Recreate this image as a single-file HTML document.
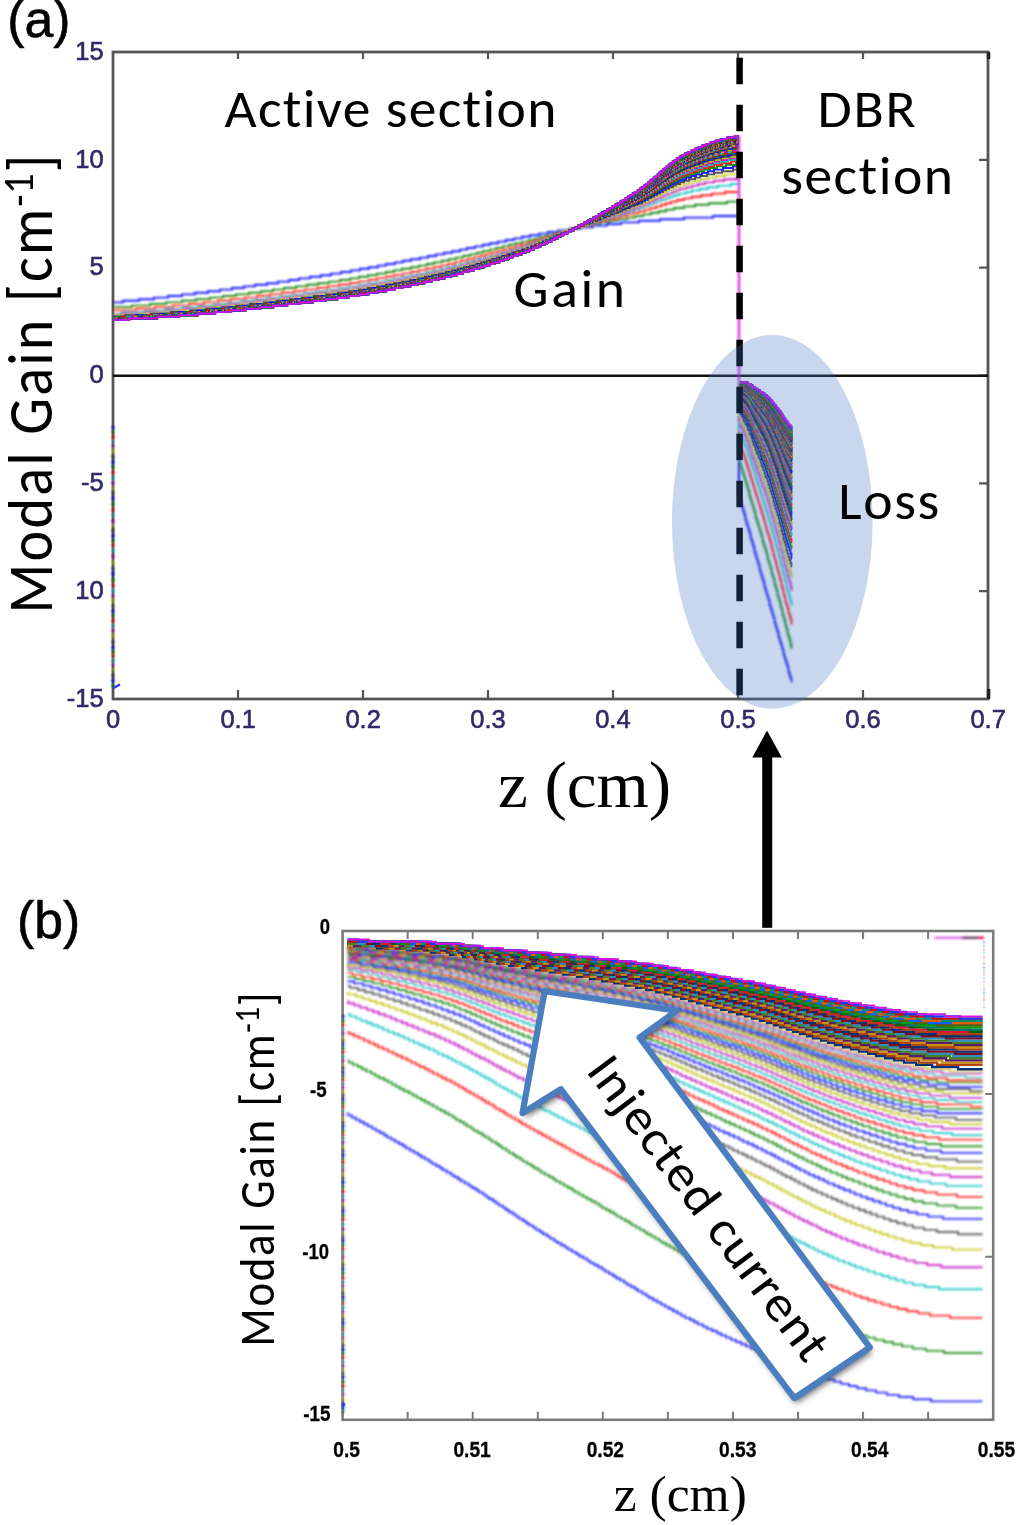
<!DOCTYPE html>
<html><head><meta charset="utf-8"><title>Modal gain</title>
<style>html,body{margin:0;padding:0;background:#fff}svg{display:block}text{font-variant-ligatures:none;font-feature-settings:"liga" 0,"clig" 0}</style>
</head><body>
<svg width="1020" height="1525" viewBox="0 0 1020 1525">
<rect width="1020" height="1525" fill="#fff"/>
<defs><filter id="sh" x="-20%" y="-20%" width="140%" height="140%"><feGaussianBlur stdDeviation="3"/></filter><filter id="bl" filterUnits="userSpaceOnUse" x="0" y="0" width="1020" height="1525"><feGaussianBlur stdDeviation="0.85"/></filter><filter id="bl2" filterUnits="userSpaceOnUse" x="0" y="0" width="1020" height="1525"><feGaussianBlur stdDeviation="0.45"/></filter></defs>
<path d="M238 699v-9M238 52v7M363 699v-9M363 52v7M488 699v-9M488 52v7M613 699v-9M613 52v7M738 699v-9M738 52v7M863 699v-9M863 52v7M988 159.83h-9M988 267.66h-9M988 375.5h-9M988 483.34h-9M988 591.17h-9" stroke="#555" stroke-width="2.2" fill="none"/>
<rect x="113" y="52" width="875" height="647" fill="none" stroke="#555" stroke-width="2.8"/>
<path d="M988.6 689v10M988.6 52v7" stroke="#222" stroke-width="3.4"/>
<line x1="113" y1="375.8" x2="988" y2="375.8" stroke="#111" stroke-width="2.6"/>
<g filter="url(#bl)">
<path d="M113.5 302.4H123.0V300.8H139.0V299.2H154.0V297.6H168.0V296.0H182.0V294.4H195.0V292.8H208.0V291.2H220.0V289.6H232.0V288.0H244.0V286.4H255.0V284.8H267.0V283.2H278.0V281.6H289.0V280.0H299.0V278.4H310.0V276.8H321.0V275.2H331.0V273.6H341.0V272.0H351.0V270.4H360.0V268.8H369.0V267.2H378.0V265.6H386.0V264.0H395.0V262.4H403.0V260.8H411.0V259.2H420.0V257.6H428.0V256.0H436.0V254.4H444.0V252.8H452.0V251.2H460.0V249.6H467.0V248.0H475.0V246.4H483.0V244.8H490.0V243.2H498.0V241.6H506.0V240.0H514.0V238.4H522.0V236.8H530.0V235.2H539.0V233.6H548.0V232.0H558.0V230.4H569.0V228.8H581.0V227.2H593.0V225.6H607.0V224.0H621.0V222.4H639.0V220.8H660.0V219.2H684.0V217.6H713.0V216.0H738.5" fill="none" stroke="#0000ff" stroke-width="1.9" stroke-opacity="0.9"/>
<path d="M113.5 307.2H132.0V305.6H150.0V304.0H166.0V302.4H182.0V300.8H196.0V299.2H210.0V297.6H223.0V296.0H236.0V294.4H249.0V292.8H261.0V291.2H273.0V289.6H284.0V288.0H296.0V286.4H307.0V284.8H318.0V283.2H329.0V281.6H340.0V280.0H350.0V278.4H359.0V276.8H368.0V275.2H377.0V273.6H386.0V272.0H394.0V270.4H402.0V268.8H411.0V267.2H419.0V265.6H427.0V264.0H434.0V262.4H442.0V260.8H449.0V259.2H456.0V257.6H463.0V256.0H470.0V254.4H477.0V252.8H483.0V251.2H490.0V249.6H496.0V248.0H503.0V246.4H509.0V244.8H516.0V243.2H522.0V241.6H529.0V240.0H535.0V238.4H540.0V236.8H546.0V235.2H552.0V233.6H558.0V232.0H564.0V230.4H571.0V228.8H578.0V227.2H585.0V225.6H593.0V224.0H601.0V222.4H610.0V220.8H618.0V219.2H627.0V217.6H635.0V216.0H643.0V214.4H651.0V212.8H659.0V211.2H666.0V209.6H674.0V208.0H684.0V206.4H695.0V204.8H709.0V203.2H727.0V201.6H738.5" fill="none" stroke="#008000" stroke-width="1.9" stroke-opacity="0.9"/>
<path d="M113.5 310.4H136.0V308.8H155.0V307.2H173.0V305.6H189.0V304.0H204.0V302.4H218.0V300.8H231.0V299.2H245.0V297.6H257.0V296.0H270.0V294.4H282.0V292.8H294.0V291.2H305.0V289.6H317.0V288.0H328.0V286.4H339.0V284.8H350.0V283.2H359.0V281.6H369.0V280.0H377.0V278.4H386.0V276.8H394.0V275.2H403.0V273.6H411.0V272.0H419.0V270.4H426.0V268.8H434.0V267.2H441.0V265.6H448.0V264.0H455.0V262.4H461.0V260.8H468.0V259.2H474.0V257.6H480.0V256.0H486.0V254.4H492.0V252.8H498.0V251.2H504.0V249.6H510.0V248.0H516.0V246.4H521.0V244.8H527.0V243.2H532.0V241.6H537.0V240.0H542.0V238.4H547.0V236.8H552.0V235.2H556.0V233.6H561.0V232.0H566.0V230.4H572.0V228.8H577.0V227.2H583.0V225.6H589.0V224.0H595.0V222.4H601.0V220.8H608.0V219.2H615.0V217.6H621.0V216.0H627.0V214.4H633.0V212.8H639.0V211.2H645.0V209.6H650.0V208.0H656.0V206.4H661.0V204.8H666.0V203.2H671.0V201.6H677.0V200.0H684.0V198.4H692.0V196.8H701.0V195.2H712.0V193.6H725.0V192.0H738.5" fill="none" stroke="#ff0000" stroke-width="1.9" stroke-opacity="0.9"/>
<path d="M113.5 313.6H122.0V312.0H145.0V310.4H165.0V308.8H182.0V307.2H198.0V305.6H213.0V304.0H228.0V302.4H241.0V300.8H254.0V299.2H267.0V297.6H280.0V296.0H292.0V294.4H304.0V292.8H316.0V291.2H327.0V289.6H339.0V288.0H349.0V286.4H359.0V284.8H368.0V283.2H377.0V281.6H386.0V280.0H394.0V278.4H402.0V276.8H410.0V275.2H418.0V273.6H426.0V272.0H433.0V270.4H440.0V268.8H447.0V267.2H453.0V265.6H460.0V264.0H466.0V262.4H472.0V260.8H478.0V259.2H484.0V257.6H490.0V256.0H496.0V254.4H501.0V252.8H507.0V251.2H512.0V249.6H517.0V248.0H523.0V246.4H528.0V244.8H532.0V243.2H537.0V241.6H541.0V240.0H546.0V238.4H550.0V236.8H554.0V235.2H559.0V233.6H563.0V232.0H567.0V230.4H572.0V228.8H577.0V227.2H582.0V225.6H587.0V224.0H592.0V222.4H598.0V220.8H603.0V219.2H609.0V217.6H614.0V216.0H620.0V214.4H625.0V212.8H630.0V211.2H635.0V209.6H640.0V208.0H645.0V206.4H649.0V204.8H653.0V203.2H657.0V201.6H661.0V200.0H666.0V198.4H670.0V196.8H674.0V195.2H679.0V193.6H686.0V192.0H692.0V190.4H700.0V188.8H708.0V187.2H718.0V185.6H731.0V184.0H738.5" fill="none" stroke="#00bfbf" stroke-width="1.9" stroke-opacity="0.9"/>
<path d="M113.5 315.2H121.0V313.6H145.0V312.0H166.0V310.4H184.0V308.8H200.0V307.2H215.0V305.6H230.0V304.0H244.0V302.4H257.0V300.8H270.0V299.2H283.0V297.6H295.0V296.0H307.0V294.4H319.0V292.8H331.0V291.2H342.0V289.6H353.0V288.0H362.0V286.4H371.0V284.8H380.0V283.2H389.0V281.6H397.0V280.0H405.0V278.4H413.0V276.8H421.0V275.2H428.0V273.6H435.0V272.0H442.0V270.4H449.0V268.8H455.0V267.2H461.0V265.6H467.0V264.0H473.0V262.4H479.0V260.8H485.0V259.2H490.0V257.6H496.0V256.0H501.0V254.4H506.0V252.8H512.0V251.2H517.0V249.6H522.0V248.0H527.0V246.4H531.0V244.8H536.0V243.2H540.0V241.6H544.0V240.0H548.0V238.4H552.0V236.8H556.0V235.2H560.0V233.6H564.0V232.0H568.0V230.4H572.0V228.8H577.0V227.2H581.0V225.6H586.0V224.0H590.0V222.4H595.0V220.8H600.0V219.2H605.0V217.6H610.0V216.0H615.0V214.4H620.0V212.8H625.0V211.2H629.0V209.6H634.0V208.0H638.0V206.4H642.0V204.8H646.0V203.2H650.0V201.6H654.0V200.0H657.0V198.4H661.0V196.8H664.0V195.2H668.0V193.6H672.0V192.0H676.0V190.4H680.0V188.8H686.0V187.2H692.0V185.6H698.0V184.0H705.0V182.4H714.0V180.8H724.0V179.2H737.0V177.6H738.5" fill="none" stroke="#bf00bf" stroke-width="1.9" stroke-opacity="0.9"/>
<path d="M113.5 315.2H139.0V313.6H161.0V312.0H180.0V310.4H197.0V308.8H213.0V307.2H228.0V305.6H242.0V304.0H255.0V302.4H269.0V300.8H281.0V299.2H294.0V297.6H306.0V296.0H318.0V294.4H330.0V292.8H342.0V291.2H352.0V289.6H362.0V288.0H371.0V286.4H380.0V284.8H389.0V283.2H397.0V281.6H405.0V280.0H413.0V278.4H420.0V276.8H427.0V275.2H435.0V273.6H441.0V272.0H448.0V270.4H454.0V268.8H460.0V267.2H466.0V265.6H472.0V264.0H478.0V262.4H484.0V260.8H489.0V259.2H494.0V257.6H500.0V256.0H505.0V254.4H510.0V252.8H515.0V251.2H520.0V249.6H525.0V248.0H529.0V246.4H533.0V244.8H537.0V243.2H541.0V241.6H545.0V240.0H549.0V238.4H553.0V236.8H557.0V235.2H560.0V233.6H564.0V232.0H568.0V230.4H572.0V228.8H576.0V227.2H581.0V225.6H585.0V224.0H589.0V222.4H594.0V220.8H598.0V219.2H603.0V217.6H608.0V216.0H612.0V214.4H617.0V212.8H621.0V211.2H625.0V209.6H629.0V208.0H633.0V206.4H638.0V204.8H641.0V203.2H645.0V201.6H649.0V200.0H652.0V198.4H655.0V196.8H658.0V195.2H661.0V193.6H665.0V192.0H668.0V190.4H671.0V188.8H675.0V187.2H679.0V185.6H684.0V184.0H689.0V182.4H695.0V180.8H701.0V179.2H708.0V177.6H716.0V176.0H725.0V174.4H738.0V172.8H738.5" fill="none" stroke="#bfbf00" stroke-width="1.9" stroke-opacity="0.9"/>
</g><g filter="url(#bl2)">
<path d="M113.5 316.8H125.0V315.2H151.0V313.6H171.0V312.0H190.0V310.4H206.0V308.8H222.0V307.2H236.0V305.6H250.0V304.0H264.0V302.4H277.0V300.8H290.0V299.2H302.0V297.6H314.0V296.0H326.0V294.4H338.0V292.8H349.0V291.2H359.0V289.6H368.0V288.0H377.0V286.4H386.0V284.8H394.0V283.2H402.0V281.6H410.0V280.0H418.0V278.4H425.0V276.8H432.0V275.2H439.0V273.6H446.0V272.0H452.0V270.4H458.0V268.8H464.0V267.2H470.0V265.6H476.0V264.0H481.0V262.4H487.0V260.8H492.0V259.2H497.0V257.6H502.0V256.0H507.0V254.4H512.0V252.8H517.0V251.2H522.0V249.6H527.0V248.0H531.0V246.4H535.0V244.8H539.0V243.2H543.0V241.6H546.0V240.0H550.0V238.4H554.0V236.8H557.0V235.2H561.0V233.6H565.0V232.0H569.0V230.4H572.0V228.8H576.0V227.2H580.0V225.6H584.0V224.0H589.0V222.4H593.0V220.8H597.0V219.2H601.0V217.6H606.0V216.0H610.0V214.4H614.0V212.8H618.0V211.2H622.0V209.6H626.0V208.0H630.0V206.4H634.0V204.8H638.0V203.2H642.0V201.6H645.0V200.0H648.0V198.4H651.0V196.8H654.0V195.2H657.0V193.6H660.0V192.0H663.0V190.4H666.0V188.8H669.0V187.2H673.0V185.6H676.0V184.0H680.0V182.4H684.0V180.8H689.0V179.2H695.0V177.6H700.0V176.0H707.0V174.4H714.0V172.8H722.0V171.2H733.0V169.6H738.5" fill="none" stroke="#404040" stroke-width="1.9" stroke-opacity="0.9"/>
<path d="M113.5 316.8H136.0V315.2H160.0V313.6H179.0V312.0H197.0V310.4H213.0V308.8H229.0V307.2H243.0V305.6H257.0V304.0H270.0V302.4H283.0V300.8H296.0V299.2H308.0V297.6H321.0V296.0H333.0V294.4H344.0V292.8H354.0V291.2H364.0V289.6H373.0V288.0H382.0V286.4H390.0V284.8H399.0V283.2H407.0V281.6H414.0V280.0H422.0V278.4H429.0V276.8H436.0V275.2H442.0V273.6H449.0V272.0H455.0V270.4H461.0V268.8H467.0V267.2H473.0V265.6H478.0V264.0H484.0V262.4H489.0V260.8H494.0V259.2H499.0V257.6H504.0V256.0H509.0V254.4H514.0V252.8H519.0V251.2H523.0V249.6H528.0V248.0H532.0V246.4H536.0V244.8H540.0V243.2H543.0V241.6H547.0V240.0H551.0V238.4H554.0V236.8H558.0V235.2H561.0V233.6H565.0V232.0H569.0V230.4H572.0V228.8H576.0V227.2H580.0V225.6H584.0V224.0H588.0V222.4H592.0V220.8H596.0V219.2H600.0V217.6H604.0V216.0H608.0V214.4H612.0V212.8H616.0V211.2H620.0V209.6H624.0V208.0H628.0V206.4H631.0V204.8H635.0V203.2H639.0V201.6H642.0V200.0H645.0V198.4H648.0V196.8H651.0V195.2H654.0V193.6H657.0V192.0H660.0V190.4H662.0V188.8H665.0V187.2H668.0V185.6H671.0V184.0H674.0V182.4H678.0V180.8H682.0V179.2H686.0V177.6H691.0V176.0H696.0V174.4H702.0V172.8H708.0V171.2H714.0V169.6H723.0V168.0H733.0V166.4H738.5" fill="none" stroke="#0000ff" stroke-width="1.9" stroke-opacity="0.9"/>
<path d="M113.5 318.4H114.0V316.8H144.0V315.2H166.0V313.6H186.0V312.0H203.0V310.4H219.0V308.8H234.0V307.2H248.0V305.6H262.0V304.0H275.0V302.4H288.0V300.8H301.0V299.2H313.0V297.6H325.0V296.0H337.0V294.4H348.0V292.8H358.0V291.2H368.0V289.6H377.0V288.0H386.0V286.4H394.0V284.8H402.0V283.2H410.0V281.6H417.0V280.0H425.0V278.4H432.0V276.8H438.0V275.2H445.0V273.6H451.0V272.0H457.0V270.4H463.0V268.8H469.0V267.2H475.0V265.6H480.0V264.0H485.0V262.4H491.0V260.8H496.0V259.2H501.0V257.6H506.0V256.0H511.0V254.4H515.0V252.8H520.0V251.2H525.0V249.6H529.0V248.0H533.0V246.4H537.0V244.8H540.0V243.2H544.0V241.6H548.0V240.0H551.0V238.4H555.0V236.8H558.0V235.2H562.0V233.6H565.0V232.0H569.0V230.4H573.0V228.8H576.0V227.2H580.0V225.6H584.0V224.0H588.0V222.4H591.0V220.8H595.0V219.2H599.0V217.6H603.0V216.0H607.0V214.4H611.0V212.8H615.0V211.2H619.0V209.6H622.0V208.0H626.0V206.4H629.0V204.8H633.0V203.2H636.0V201.6H640.0V200.0H643.0V198.4H646.0V196.8H649.0V195.2H652.0V193.6H654.0V192.0H657.0V190.4H660.0V188.8H662.0V187.2H665.0V185.6H668.0V184.0H671.0V182.4H674.0V180.8H677.0V179.2H680.0V177.6H685.0V176.0H689.0V174.4H694.0V172.8H699.0V171.2H704.0V169.6H710.0V168.0H717.0V166.4H726.0V164.8H736.0V163.2H738.5" fill="none" stroke="#008000" stroke-width="1.9" stroke-opacity="0.9"/>
<path d="M113.5 318.4H122.0V316.8H149.0V315.2H171.0V313.6H190.0V312.0H207.0V310.4H223.0V308.8H238.0V307.2H252.0V305.6H266.0V304.0H279.0V302.4H292.0V300.8H304.0V299.2H317.0V297.6H329.0V296.0H341.0V294.4H351.0V292.8H361.0V291.2H371.0V289.6H380.0V288.0H388.0V286.4H396.0V284.8H404.0V283.2H412.0V281.6H420.0V280.0H427.0V278.4H434.0V276.8H440.0V275.2H447.0V273.6H453.0V272.0H459.0V270.4H465.0V268.8H471.0V267.2H476.0V265.6H482.0V264.0H487.0V262.4H492.0V260.8H497.0V259.2H502.0V257.6H507.0V256.0H512.0V254.4H516.0V252.8H521.0V251.2H525.0V249.6H530.0V248.0H533.0V246.4H537.0V244.8H541.0V243.2H545.0V241.6H548.0V240.0H552.0V238.4H555.0V236.8H558.0V235.2H562.0V233.6H565.0V232.0H569.0V230.4H573.0V228.8H576.0V227.2H580.0V225.6H584.0V224.0H587.0V222.4H591.0V220.8H595.0V219.2H599.0V217.6H602.0V216.0H606.0V214.4H610.0V212.8H614.0V211.2H617.0V209.6H621.0V208.0H624.0V206.4H628.0V204.8H631.0V203.2H635.0V201.6H638.0V200.0H641.0V198.4H644.0V196.8H647.0V195.2H650.0V193.6H652.0V192.0H655.0V190.4H657.0V188.8H660.0V187.2H663.0V185.6H665.0V184.0H668.0V182.4H671.0V180.8H673.0V179.2H677.0V177.6H680.0V176.0H684.0V174.4H688.0V172.8H693.0V171.2H697.0V169.6H702.0V168.0H708.0V166.4H714.0V164.8H722.0V163.2H731.0V161.6H738.5" fill="none" stroke="#ff0000" stroke-width="1.9" stroke-opacity="0.9"/>
<path d="M113.5 318.4H127.0V316.8H154.0V315.2H175.0V313.6H194.0V312.0H211.0V310.4H226.0V308.8H241.0V307.2H255.0V305.6H269.0V304.0H282.0V302.4H295.0V300.8H308.0V299.2H320.0V297.6H332.0V296.0H344.0V294.4H354.0V292.8H364.0V291.2H373.0V289.6H382.0V288.0H390.0V286.4H398.0V284.8H406.0V283.2H414.0V281.6H421.0V280.0H429.0V278.4H435.0V276.8H442.0V275.2H448.0V273.6H454.0V272.0H460.0V270.4H466.0V268.8H472.0V267.2H477.0V265.6H483.0V264.0H488.0V262.4H493.0V260.8H498.0V259.2H503.0V257.6H508.0V256.0H512.0V254.4H517.0V252.8H522.0V251.2H526.0V249.6H530.0V248.0H534.0V246.4H538.0V244.8H541.0V243.2H545.0V241.6H548.0V240.0H552.0V238.4H555.0V236.8H559.0V235.2H562.0V233.6H566.0V232.0H569.0V230.4H573.0V228.8H576.0V227.2H580.0V225.6H583.0V224.0H587.0V222.4H591.0V220.8H594.0V219.2H598.0V217.6H602.0V216.0H605.0V214.4H609.0V212.8H613.0V211.2H616.0V209.6H620.0V208.0H623.0V206.4H627.0V204.8H630.0V203.2H633.0V201.6H636.0V200.0H639.0V198.4H642.0V196.8H645.0V195.2H648.0V193.6H651.0V192.0H653.0V190.4H656.0V188.8H658.0V187.2H661.0V185.6H663.0V184.0H666.0V182.4H668.0V180.8H671.0V179.2H674.0V177.6H677.0V176.0H680.0V174.4H684.0V172.8H688.0V171.2H692.0V169.6H697.0V168.0H702.0V166.4H707.0V164.8H713.0V163.2H720.0V161.6H728.0V160.0H738.5" fill="none" stroke="#00bfbf" stroke-width="1.9" stroke-opacity="0.9"/>
<path d="M113.5 318.4H132.0V316.8H158.0V315.2H179.0V313.6H197.0V312.0H214.0V310.4H229.0V308.8H244.0V307.2H258.0V305.6H271.0V304.0H285.0V302.4H297.0V300.8H310.0V299.2H322.0V297.6H335.0V296.0H346.0V294.4H356.0V292.8H366.0V291.2H375.0V289.6H384.0V288.0H392.0V286.4H400.0V284.8H408.0V283.2H415.0V281.6H423.0V280.0H430.0V278.4H437.0V276.8H443.0V275.2H450.0V273.6H456.0V272.0H462.0V270.4H467.0V268.8H473.0V267.2H478.0V265.6H484.0V264.0H489.0V262.4H494.0V260.8H499.0V259.2H504.0V257.6H508.0V256.0H513.0V254.4H518.0V252.8H522.0V251.2H527.0V249.6H531.0V248.0H534.0V246.4H538.0V244.8H542.0V243.2H545.0V241.6H549.0V240.0H552.0V238.4H556.0V236.8H559.0V235.2H562.0V233.6H566.0V232.0H569.0V230.4H573.0V228.8H576.0V227.2H580.0V225.6H583.0V224.0H587.0V222.4H590.0V220.8H594.0V219.2H598.0V217.6H601.0V216.0H605.0V214.4H608.0V212.8H612.0V211.2H615.0V209.6H619.0V208.0H622.0V206.4H625.0V204.8H629.0V203.2H632.0V201.6H635.0V200.0H638.0V198.4H641.0V196.8H644.0V195.2H647.0V193.6H649.0V192.0H652.0V190.4H654.0V188.8H657.0V187.2H659.0V185.6H661.0V184.0H664.0V182.4H666.0V180.8H669.0V179.2H671.0V177.6H674.0V176.0H677.0V174.4H680.0V172.8H684.0V171.2H688.0V169.6H692.0V168.0H697.0V166.4H702.0V164.8H707.0V163.2H713.0V161.6H719.0V160.0H727.0V158.4H738.0V156.8H738.5" fill="none" stroke="#bf00bf" stroke-width="1.9" stroke-opacity="0.9"/>
<path d="M113.5 318.4H135.0V316.8H161.0V315.2H181.0V313.6H199.0V312.0H216.0V310.4H231.0V308.8H246.0V307.2H260.0V305.6H273.0V304.0H287.0V302.4H299.0V300.8H312.0V299.2H324.0V297.6H336.0V296.0H348.0V294.4H358.0V292.8H367.0V291.2H376.0V289.6H385.0V288.0H393.0V286.4H401.0V284.8H409.0V283.2H417.0V281.6H424.0V280.0H431.0V278.4H438.0V276.8H444.0V275.2H450.0V273.6H457.0V272.0H462.0V270.4H468.0V268.8H474.0V267.2H479.0V265.6H484.0V264.0H489.0V262.4H495.0V260.8H499.0V259.2H504.0V257.6H509.0V256.0H514.0V254.4H518.0V252.8H523.0V251.2H527.0V249.6H531.0V248.0H535.0V246.4H538.0V244.8H542.0V243.2H545.0V241.6H549.0V240.0H552.0V238.4H556.0V236.8H559.0V235.2H562.0V233.6H566.0V232.0H569.0V230.4H573.0V228.8H576.0V227.2H580.0V225.6H583.0V224.0H587.0V222.4H590.0V220.8H594.0V219.2H597.0V217.6H601.0V216.0H604.0V214.4H608.0V212.8H611.0V211.2H615.0V209.6H618.0V208.0H621.0V206.4H625.0V204.8H628.0V203.2H631.0V201.6H634.0V200.0H637.0V198.4H640.0V196.8H643.0V195.2H645.0V193.6H648.0V192.0H651.0V190.4H653.0V188.8H655.0V187.2H658.0V185.6H660.0V184.0H662.0V182.4H665.0V180.8H667.0V179.2H670.0V177.6H672.0V176.0H675.0V174.4H678.0V172.8H681.0V171.2H685.0V169.6H689.0V168.0H693.0V166.4H698.0V164.8H702.0V163.2H707.0V161.6H713.0V160.0H720.0V158.4H728.0V156.8H738.0V155.2H738.5" fill="none" stroke="#bfbf00" stroke-width="1.9" stroke-opacity="0.9"/>
<path d="M113.5 318.4H138.0V316.8H163.0V315.2H183.0V313.6H201.0V312.0H218.0V310.4H233.0V308.8H248.0V307.2H262.0V305.6H275.0V304.0H288.0V302.4H301.0V300.8H314.0V299.2H326.0V297.6H338.0V296.0H349.0V294.4H359.0V292.8H369.0V291.2H378.0V289.6H386.0V288.0H395.0V286.4H403.0V284.8H410.0V283.2H418.0V281.6H425.0V280.0H432.0V278.4H439.0V276.8H445.0V275.2H451.0V273.6H457.0V272.0H463.0V270.4H469.0V268.8H474.0V267.2H480.0V265.6H485.0V264.0H490.0V262.4H495.0V260.8H500.0V259.2H505.0V257.6H509.0V256.0H514.0V254.4H519.0V252.8H523.0V251.2H527.0V249.6H531.0V248.0H535.0V246.4H539.0V244.8H542.0V243.2H546.0V241.6H549.0V240.0H552.0V238.4H556.0V236.8H559.0V235.2H563.0V233.6H566.0V232.0H569.0V230.4H573.0V228.8H576.0V227.2H580.0V225.6H583.0V224.0H586.0V222.4H590.0V220.8H593.0V219.2H597.0V217.6H600.0V216.0H604.0V214.4H607.0V212.8H611.0V211.2H614.0V209.6H617.0V208.0H621.0V206.4H624.0V204.8H627.0V203.2H630.0V201.6H633.0V200.0H636.0V198.4H639.0V196.8H642.0V195.2H644.0V193.6H647.0V192.0H649.0V190.4H652.0V188.8H654.0V187.2H656.0V185.6H659.0V184.0H661.0V182.4H663.0V180.8H666.0V179.2H668.0V177.6H671.0V176.0H673.0V174.4H676.0V172.8H679.0V171.2H682.0V169.6H686.0V168.0H690.0V166.4H694.0V164.8H699.0V163.2H703.0V161.6H708.0V160.0H714.0V158.4H721.0V156.8H729.0V155.2H738.5" fill="none" stroke="#404040" stroke-width="1.9" stroke-opacity="0.9"/>
<path d="M113.5 318.4H141.0V316.8H165.0V315.2H185.0V313.6H203.0V312.0H219.0V310.4H235.0V308.8H249.0V307.2H263.0V305.6H277.0V304.0H290.0V302.4H302.0V300.8H315.0V299.2H327.0V297.6H339.0V296.0H350.0V294.4H360.0V292.8H370.0V291.2H379.0V289.6H387.0V288.0H396.0V286.4H403.0V284.8H411.0V283.2H419.0V281.6H426.0V280.0H433.0V278.4H439.0V276.8H446.0V275.2H452.0V273.6H458.0V272.0H464.0V270.4H469.0V268.8H475.0V267.2H480.0V265.6H485.0V264.0H491.0V262.4H496.0V260.8H500.0V259.2H505.0V257.6H510.0V256.0H514.0V254.4H519.0V252.8H523.0V251.2H528.0V249.6H531.0V248.0H535.0V246.4H539.0V244.8H542.0V243.2H546.0V241.6H549.0V240.0H553.0V238.4H556.0V236.8H559.0V235.2H563.0V233.6H566.0V232.0H569.0V230.4H573.0V228.8H576.0V227.2H579.0V225.6H583.0V224.0H586.0V222.4H590.0V220.8H593.0V219.2H597.0V217.6H600.0V216.0H603.0V214.4H607.0V212.8H610.0V211.2H613.0V209.6H617.0V208.0H620.0V206.4H623.0V204.8H626.0V203.2H629.0V201.6H632.0V200.0H635.0V198.4H638.0V196.8H641.0V195.2H644.0V193.6H646.0V192.0H649.0V190.4H651.0V188.8H653.0V187.2H655.0V185.6H658.0V184.0H660.0V182.4H662.0V180.8H665.0V179.2H667.0V177.6H669.0V176.0H672.0V174.4H674.0V172.8H677.0V171.2H680.0V169.6H684.0V168.0H687.0V166.4H691.0V164.8H695.0V163.2H700.0V161.6H705.0V160.0H710.0V158.4H716.0V156.8H723.0V155.2H731.0V153.6H738.5" fill="none" stroke="#0000ff" stroke-width="1.9" stroke-opacity="0.9"/>
<path d="M113.5 318.4H143.0V316.8H167.0V315.2H187.0V313.6H204.0V312.0H221.0V310.4H236.0V308.8H250.0V307.2H264.0V305.6H278.0V304.0H291.0V302.4H304.0V300.8H316.0V299.2H329.0V297.6H340.0V296.0H351.0V294.4H361.0V292.8H371.0V291.2H380.0V289.6H388.0V288.0H396.0V286.4H404.0V284.8H412.0V283.2H419.0V281.6H426.0V280.0H433.0V278.4H440.0V276.8H446.0V275.2H452.0V273.6H458.0V272.0H464.0V270.4H470.0V268.8H475.0V267.2H481.0V265.6H486.0V264.0H491.0V262.4H496.0V260.8H501.0V259.2H506.0V257.6H510.0V256.0H515.0V254.4H519.0V252.8H524.0V251.2H528.0V249.6H532.0V248.0H535.0V246.4H539.0V244.8H543.0V243.2H546.0V241.6H549.0V240.0H553.0V238.4H556.0V236.8H559.0V235.2H563.0V233.6H566.0V232.0H569.0V230.4H573.0V228.8H576.0V227.2H579.0V225.6H583.0V224.0H586.0V222.4H590.0V220.8H593.0V219.2H596.0V217.6H600.0V216.0H603.0V214.4H606.0V212.8H610.0V211.2H613.0V209.6H616.0V208.0H619.0V206.4H622.0V204.8H625.0V203.2H628.0V201.6H631.0V200.0H634.0V198.4H637.0V196.8H640.0V195.2H643.0V193.6H645.0V192.0H648.0V190.4H650.0V188.8H652.0V187.2H655.0V185.6H657.0V184.0H659.0V182.4H661.0V180.8H663.0V179.2H666.0V177.6H668.0V176.0H670.0V174.4H673.0V172.8H676.0V171.2H678.0V169.6H682.0V168.0H685.0V166.4H689.0V164.8H693.0V163.2H697.0V161.6H702.0V160.0H706.0V158.4H712.0V156.8H718.0V155.2H725.0V153.6H733.0V152.0H738.5" fill="none" stroke="#008000" stroke-width="1.9" stroke-opacity="0.9"/>
<path d="M113.5 318.4H144.0V316.8H168.0V315.2H188.0V313.6H206.0V312.0H222.0V310.4H237.0V308.8H251.0V307.2H265.0V305.6H279.0V304.0H292.0V302.4H305.0V300.8H317.0V299.2H330.0V297.6H341.0V296.0H352.0V294.4H362.0V292.8H371.0V291.2H380.0V289.6H389.0V288.0H397.0V286.4H405.0V284.8H412.0V283.2H420.0V281.6H427.0V280.0H434.0V278.4H440.0V276.8H447.0V275.2H453.0V273.6H459.0V272.0H465.0V270.4H470.0V268.8H476.0V267.2H481.0V265.6H486.0V264.0H491.0V262.4H496.0V260.8H501.0V259.2H506.0V257.6H510.0V256.0H515.0V254.4H519.0V252.8H524.0V251.2H528.0V249.6H532.0V248.0H536.0V246.4H539.0V244.8H543.0V243.2H546.0V241.6H550.0V240.0H553.0V238.4H556.0V236.8H559.0V235.2H563.0V233.6H566.0V232.0H569.0V230.4H573.0V228.8H576.0V227.2H579.0V225.6H583.0V224.0H586.0V222.4H589.0V220.8H593.0V219.2H596.0V217.6H599.0V216.0H603.0V214.4H606.0V212.8H609.0V211.2H612.0V209.6H616.0V208.0H619.0V206.4H622.0V204.8H625.0V203.2H628.0V201.6H631.0V200.0H634.0V198.4H636.0V196.8H639.0V195.2H642.0V193.6H645.0V192.0H647.0V190.4H649.0V188.8H652.0V187.2H654.0V185.6H656.0V184.0H658.0V182.4H660.0V180.8H663.0V179.2H665.0V177.6H667.0V176.0H669.0V174.4H672.0V172.8H674.0V171.2H677.0V169.6H680.0V168.0H683.0V166.4H687.0V164.8H691.0V163.2H695.0V161.6H699.0V160.0H703.0V158.4H708.0V156.8H714.0V155.2H720.0V153.6H728.0V152.0H737.0V150.4H738.5" fill="none" stroke="#ff0000" stroke-width="1.9" stroke-opacity="0.9"/>
<path d="M113.5 320.0H114.0V318.4H146.0V316.8H169.0V315.2H189.0V313.6H207.0V312.0H223.0V310.4H238.0V308.8H252.0V307.2H266.0V305.6H280.0V304.0H293.0V302.4H305.0V300.8H318.0V299.2H330.0V297.6H342.0V296.0H353.0V294.4H363.0V292.8H372.0V291.2H381.0V289.6H389.0V288.0H398.0V286.4H405.0V284.8H413.0V283.2H420.0V281.6H428.0V280.0H434.0V278.4H441.0V276.8H447.0V275.2H453.0V273.6H459.0V272.0H465.0V270.4H471.0V268.8H476.0V267.2H481.0V265.6H486.0V264.0H492.0V262.4H496.0V260.8H501.0V259.2H506.0V257.6H511.0V256.0H515.0V254.4H520.0V252.8H524.0V251.2H528.0V249.6H532.0V248.0H536.0V246.4H539.0V244.8H543.0V243.2H546.0V241.6H550.0V240.0H553.0V238.4H556.0V236.8H560.0V235.2H563.0V233.6H566.0V232.0H569.0V230.4H573.0V228.8H576.0V227.2H579.0V225.6H583.0V224.0H586.0V222.4H589.0V220.8H593.0V219.2H596.0V217.6H599.0V216.0H602.0V214.4H606.0V212.8H609.0V211.2H612.0V209.6H615.0V208.0H618.0V206.4H621.0V204.8H624.0V203.2H627.0V201.6H630.0V200.0H633.0V198.4H636.0V196.8H639.0V195.2H641.0V193.6H644.0V192.0H646.0V190.4H649.0V188.8H651.0V187.2H653.0V185.6H655.0V184.0H657.0V182.4H660.0V180.8H662.0V179.2H664.0V177.6H666.0V176.0H668.0V174.4H671.0V172.8H673.0V171.2H676.0V169.6H679.0V168.0H682.0V166.4H685.0V164.8H689.0V163.2H693.0V161.6H697.0V160.0H701.0V158.4H706.0V156.8H711.0V155.2H717.0V153.6H723.0V152.0H731.0V150.4H738.5" fill="none" stroke="#00bfbf" stroke-width="1.9" stroke-opacity="0.9"/>
<path d="M113.5 320.0H115.0V318.4H147.0V316.8H170.0V315.2H190.0V313.6H207.0V312.0H224.0V310.4H239.0V308.8H253.0V307.2H267.0V305.6H280.0V304.0H293.0V302.4H306.0V300.8H319.0V299.2H331.0V297.6H343.0V296.0H353.0V294.4H363.0V292.8H373.0V291.2H381.0V289.6H390.0V288.0H398.0V286.4H406.0V284.8H413.0V283.2H421.0V281.6H428.0V280.0H435.0V278.4H441.0V276.8H448.0V275.2H454.0V273.6H460.0V272.0H465.0V270.4H471.0V268.8H476.0V267.2H482.0V265.6H487.0V264.0H492.0V262.4H497.0V260.8H502.0V259.2H506.0V257.6H511.0V256.0H515.0V254.4H520.0V252.8H524.0V251.2H528.0V249.6H532.0V248.0H536.0V246.4H539.0V244.8H543.0V243.2H546.0V241.6H550.0V240.0H553.0V238.4H556.0V236.8H560.0V235.2H563.0V233.6H566.0V232.0H569.0V230.4H573.0V228.8H576.0V227.2H579.0V225.6H583.0V224.0H586.0V222.4H589.0V220.8H592.0V219.2H596.0V217.6H599.0V216.0H602.0V214.4H605.0V212.8H609.0V211.2H612.0V209.6H615.0V208.0H618.0V206.4H621.0V204.8H624.0V203.2H627.0V201.6H630.0V200.0H632.0V198.4H635.0V196.8H638.0V195.2H641.0V193.6H643.0V192.0H646.0V190.4H648.0V188.8H650.0V187.2H653.0V185.6H655.0V184.0H657.0V182.4H659.0V180.8H661.0V179.2H663.0V177.6H665.0V176.0H668.0V174.4H670.0V172.8H672.0V171.2H675.0V169.6H677.0V168.0H680.0V166.4H684.0V164.8H687.0V163.2H691.0V161.6H695.0V160.0H699.0V158.4H703.0V156.8H708.0V155.2H713.0V153.6H719.0V152.0H727.0V150.4H735.0V148.8H738.5" fill="none" stroke="#bf00bf" stroke-width="1.9" stroke-opacity="0.9"/>
<path d="M113.5 320.0H117.0V318.4H148.0V316.8H171.0V315.2H191.0V313.6H208.0V312.0H224.0V310.4H239.0V308.8H254.0V307.2H268.0V305.6H281.0V304.0H294.0V302.4H307.0V300.8H319.0V299.2H332.0V297.6H343.0V296.0H354.0V294.4H364.0V292.8H373.0V291.2H382.0V289.6H390.0V288.0H398.0V286.4H406.0V284.8H414.0V283.2H421.0V281.6H428.0V280.0H435.0V278.4H442.0V276.8H448.0V275.2H454.0V273.6H460.0V272.0H466.0V270.4H471.0V268.8H477.0V267.2H482.0V265.6H487.0V264.0H492.0V262.4H497.0V260.8H502.0V259.2H506.0V257.6H511.0V256.0H516.0V254.4H520.0V252.8H524.0V251.2H528.0V249.6H532.0V248.0H536.0V246.4H540.0V244.8H543.0V243.2H546.0V241.6H550.0V240.0H553.0V238.4H556.0V236.8H560.0V235.2H563.0V233.6H566.0V232.0H569.0V230.4H573.0V228.8H576.0V227.2H579.0V225.6H583.0V224.0H586.0V222.4H589.0V220.8H592.0V219.2H596.0V217.6H599.0V216.0H602.0V214.4H605.0V212.8H608.0V211.2H611.0V209.6H615.0V208.0H618.0V206.4H621.0V204.8H623.0V203.2H626.0V201.6H629.0V200.0H632.0V198.4H635.0V196.8H637.0V195.2H640.0V193.6H643.0V192.0H645.0V190.4H648.0V188.8H650.0V187.2H652.0V185.6H654.0V184.0H656.0V182.4H658.0V180.8H660.0V179.2H663.0V177.6H665.0V176.0H667.0V174.4H669.0V172.8H671.0V171.2H674.0V169.6H676.0V168.0H679.0V166.4H682.0V164.8H686.0V163.2H689.0V161.6H693.0V160.0H697.0V158.4H701.0V156.8H706.0V155.2H711.0V153.6H716.0V152.0H723.0V150.4H731.0V148.8H738.5" fill="none" stroke="#bfbf00" stroke-width="1.9" stroke-opacity="0.9"/>
<path d="M113.5 320.0H118.0V318.4H149.0V316.8H172.0V315.2H191.0V313.6H209.0V312.0H225.0V310.4H240.0V308.8H254.0V307.2H268.0V305.6H282.0V304.0H295.0V302.4H307.0V300.8H320.0V299.2H332.0V297.6H344.0V296.0H354.0V294.4H364.0V292.8H374.0V291.2H382.0V289.6H391.0V288.0H399.0V286.4H407.0V284.8H414.0V283.2H422.0V281.6H429.0V280.0H435.0V278.4H442.0V276.8H448.0V275.2H454.0V273.6H460.0V272.0H466.0V270.4H471.0V268.8H477.0V267.2H482.0V265.6H487.0V264.0H492.0V262.4H497.0V260.8H502.0V259.2H507.0V257.6H511.0V256.0H516.0V254.4H520.0V252.8H524.0V251.2H528.0V249.6H532.0V248.0H536.0V246.4H540.0V244.8H543.0V243.2H547.0V241.6H550.0V240.0H553.0V238.4H556.0V236.8H560.0V235.2H563.0V233.6H566.0V232.0H569.0V230.4H573.0V228.8H576.0V227.2H579.0V225.6H583.0V224.0H586.0V222.4H589.0V220.8H592.0V219.2H595.0V217.6H599.0V216.0H602.0V214.4H605.0V212.8H608.0V211.2H611.0V209.6H614.0V208.0H617.0V206.4H620.0V204.8H623.0V203.2H626.0V201.6H629.0V200.0H632.0V198.4H634.0V196.8H637.0V195.2H640.0V193.6H642.0V192.0H645.0V190.4H647.0V188.8H649.0V187.2H651.0V185.6H654.0V184.0H656.0V182.4H658.0V180.8H660.0V179.2H662.0V177.6H664.0V176.0H666.0V174.4H668.0V172.8H671.0V171.2H673.0V169.6H675.0V168.0H678.0V166.4H681.0V164.8H684.0V163.2H688.0V161.6H692.0V160.0H695.0V158.4H700.0V156.8H704.0V155.2H709.0V153.6H714.0V152.0H720.0V150.4H727.0V148.8H736.0V147.2H738.5" fill="none" stroke="#404040" stroke-width="1.9" stroke-opacity="0.9"/>
<path d="M113.5 320.0H119.0V318.4H150.0V316.8H172.0V315.2H192.0V313.6H209.0V312.0H225.0V310.4H241.0V308.8H255.0V307.2H269.0V305.6H282.0V304.0H295.0V302.4H308.0V300.8H320.0V299.2H333.0V297.6H344.0V296.0H355.0V294.4H365.0V292.8H374.0V291.2H383.0V289.6H391.0V288.0H399.0V286.4H407.0V284.8H415.0V283.2H422.0V281.6H429.0V280.0H436.0V278.4H442.0V276.8H448.0V275.2H454.0V273.6H460.0V272.0H466.0V270.4H472.0V268.8H477.0V267.2H482.0V265.6H487.0V264.0H492.0V262.4H497.0V260.8H502.0V259.2H507.0V257.6H511.0V256.0H516.0V254.4H520.0V252.8H525.0V251.2H529.0V249.6H532.0V248.0H536.0V246.4H540.0V244.8H543.0V243.2H547.0V241.6H550.0V240.0H553.0V238.4H557.0V236.8H560.0V235.2H563.0V233.6H566.0V232.0H569.0V230.4H573.0V228.8H576.0V227.2H579.0V225.6H582.0V224.0H586.0V222.4H589.0V220.8H592.0V219.2H595.0V217.6H598.0V216.0H602.0V214.4H605.0V212.8H608.0V211.2H611.0V209.6H614.0V208.0H617.0V206.4H620.0V204.8H623.0V203.2H626.0V201.6H628.0V200.0H631.0V198.4H634.0V196.8H637.0V195.2H639.0V193.6H642.0V192.0H644.0V190.4H647.0V188.8H649.0V187.2H651.0V185.6H653.0V184.0H655.0V182.4H657.0V180.8H659.0V179.2H661.0V177.6H663.0V176.0H666.0V174.4H668.0V172.8H670.0V171.2H672.0V169.6H675.0V168.0H677.0V166.4H680.0V164.8H683.0V163.2H687.0V161.6H690.0V160.0H694.0V158.4H698.0V156.8H702.0V155.2H707.0V153.6H712.0V152.0H717.0V150.4H724.0V148.8H732.0V147.2H738.5" fill="none" stroke="#0000ff" stroke-width="1.9" stroke-opacity="0.9"/>
<path d="M113.5 320.0H120.0V318.4H150.0V316.8H173.0V315.2H192.0V313.6H210.0V312.0H226.0V310.4H241.0V308.8H255.0V307.2H269.0V305.6H283.0V304.0H296.0V302.4H308.0V300.8H321.0V299.2H333.0V297.6H345.0V296.0H355.0V294.4H365.0V292.8H374.0V291.2H383.0V289.6H391.0V288.0H399.0V286.4H407.0V284.8H415.0V283.2H422.0V281.6H429.0V280.0H436.0V278.4H442.0V276.8H449.0V275.2H455.0V273.6H461.0V272.0H466.0V270.4H472.0V268.8H477.0V267.2H482.0V265.6H487.0V264.0H492.0V262.4H497.0V260.8H502.0V259.2H507.0V257.6H511.0V256.0H516.0V254.4H520.0V252.8H525.0V251.2H529.0V249.6H532.0V248.0H536.0V246.4H540.0V244.8H543.0V243.2H547.0V241.6H550.0V240.0H553.0V238.4H557.0V236.8H560.0V235.2H563.0V233.6H566.0V232.0H569.0V230.4H573.0V228.8H576.0V227.2H579.0V225.6H582.0V224.0H586.0V222.4H589.0V220.8H592.0V219.2H595.0V217.6H598.0V216.0H601.0V214.4H605.0V212.8H608.0V211.2H611.0V209.6H614.0V208.0H617.0V206.4H620.0V204.8H622.0V203.2H625.0V201.6H628.0V200.0H631.0V198.4H633.0V196.8H636.0V195.2H639.0V193.6H641.0V192.0H644.0V190.4H646.0V188.8H648.0V187.2H651.0V185.6H653.0V184.0H655.0V182.4H657.0V180.8H659.0V179.2H661.0V177.6H663.0V176.0H665.0V174.4H667.0V172.8H669.0V171.2H672.0V169.6H674.0V168.0H676.0V166.4H679.0V164.8H682.0V163.2H685.0V161.6H689.0V160.0H693.0V158.4H697.0V156.8H701.0V155.2H705.0V153.6H710.0V152.0H715.0V150.4H721.0V148.8H728.0V147.2H737.0V145.6H738.5" fill="none" stroke="#008000" stroke-width="1.9" stroke-opacity="0.9"/>
<path d="M113.5 320.0H121.0V318.4H151.0V316.8H174.0V315.2H193.0V313.6H210.0V312.0H226.0V310.4H241.0V308.8H256.0V307.2H270.0V305.6H283.0V304.0H296.0V302.4H309.0V300.8H321.0V299.2H334.0V297.6H345.0V296.0H356.0V294.4H365.0V292.8H375.0V291.2H383.0V289.6H392.0V288.0H400.0V286.4H407.0V284.8H415.0V283.2H422.0V281.6H429.0V280.0H436.0V278.4H443.0V276.8H449.0V275.2H455.0V273.6H461.0V272.0H466.0V270.4H472.0V268.8H477.0V267.2H482.0V265.6H488.0V264.0H493.0V262.4H497.0V260.8H502.0V259.2H507.0V257.6H512.0V256.0H516.0V254.4H520.0V252.8H525.0V251.2H529.0V249.6H533.0V248.0H536.0V246.4H540.0V244.8H543.0V243.2H547.0V241.6H550.0V240.0H553.0V238.4H557.0V236.8H560.0V235.2H563.0V233.6H566.0V232.0H569.0V230.4H573.0V228.8H576.0V227.2H579.0V225.6H582.0V224.0H586.0V222.4H589.0V220.8H592.0V219.2H595.0V217.6H598.0V216.0H601.0V214.4H604.0V212.8H607.0V211.2H610.0V209.6H613.0V208.0H616.0V206.4H619.0V204.8H622.0V203.2H625.0V201.6H628.0V200.0H630.0V198.4H633.0V196.8H636.0V195.2H638.0V193.6H641.0V192.0H643.0V190.4H646.0V188.8H648.0V187.2H650.0V185.6H652.0V184.0H654.0V182.4H656.0V180.8H658.0V179.2H660.0V177.6H662.0V176.0H665.0V174.4H667.0V172.8H669.0V171.2H671.0V169.6H673.0V168.0H676.0V166.4H678.0V164.8H681.0V163.2H684.0V161.6H688.0V160.0H691.0V158.4H695.0V156.8H699.0V155.2H704.0V153.6H708.0V152.0H713.0V150.4H719.0V148.8H726.0V147.2H734.0V145.6H738.5" fill="none" stroke="#ff0000" stroke-width="1.9" stroke-opacity="0.9"/>
<path d="M113.5 320.0H122.0V318.4H151.0V316.8H174.0V315.2H193.0V313.6H211.0V312.0H227.0V310.4H242.0V308.8H256.0V307.2H270.0V305.6H283.0V304.0H296.0V302.4H309.0V300.8H322.0V299.2H334.0V297.6H345.0V296.0H356.0V294.4H366.0V292.8H375.0V291.2H384.0V289.6H392.0V288.0H400.0V286.4H408.0V284.8H415.0V283.2H423.0V281.6H430.0V280.0H436.0V278.4H443.0V276.8H449.0V275.2H455.0V273.6H461.0V272.0H467.0V270.4H472.0V268.8H477.0V267.2H483.0V265.6H488.0V264.0H493.0V262.4H498.0V260.8H502.0V259.2H507.0V257.6H512.0V256.0H516.0V254.4H521.0V252.8H525.0V251.2H529.0V249.6H533.0V248.0H536.0V246.4H540.0V244.8H543.0V243.2H547.0V241.6H550.0V240.0H553.0V238.4H557.0V236.8H560.0V235.2H563.0V233.6H566.0V232.0H570.0V230.4H573.0V228.8H576.0V227.2H579.0V225.6H582.0V224.0H586.0V222.4H589.0V220.8H592.0V219.2H595.0V217.6H598.0V216.0H601.0V214.4H604.0V212.8H607.0V211.2H610.0V209.6H613.0V208.0H616.0V206.4H619.0V204.8H622.0V203.2H625.0V201.6H627.0V200.0H630.0V198.4H633.0V196.8H635.0V195.2H638.0V193.6H641.0V192.0H643.0V190.4H645.0V188.8H648.0V187.2H650.0V185.6H652.0V184.0H654.0V182.4H656.0V180.8H658.0V179.2H660.0V177.6H662.0V176.0H664.0V174.4H666.0V172.8H668.0V171.2H670.0V169.6H673.0V168.0H675.0V166.4H678.0V164.8H680.0V163.2H684.0V161.6H687.0V160.0H690.0V158.4H694.0V156.8H698.0V155.2H702.0V153.6H707.0V152.0H712.0V150.4H717.0V148.8H723.0V147.2H731.0V145.6H738.5" fill="none" stroke="#00bfbf" stroke-width="1.9" stroke-opacity="0.9"/>
<path d="M113.5 320.0H122.0V318.4H152.0V316.8H174.0V315.2H194.0V313.6H211.0V312.0H227.0V310.4H242.0V308.8H256.0V307.2H270.0V305.6H284.0V304.0H297.0V302.4H309.0V300.8H322.0V299.2H334.0V297.6H346.0V296.0H356.0V294.4H366.0V292.8H375.0V291.2H384.0V289.6H392.0V288.0H400.0V286.4H408.0V284.8H415.0V283.2H423.0V281.6H430.0V280.0H436.0V278.4H443.0V276.8H449.0V275.2H455.0V273.6H461.0V272.0H467.0V270.4H472.0V268.8H478.0V267.2H483.0V265.6H488.0V264.0H493.0V262.4H498.0V260.8H502.0V259.2H507.0V257.6H512.0V256.0H516.0V254.4H521.0V252.8H525.0V251.2H529.0V249.6H533.0V248.0H536.0V246.4H540.0V244.8H543.0V243.2H547.0V241.6H550.0V240.0H553.0V238.4H557.0V236.8H560.0V235.2H563.0V233.6H566.0V232.0H570.0V230.4H573.0V228.8H576.0V227.2H579.0V225.6H582.0V224.0H586.0V222.4H589.0V220.8H592.0V219.2H595.0V217.6H598.0V216.0H601.0V214.4H604.0V212.8H607.0V211.2H610.0V209.6H613.0V208.0H616.0V206.4H619.0V204.8H622.0V203.2H624.0V201.6H627.0V200.0H630.0V198.4H632.0V196.8H635.0V195.2H638.0V193.6H640.0V192.0H643.0V190.4H645.0V188.8H647.0V187.2H649.0V185.6H652.0V184.0H654.0V182.4H656.0V180.8H658.0V179.2H660.0V177.6H662.0V176.0H664.0V174.4H666.0V172.8H668.0V171.2H670.0V169.6H672.0V168.0H675.0V166.4H677.0V164.8H680.0V163.2H683.0V161.6H686.0V160.0H689.0V158.4H693.0V156.8H697.0V155.2H701.0V153.6H705.0V152.0H710.0V150.4H715.0V148.8H721.0V147.2H728.0V145.6H737.0V144.0H738.5" fill="none" stroke="#bf00bf" stroke-width="1.9" stroke-opacity="0.9"/>
<path d="M113.5 320.0H123.0V318.4H152.0V316.8H175.0V315.2H194.0V313.6H211.0V312.0H227.0V310.4H242.0V308.8H257.0V307.2H271.0V305.6H284.0V304.0H297.0V302.4H310.0V300.8H322.0V299.2H335.0V297.6H346.0V296.0H356.0V294.4H366.0V292.8H375.0V291.2H384.0V289.6H392.0V288.0H400.0V286.4H408.0V284.8H416.0V283.2H423.0V281.6H430.0V280.0H437.0V278.4H443.0V276.8H449.0V275.2H455.0V273.6H461.0V272.0H467.0V270.4H472.0V268.8H478.0V267.2H483.0V265.6H488.0V264.0H493.0V262.4H498.0V260.8H503.0V259.2H507.0V257.6H512.0V256.0H516.0V254.4H521.0V252.8H525.0V251.2H529.0V249.6H533.0V248.0H536.0V246.4H540.0V244.8H543.0V243.2H547.0V241.6H550.0V240.0H553.0V238.4H557.0V236.8H560.0V235.2H563.0V233.6H566.0V232.0H570.0V230.4H573.0V228.8H576.0V227.2H579.0V225.6H582.0V224.0H585.0V222.4H589.0V220.8H592.0V219.2H595.0V217.6H598.0V216.0H601.0V214.4H604.0V212.8H607.0V211.2H610.0V209.6H613.0V208.0H616.0V206.4H619.0V204.8H621.0V203.2H624.0V201.6H627.0V200.0H630.0V198.4H632.0V196.8H635.0V195.2H637.0V193.6H640.0V192.0H642.0V190.4H645.0V188.8H647.0V187.2H649.0V185.6H651.0V184.0H653.0V182.4H655.0V180.8H657.0V179.2H659.0V177.6H661.0V176.0H663.0V174.4H665.0V172.8H667.0V171.2H669.0V169.6H672.0V168.0H674.0V166.4H676.0V164.8H679.0V163.2H682.0V161.6H685.0V160.0H689.0V158.4H692.0V156.8H696.0V155.2H700.0V153.6H704.0V152.0H709.0V150.4H714.0V148.8H719.0V147.2H726.0V145.6H734.0V144.0H738.5" fill="none" stroke="#bfbf00" stroke-width="1.9" stroke-opacity="0.9"/>
<path d="M113.5 320.0H123.0V318.4H153.0V316.8H175.0V315.2H194.0V313.6H212.0V312.0H228.0V310.4H243.0V308.8H257.0V307.2H271.0V305.6H284.0V304.0H297.0V302.4H310.0V300.8H322.0V299.2H335.0V297.6H346.0V296.0H357.0V294.4H366.0V292.8H375.0V291.2H384.0V289.6H392.0V288.0H400.0V286.4H408.0V284.8H416.0V283.2H423.0V281.6H430.0V280.0H437.0V278.4H443.0V276.8H449.0V275.2H455.0V273.6H461.0V272.0H467.0V270.4H472.0V268.8H478.0V267.2H483.0V265.6H488.0V264.0H493.0V262.4H498.0V260.8H503.0V259.2H507.0V257.6H512.0V256.0H516.0V254.4H521.0V252.8H525.0V251.2H529.0V249.6H533.0V248.0H536.0V246.4H540.0V244.8H543.0V243.2H547.0V241.6H550.0V240.0H553.0V238.4H557.0V236.8H560.0V235.2H563.0V233.6H566.0V232.0H570.0V230.4H573.0V228.8H576.0V227.2H579.0V225.6H582.0V224.0H585.0V222.4H589.0V220.8H592.0V219.2H595.0V217.6H598.0V216.0H601.0V214.4H604.0V212.8H607.0V211.2H610.0V209.6H613.0V208.0H616.0V206.4H618.0V204.8H621.0V203.2H624.0V201.6H627.0V200.0H629.0V198.4H632.0V196.8H635.0V195.2H637.0V193.6H640.0V192.0H642.0V190.4H645.0V188.8H647.0V187.2H649.0V185.6H651.0V184.0H653.0V182.4H655.0V180.8H657.0V179.2H659.0V177.6H661.0V176.0H663.0V174.4H665.0V172.8H667.0V171.2H669.0V169.6H671.0V168.0H673.0V166.4H676.0V164.8H678.0V163.2H681.0V161.6H684.0V160.0H688.0V158.4H691.0V156.8H695.0V155.2H699.0V153.6H703.0V152.0H707.0V150.4H712.0V148.8H718.0V147.2H724.0V145.6H731.0V144.0H738.5" fill="none" stroke="#404040" stroke-width="1.9" stroke-opacity="0.9"/>
<path d="M113.5 320.0H124.0V318.4H153.0V316.8H175.0V315.2H195.0V313.6H212.0V312.0H228.0V310.4H243.0V308.8H257.0V307.2H271.0V305.6H284.0V304.0H297.0V302.4H310.0V300.8H323.0V299.2H335.0V297.6H346.0V296.0H357.0V294.4H366.0V292.8H376.0V291.2H384.0V289.6H393.0V288.0H401.0V286.4H408.0V284.8H416.0V283.2H423.0V281.6H430.0V280.0H437.0V278.4H443.0V276.8H449.0V275.2H455.0V273.6H461.0V272.0H467.0V270.4H472.0V268.8H478.0V267.2H483.0V265.6H488.0V264.0H493.0V262.4H498.0V260.8H503.0V259.2H507.0V257.6H512.0V256.0H516.0V254.4H521.0V252.8H525.0V251.2H529.0V249.6H533.0V248.0H536.0V246.4H540.0V244.8H544.0V243.2H547.0V241.6H550.0V240.0H554.0V238.4H557.0V236.8H560.0V235.2H563.0V233.6H566.0V232.0H570.0V230.4H573.0V228.8H576.0V227.2H579.0V225.6H582.0V224.0H585.0V222.4H589.0V220.8H592.0V219.2H595.0V217.6H598.0V216.0H601.0V214.4H604.0V212.8H607.0V211.2H610.0V209.6H613.0V208.0H615.0V206.4H618.0V204.8H621.0V203.2H624.0V201.6H626.0V200.0H629.0V198.4H632.0V196.8H634.0V195.2H637.0V193.6H639.0V192.0H642.0V190.4H644.0V188.8H646.0V187.2H649.0V185.6H651.0V184.0H653.0V182.4H655.0V180.8H657.0V179.2H659.0V177.6H661.0V176.0H663.0V174.4H665.0V172.8H667.0V171.2H669.0V169.6H671.0V168.0H673.0V166.4H675.0V164.8H678.0V163.2H681.0V161.6H684.0V160.0H687.0V158.4H690.0V156.8H694.0V155.2H698.0V153.6H702.0V152.0H706.0V150.4H711.0V148.8H716.0V147.2H722.0V145.6H729.0V144.0H738.0V142.4H738.5" fill="none" stroke="#0000ff" stroke-width="1.9" stroke-opacity="0.9"/>
<path d="M113.5 320.0H124.0V318.4H153.0V316.8H176.0V315.2H195.0V313.6H212.0V312.0H228.0V310.4H243.0V308.8H257.0V307.2H271.0V305.6H285.0V304.0H298.0V302.4H310.0V300.8H323.0V299.2H335.0V297.6H346.0V296.0H357.0V294.4H367.0V292.8H376.0V291.2H384.0V289.6H393.0V288.0H401.0V286.4H408.0V284.8H416.0V283.2H423.0V281.6H430.0V280.0H437.0V278.4H443.0V276.8H450.0V275.2H456.0V273.6H461.0V272.0H467.0V270.4H473.0V268.8H478.0V267.2H483.0V265.6H488.0V264.0H493.0V262.4H498.0V260.8H503.0V259.2H507.0V257.6H512.0V256.0H516.0V254.4H521.0V252.8H525.0V251.2H529.0V249.6H533.0V248.0H537.0V246.4H540.0V244.8H544.0V243.2H547.0V241.6H550.0V240.0H554.0V238.4H557.0V236.8H560.0V235.2H563.0V233.6H566.0V232.0H570.0V230.4H573.0V228.8H576.0V227.2H579.0V225.6H582.0V224.0H585.0V222.4H588.0V220.8H592.0V219.2H595.0V217.6H598.0V216.0H601.0V214.4H604.0V212.8H607.0V211.2H609.0V209.6H612.0V208.0H615.0V206.4H618.0V204.8H621.0V203.2H624.0V201.6H626.0V200.0H629.0V198.4H631.0V196.8H634.0V195.2H637.0V193.6H639.0V192.0H642.0V190.4H644.0V188.8H646.0V187.2H648.0V185.6H650.0V184.0H652.0V182.4H654.0V180.8H656.0V179.2H658.0V177.6H660.0V176.0H662.0V174.4H664.0V172.8H666.0V171.2H668.0V169.6H670.0V168.0H673.0V166.4H675.0V164.8H677.0V163.2H680.0V161.6H683.0V160.0H686.0V158.4H690.0V156.8H693.0V155.2H697.0V153.6H701.0V152.0H705.0V150.4H710.0V148.8H715.0V147.2H721.0V145.6H727.0V144.0H736.0V142.4H738.5" fill="none" stroke="#008000" stroke-width="1.9" stroke-opacity="0.9"/>
<path d="M113.5 320.0H125.0V318.4H154.0V316.8H176.0V315.2H195.0V313.6H212.0V312.0H228.0V310.4H243.0V308.8H258.0V307.2H271.0V305.6H285.0V304.0H298.0V302.4H311.0V300.8H323.0V299.2H335.0V297.6H347.0V296.0H357.0V294.4H367.0V292.8H376.0V291.2H385.0V289.6H393.0V288.0H401.0V286.4H409.0V284.8H416.0V283.2H423.0V281.6H430.0V280.0H437.0V278.4H443.0V276.8H450.0V275.2H456.0V273.6H461.0V272.0H467.0V270.4H473.0V268.8H478.0V267.2H483.0V265.6H488.0V264.0H493.0V262.4H498.0V260.8H503.0V259.2H507.0V257.6H512.0V256.0H516.0V254.4H521.0V252.8H525.0V251.2H529.0V249.6H533.0V248.0H537.0V246.4H540.0V244.8H544.0V243.2H547.0V241.6H550.0V240.0H554.0V238.4H557.0V236.8H560.0V235.2H563.0V233.6H566.0V232.0H570.0V230.4H573.0V228.8H576.0V227.2H579.0V225.6H582.0V224.0H585.0V222.4H588.0V220.8H591.0V219.2H595.0V217.6H598.0V216.0H601.0V214.4H604.0V212.8H606.0V211.2H609.0V209.6H612.0V208.0H615.0V206.4H618.0V204.8H621.0V203.2H623.0V201.6H626.0V200.0H629.0V198.4H631.0V196.8H634.0V195.2H636.0V193.6H639.0V192.0H641.0V190.4H644.0V188.8H646.0V187.2H648.0V185.6H650.0V184.0H652.0V182.4H654.0V180.8H656.0V179.2H658.0V177.6H660.0V176.0H662.0V174.4H664.0V172.8H666.0V171.2H668.0V169.6H670.0V168.0H672.0V166.4H675.0V164.8H677.0V163.2H680.0V161.6H682.0V160.0H686.0V158.4H689.0V156.8H692.0V155.2H696.0V153.6H700.0V152.0H704.0V150.4H709.0V148.8H714.0V147.2H719.0V145.6H726.0V144.0H733.0V142.4H738.5" fill="none" stroke="#ff0000" stroke-width="1.9" stroke-opacity="0.9"/>
<path d="M113.5 320.0H125.0V318.4H154.0V316.8H176.0V315.2H195.0V313.6H213.0V312.0H229.0V310.4H244.0V308.8H258.0V307.2H272.0V305.6H285.0V304.0H298.0V302.4H311.0V300.8H323.0V299.2H336.0V297.6H347.0V296.0H357.0V294.4H367.0V292.8H376.0V291.2H385.0V289.6H393.0V288.0H401.0V286.4H409.0V284.8H416.0V283.2H423.0V281.6H430.0V280.0H437.0V278.4H444.0V276.8H450.0V275.2H456.0V273.6H462.0V272.0H467.0V270.4H473.0V268.8H478.0V267.2H483.0V265.6H488.0V264.0H493.0V262.4H498.0V260.8H503.0V259.2H507.0V257.6H512.0V256.0H516.0V254.4H521.0V252.8H525.0V251.2H529.0V249.6H533.0V248.0H537.0V246.4H540.0V244.8H544.0V243.2H547.0V241.6H550.0V240.0H554.0V238.4H557.0V236.8H560.0V235.2H563.0V233.6H566.0V232.0H570.0V230.4H573.0V228.8H576.0V227.2H579.0V225.6H582.0V224.0H585.0V222.4H588.0V220.8H591.0V219.2H594.0V217.6H597.0V216.0H600.0V214.4H603.0V212.8H606.0V211.2H609.0V209.6H612.0V208.0H615.0V206.4H618.0V204.8H620.0V203.2H623.0V201.6H626.0V200.0H628.0V198.4H631.0V196.8H634.0V195.2H636.0V193.6H639.0V192.0H641.0V190.4H644.0V188.8H646.0V187.2H648.0V185.6H650.0V184.0H652.0V182.4H654.0V180.8H656.0V179.2H658.0V177.6H660.0V176.0H662.0V174.4H664.0V172.8H666.0V171.2H668.0V169.6H670.0V168.0H672.0V166.4H674.0V164.8H676.0V163.2H679.0V161.6H682.0V160.0H685.0V158.4H688.0V156.8H692.0V155.2H695.0V153.6H699.0V152.0H703.0V150.4H708.0V148.8H713.0V147.2H718.0V145.6H724.0V144.0H731.0V142.4H738.5" fill="none" stroke="#00bfbf" stroke-width="1.9" stroke-opacity="0.9"/>
<path d="M113.5 320.0H125.0V318.4H154.0V316.8H176.0V315.2H196.0V313.6H213.0V312.0H229.0V310.4H244.0V308.8H258.0V307.2H272.0V305.6H285.0V304.0H298.0V302.4H311.0V300.8H323.0V299.2H336.0V297.6H347.0V296.0H357.0V294.4H367.0V292.8H376.0V291.2H385.0V289.6H393.0V288.0H401.0V286.4H409.0V284.8H416.0V283.2H424.0V281.6H431.0V280.0H437.0V278.4H444.0V276.8H450.0V275.2H456.0V273.6H462.0V272.0H467.0V270.4H473.0V268.8H478.0V267.2H483.0V265.6H488.0V264.0H493.0V262.4H498.0V260.8H503.0V259.2H508.0V257.6H512.0V256.0H517.0V254.4H521.0V252.8H525.0V251.2H529.0V249.6H533.0V248.0H537.0V246.4H540.0V244.8H544.0V243.2H547.0V241.6H550.0V240.0H554.0V238.4H557.0V236.8H560.0V235.2H563.0V233.6H566.0V232.0H570.0V230.4H573.0V228.8H576.0V227.2H579.0V225.6H582.0V224.0H585.0V222.4H588.0V220.8H591.0V219.2H594.0V217.6H597.0V216.0H600.0V214.4H603.0V212.8H606.0V211.2H609.0V209.6H612.0V208.0H615.0V206.4H618.0V204.8H620.0V203.2H623.0V201.6H626.0V200.0H628.0V198.4H631.0V196.8H633.0V195.2H636.0V193.6H638.0V192.0H641.0V190.4H643.0V188.8H646.0V187.2H648.0V185.6H650.0V184.0H652.0V182.4H654.0V180.8H656.0V179.2H658.0V177.6H659.0V176.0H661.0V174.4H663.0V172.8H665.0V171.2H667.0V169.6H669.0V168.0H672.0V166.4H674.0V164.8H676.0V163.2H679.0V161.6H681.0V160.0H684.0V158.4H688.0V156.8H691.0V155.2H695.0V153.6H699.0V152.0H703.0V150.4H707.0V148.8H712.0V147.2H717.0V145.6H723.0V144.0H730.0V142.4H738.5" fill="none" stroke="#bf00bf" stroke-width="1.9" stroke-opacity="0.9"/>
<path d="M113.5 320.0H126.0V318.4H154.0V316.8H177.0V315.2H196.0V313.6H213.0V312.0H229.0V310.4H244.0V308.8H258.0V307.2H272.0V305.6H285.0V304.0H298.0V302.4H311.0V300.8H324.0V299.2H336.0V297.6H347.0V296.0H357.0V294.4H367.0V292.8H376.0V291.2H385.0V289.6H393.0V288.0H401.0V286.4H409.0V284.8H416.0V283.2H424.0V281.6H431.0V280.0H437.0V278.4H444.0V276.8H450.0V275.2H456.0V273.6H462.0V272.0H467.0V270.4H473.0V268.8H478.0V267.2H483.0V265.6H488.0V264.0H493.0V262.4H498.0V260.8H503.0V259.2H508.0V257.6H512.0V256.0H517.0V254.4H521.0V252.8H525.0V251.2H529.0V249.6H533.0V248.0H537.0V246.4H540.0V244.8H544.0V243.2H547.0V241.6H550.0V240.0H554.0V238.4H557.0V236.8H560.0V235.2H563.0V233.6H566.0V232.0H570.0V230.4H573.0V228.8H576.0V227.2H579.0V225.6H582.0V224.0H585.0V222.4H588.0V220.8H591.0V219.2H594.0V217.6H597.0V216.0H600.0V214.4H603.0V212.8H606.0V211.2H609.0V209.6H612.0V208.0H615.0V206.4H617.0V204.8H620.0V203.2H623.0V201.6H625.0V200.0H628.0V198.4H631.0V196.8H633.0V195.2H636.0V193.6H638.0V192.0H641.0V190.4H643.0V188.8H645.0V187.2H647.0V185.6H649.0V184.0H652.0V182.4H653.0V180.8H655.0V179.2H657.0V177.6H659.0V176.0H661.0V174.4H663.0V172.8H665.0V171.2H667.0V169.6H669.0V168.0H671.0V166.4H673.0V164.8H676.0V163.2H678.0V161.6H681.0V160.0H684.0V158.4H687.0V156.8H691.0V155.2H694.0V153.6H698.0V152.0H702.0V150.4H706.0V148.8H711.0V147.2H716.0V145.6H721.0V144.0H728.0V142.4H737.0V140.8H738.5" fill="none" stroke="#bfbf00" stroke-width="1.9" stroke-opacity="0.9"/>
<path d="M113.5 320.0H126.0V318.4H155.0V316.8H177.0V315.2H196.0V313.6H213.0V312.0H229.0V310.4H244.0V308.8H258.0V307.2H272.0V305.6H285.0V304.0H298.0V302.4H311.0V300.8H324.0V299.2H336.0V297.6H347.0V296.0H358.0V294.4H367.0V292.8H376.0V291.2H385.0V289.6H393.0V288.0H401.0V286.4H409.0V284.8H416.0V283.2H424.0V281.6H431.0V280.0H437.0V278.4H444.0V276.8H450.0V275.2H456.0V273.6H462.0V272.0H467.0V270.4H473.0V268.8H478.0V267.2H483.0V265.6H488.0V264.0H493.0V262.4H498.0V260.8H503.0V259.2H508.0V257.6H512.0V256.0H517.0V254.4H521.0V252.8H525.0V251.2H529.0V249.6H533.0V248.0H537.0V246.4H540.0V244.8H544.0V243.2H547.0V241.6H550.0V240.0H554.0V238.4H557.0V236.8H560.0V235.2H563.0V233.6H566.0V232.0H570.0V230.4H573.0V228.8H576.0V227.2H579.0V225.6H582.0V224.0H585.0V222.4H588.0V220.8H591.0V219.2H594.0V217.6H597.0V216.0H600.0V214.4H603.0V212.8H606.0V211.2H609.0V209.6H612.0V208.0H615.0V206.4H617.0V204.8H620.0V203.2H623.0V201.6H625.0V200.0H628.0V198.4H631.0V196.8H633.0V195.2H636.0V193.6H638.0V192.0H641.0V190.4H643.0V188.8H645.0V187.2H647.0V185.6H649.0V184.0H651.0V182.4H653.0V180.8H655.0V179.2H657.0V177.6H659.0V176.0H661.0V174.4H663.0V172.8H665.0V171.2H667.0V169.6H669.0V168.0H671.0V166.4H673.0V164.8H675.0V163.2H678.0V161.6H680.0V160.0H683.0V158.4H687.0V156.8H690.0V155.2H693.0V153.6H697.0V152.0H701.0V150.4H705.0V148.8H710.0V147.2H715.0V145.6H720.0V144.0H727.0V142.4H735.0V140.8H738.5" fill="none" stroke="#00307a" stroke-width="2.2" stroke-opacity="1.0"/>
<path d="M113.5 320.0H126.0V318.4H155.0V316.8H177.0V315.2H196.0V313.6H213.0V312.0H229.0V310.4H244.0V308.8H258.0V307.2H272.0V305.6H285.0V304.0H298.0V302.4H311.0V300.8H324.0V299.2H336.0V297.6H347.0V296.0H358.0V294.4H367.0V292.8H376.0V291.2H385.0V289.6H393.0V288.0H401.0V286.4H409.0V284.8H417.0V283.2H424.0V281.6H431.0V280.0H437.0V278.4H444.0V276.8H450.0V275.2H456.0V273.6H462.0V272.0H467.0V270.4H473.0V268.8H478.0V267.2H483.0V265.6H488.0V264.0H493.0V262.4H498.0V260.8H503.0V259.2H508.0V257.6H512.0V256.0H517.0V254.4H521.0V252.8H525.0V251.2H529.0V249.6H533.0V248.0H537.0V246.4H540.0V244.8H544.0V243.2H547.0V241.6H550.0V240.0H554.0V238.4H557.0V236.8H560.0V235.2H563.0V233.6H566.0V232.0H570.0V230.4H573.0V228.8H576.0V227.2H579.0V225.6H582.0V224.0H585.0V222.4H588.0V220.8H591.0V219.2H594.0V217.6H597.0V216.0H600.0V214.4H603.0V212.8H606.0V211.2H609.0V209.6H612.0V208.0H614.0V206.4H617.0V204.8H620.0V203.2H623.0V201.6H625.0V200.0H628.0V198.4H630.0V196.8H633.0V195.2H635.0V193.6H638.0V192.0H640.0V190.4H643.0V188.8H645.0V187.2H647.0V185.6H649.0V184.0H651.0V182.4H653.0V180.8H655.0V179.2H657.0V177.6H659.0V176.0H661.0V174.4H663.0V172.8H665.0V171.2H667.0V169.6H669.0V168.0H671.0V166.4H673.0V164.8H675.0V163.2H677.0V161.6H680.0V160.0H683.0V158.4H686.0V156.8H689.0V155.2H693.0V153.6H697.0V152.0H700.0V150.4H704.0V148.8H709.0V147.2H714.0V145.6H719.0V144.0H725.0V142.4H733.0V140.8H738.5" fill="none" stroke="#b0400f" stroke-width="2.2" stroke-opacity="1.0"/>
<path d="M113.5 320.0H126.0V318.4H155.0V316.8H177.0V315.2H196.0V313.6H213.0V312.0H229.0V310.4H244.0V308.8H259.0V307.2H272.0V305.6H286.0V304.0H299.0V302.4H311.0V300.8H324.0V299.2H336.0V297.6H347.0V296.0H358.0V294.4H367.0V292.8H376.0V291.2H385.0V289.6H393.0V288.0H401.0V286.4H409.0V284.8H417.0V283.2H424.0V281.6H431.0V280.0H437.0V278.4H444.0V276.8H450.0V275.2H456.0V273.6H462.0V272.0H467.0V270.4H473.0V268.8H478.0V267.2H483.0V265.6H488.0V264.0H493.0V262.4H498.0V260.8H503.0V259.2H508.0V257.6H512.0V256.0H517.0V254.4H521.0V252.8H525.0V251.2H529.0V249.6H533.0V248.0H537.0V246.4H540.0V244.8H544.0V243.2H547.0V241.6H550.0V240.0H554.0V238.4H557.0V236.8H560.0V235.2H563.0V233.6H566.0V232.0H570.0V230.4H573.0V228.8H576.0V227.2H579.0V225.6H582.0V224.0H585.0V222.4H588.0V220.8H591.0V219.2H594.0V217.6H597.0V216.0H600.0V214.4H603.0V212.8H606.0V211.2H609.0V209.6H612.0V208.0H614.0V206.4H617.0V204.8H620.0V203.2H622.0V201.6H625.0V200.0H628.0V198.4H630.0V196.8H633.0V195.2H635.0V193.6H638.0V192.0H640.0V190.4H643.0V188.8H645.0V187.2H647.0V185.6H649.0V184.0H651.0V182.4H653.0V180.8H655.0V179.2H657.0V177.6H659.0V176.0H661.0V174.4H662.0V172.8H664.0V171.2H666.0V169.6H668.0V168.0H670.0V166.4H673.0V164.8H675.0V163.2H677.0V161.6H680.0V160.0H683.0V158.4H686.0V156.8H689.0V155.2H692.0V153.6H696.0V152.0H700.0V150.4H704.0V148.8H708.0V147.2H713.0V145.6H718.0V144.0H724.0V142.4H732.0V140.8H738.5" fill="none" stroke="#c89010" stroke-width="2.2" stroke-opacity="1.0"/>
<path d="M113.5 320.0H127.0V318.4H155.0V316.8H177.0V315.2H196.0V313.6H213.0V312.0H229.0V310.4H244.0V308.8H259.0V307.2H272.0V305.6H286.0V304.0H299.0V302.4H311.0V300.8H324.0V299.2H336.0V297.6H347.0V296.0H358.0V294.4H367.0V292.8H377.0V291.2H385.0V289.6H393.0V288.0H401.0V286.4H409.0V284.8H417.0V283.2H424.0V281.6H431.0V280.0H437.0V278.4H444.0V276.8H450.0V275.2H456.0V273.6H462.0V272.0H467.0V270.4H473.0V268.8H478.0V267.2H483.0V265.6H489.0V264.0H493.0V262.4H498.0V260.8H503.0V259.2H508.0V257.6H512.0V256.0H517.0V254.4H521.0V252.8H525.0V251.2H529.0V249.6H533.0V248.0H537.0V246.4H540.0V244.8H544.0V243.2H547.0V241.6H550.0V240.0H554.0V238.4H557.0V236.8H560.0V235.2H563.0V233.6H566.0V232.0H570.0V230.4H573.0V228.8H576.0V227.2H579.0V225.6H582.0V224.0H585.0V222.4H588.0V220.8H591.0V219.2H594.0V217.6H597.0V216.0H600.0V214.4H603.0V212.8H606.0V211.2H609.0V209.6H611.0V208.0H614.0V206.4H617.0V204.8H620.0V203.2H622.0V201.6H625.0V200.0H628.0V198.4H630.0V196.8H633.0V195.2H635.0V193.6H638.0V192.0H640.0V190.4H642.0V188.8H645.0V187.2H647.0V185.6H649.0V184.0H651.0V182.4H653.0V180.8H655.0V179.2H657.0V177.6H658.0V176.0H660.0V174.4H662.0V172.8H664.0V171.2H666.0V169.6H668.0V168.0H670.0V166.4H672.0V164.8H674.0V163.2H677.0V161.6H679.0V160.0H682.0V158.4H685.0V156.8H688.0V155.2H692.0V153.6H695.0V152.0H699.0V150.4H703.0V148.8H707.0V147.2H712.0V145.6H717.0V144.0H723.0V142.4H730.0V140.8H738.5" fill="none" stroke="#5a1a6a" stroke-width="2.2" stroke-opacity="1.0"/>
<path d="M113.5 320.0H127.0V318.4H155.0V316.8H177.0V315.2H196.0V313.6H214.0V312.0H229.0V310.4H244.0V308.8H259.0V307.2H272.0V305.6H286.0V304.0H299.0V302.4H312.0V300.8H324.0V299.2H336.0V297.6H348.0V296.0H358.0V294.4H367.0V292.8H377.0V291.2H385.0V289.6H394.0V288.0H402.0V286.4H409.0V284.8H417.0V283.2H424.0V281.6H431.0V280.0H438.0V278.4H444.0V276.8H450.0V275.2H456.0V273.6H462.0V272.0H468.0V270.4H473.0V268.8H478.0V267.2H483.0V265.6H489.0V264.0H493.0V262.4H498.0V260.8H503.0V259.2H508.0V257.6H512.0V256.0H517.0V254.4H521.0V252.8H525.0V251.2H529.0V249.6H533.0V248.0H537.0V246.4H540.0V244.8H544.0V243.2H547.0V241.6H550.0V240.0H554.0V238.4H557.0V236.8H560.0V235.2H563.0V233.6H566.0V232.0H570.0V230.4H573.0V228.8H576.0V227.2H579.0V225.6H582.0V224.0H585.0V222.4H588.0V220.8H591.0V219.2H594.0V217.6H597.0V216.0H600.0V214.4H603.0V212.8H606.0V211.2H609.0V209.6H611.0V208.0H614.0V206.4H617.0V204.8H620.0V203.2H622.0V201.6H625.0V200.0H627.0V198.4H630.0V196.8H632.0V195.2H635.0V193.6H637.0V192.0H640.0V190.4H642.0V188.8H644.0V187.2H647.0V185.6H649.0V184.0H651.0V182.4H653.0V180.8H654.0V179.2H656.0V177.6H658.0V176.0H660.0V174.4H662.0V172.8H664.0V171.2H666.0V169.6H668.0V168.0H670.0V166.4H672.0V164.8H674.0V163.2H677.0V161.6H679.0V160.0H682.0V158.4H685.0V156.8H688.0V155.2H691.0V153.6H695.0V152.0H699.0V150.4H703.0V148.8H707.0V147.2H711.0V145.6H716.0V144.0H722.0V142.4H729.0V140.8H738.0V139.2H738.5" fill="none" stroke="#4a8020" stroke-width="2.2" stroke-opacity="1.0"/>
<path d="M113.5 320.0H127.0V318.4H155.0V316.8H177.0V315.2H197.0V313.6H214.0V312.0H230.0V310.4H245.0V308.8H259.0V307.2H273.0V305.6H286.0V304.0H299.0V302.4H312.0V300.8H324.0V299.2H336.0V297.6H348.0V296.0H358.0V294.4H368.0V292.8H377.0V291.2H385.0V289.6H394.0V288.0H402.0V286.4H409.0V284.8H417.0V283.2H424.0V281.6H431.0V280.0H438.0V278.4H444.0V276.8H450.0V275.2H456.0V273.6H462.0V272.0H468.0V270.4H473.0V268.8H478.0V267.2H484.0V265.6H489.0V264.0H494.0V262.4H498.0V260.8H503.0V259.2H508.0V257.6H512.0V256.0H517.0V254.4H521.0V252.8H525.0V251.2H529.0V249.6H533.0V248.0H537.0V246.4H540.0V244.8H544.0V243.2H547.0V241.6H550.0V240.0H554.0V238.4H557.0V236.8H560.0V235.2H563.0V233.6H567.0V232.0H570.0V230.4H573.0V228.8H576.0V227.2H579.0V225.6H582.0V224.0H585.0V222.4H588.0V220.8H591.0V219.2H594.0V217.6H597.0V216.0H600.0V214.4H603.0V212.8H606.0V211.2H608.0V209.6H611.0V208.0H614.0V206.4H617.0V204.8H619.0V203.2H622.0V201.6H625.0V200.0H627.0V198.4H630.0V196.8H632.0V195.2H635.0V193.6H637.0V192.0H640.0V190.4H642.0V188.8H644.0V187.2H646.0V185.6H648.0V184.0H650.0V182.4H652.0V180.8H654.0V179.2H656.0V177.6H658.0V176.0H660.0V174.4H662.0V172.8H664.0V171.2H666.0V169.6H668.0V168.0H670.0V166.4H672.0V164.8H674.0V163.2H676.0V161.6H679.0V160.0H681.0V158.4H684.0V156.8H688.0V155.2H691.0V153.6H694.0V152.0H698.0V150.4H702.0V148.8H706.0V147.2H711.0V145.6H716.0V144.0H721.0V142.4H728.0V140.8H736.0V139.2H738.5" fill="none" stroke="#2a90c0" stroke-width="2.2" stroke-opacity="1.0"/>
<path d="M113.5 320.0H127.0V318.4H155.0V316.8H178.0V315.2H197.0V313.6H214.0V312.0H230.0V310.4H245.0V308.8H259.0V307.2H273.0V305.6H286.0V304.0H299.0V302.4H312.0V300.8H324.0V299.2H336.0V297.6H348.0V296.0H358.0V294.4H368.0V292.8H377.0V291.2H385.0V289.6H394.0V288.0H402.0V286.4H409.0V284.8H417.0V283.2H424.0V281.6H431.0V280.0H438.0V278.4H444.0V276.8H450.0V275.2H456.0V273.6H462.0V272.0H468.0V270.4H473.0V268.8H478.0V267.2H484.0V265.6H489.0V264.0H494.0V262.4H498.0V260.8H503.0V259.2H508.0V257.6H512.0V256.0H517.0V254.4H521.0V252.8H525.0V251.2H529.0V249.6H533.0V248.0H537.0V246.4H540.0V244.8H544.0V243.2H547.0V241.6H550.0V240.0H554.0V238.4H557.0V236.8H560.0V235.2H563.0V233.6H567.0V232.0H570.0V230.4H573.0V228.8H576.0V227.2H579.0V225.6H582.0V224.0H585.0V222.4H588.0V220.8H591.0V219.2H594.0V217.6H597.0V216.0H600.0V214.4H603.0V212.8H606.0V211.2H608.0V209.6H611.0V208.0H614.0V206.4H617.0V204.8H619.0V203.2H622.0V201.6H625.0V200.0H627.0V198.4H630.0V196.8H632.0V195.2H635.0V193.6H637.0V192.0H640.0V190.4H642.0V188.8H644.0V187.2H646.0V185.6H648.0V184.0H650.0V182.4H652.0V180.8H654.0V179.2H656.0V177.6H658.0V176.0H660.0V174.4H662.0V172.8H664.0V171.2H666.0V169.6H667.0V168.0H669.0V166.4H672.0V164.8H674.0V163.2H676.0V161.6H678.0V160.0H681.0V158.4H684.0V156.8H687.0V155.2H691.0V153.6H694.0V152.0H698.0V150.4H701.0V148.8H706.0V147.2H710.0V145.6H715.0V144.0H720.0V142.4H727.0V140.8H735.0V139.2H738.5" fill="none" stroke="#80101f" stroke-width="2.2" stroke-opacity="1.0"/>
<path d="M113.5 320.0H127.0V318.4H156.0V316.8H178.0V315.2H197.0V313.6H214.0V312.0H230.0V310.4H245.0V308.8H259.0V307.2H273.0V305.6H286.0V304.0H299.0V302.4H312.0V300.8H324.0V299.2H337.0V297.6H348.0V296.0H358.0V294.4H368.0V292.8H377.0V291.2H385.0V289.6H394.0V288.0H402.0V286.4H409.0V284.8H417.0V283.2H424.0V281.6H431.0V280.0H438.0V278.4H444.0V276.8H450.0V275.2H456.0V273.6H462.0V272.0H468.0V270.4H473.0V268.8H478.0V267.2H484.0V265.6H489.0V264.0H494.0V262.4H498.0V260.8H503.0V259.2H508.0V257.6H512.0V256.0H517.0V254.4H521.0V252.8H525.0V251.2H529.0V249.6H533.0V248.0H537.0V246.4H540.0V244.8H544.0V243.2H547.0V241.6H550.0V240.0H554.0V238.4H557.0V236.8H560.0V235.2H563.0V233.6H567.0V232.0H570.0V230.4H573.0V228.8H576.0V227.2H579.0V225.6H582.0V224.0H585.0V222.4H588.0V220.8H591.0V219.2H594.0V217.6H597.0V216.0H600.0V214.4H603.0V212.8H606.0V211.2H608.0V209.6H611.0V208.0H614.0V206.4H617.0V204.8H619.0V203.2H622.0V201.6H624.0V200.0H627.0V198.4H630.0V196.8H632.0V195.2H635.0V193.6H637.0V192.0H639.0V190.4H642.0V188.8H644.0V187.2H646.0V185.6H648.0V184.0H650.0V182.4H652.0V180.8H654.0V179.2H656.0V177.6H658.0V176.0H660.0V174.4H662.0V172.8H663.0V171.2H665.0V169.6H667.0V168.0H669.0V166.4H671.0V164.8H673.0V163.2H676.0V161.6H678.0V160.0H681.0V158.4H684.0V156.8H687.0V155.2H690.0V153.6H694.0V152.0H697.0V150.4H701.0V148.8H705.0V147.2H709.0V145.6H714.0V144.0H720.0V142.4H726.0V140.8H733.0V139.2H738.5" fill="none" stroke="#00307a" stroke-width="2.2" stroke-opacity="1.0"/>
<path d="M113.5 320.0H127.0V318.4H156.0V316.8H178.0V315.2H197.0V313.6H214.0V312.0H230.0V310.4H245.0V308.8H259.0V307.2H273.0V305.6H286.0V304.0H299.0V302.4H312.0V300.8H324.0V299.2H337.0V297.6H348.0V296.0H358.0V294.4H368.0V292.8H377.0V291.2H385.0V289.6H394.0V288.0H402.0V286.4H409.0V284.8H417.0V283.2H424.0V281.6H431.0V280.0H438.0V278.4H444.0V276.8H450.0V275.2H456.0V273.6H462.0V272.0H468.0V270.4H473.0V268.8H478.0V267.2H484.0V265.6H489.0V264.0H494.0V262.4H498.0V260.8H503.0V259.2H508.0V257.6H512.0V256.0H517.0V254.4H521.0V252.8H525.0V251.2H529.0V249.6H533.0V248.0H537.0V246.4H540.0V244.8H544.0V243.2H547.0V241.6H551.0V240.0H554.0V238.4H557.0V236.8H560.0V235.2H563.0V233.6H567.0V232.0H570.0V230.4H573.0V228.8H576.0V227.2H579.0V225.6H582.0V224.0H585.0V222.4H588.0V220.8H591.0V219.2H594.0V217.6H597.0V216.0H600.0V214.4H603.0V212.8H605.0V211.2H608.0V209.6H611.0V208.0H614.0V206.4H616.0V204.8H619.0V203.2H622.0V201.6H624.0V200.0H627.0V198.4H629.0V196.8H632.0V195.2H634.0V193.6H637.0V192.0H639.0V190.4H642.0V188.8H644.0V187.2H646.0V185.6H648.0V184.0H650.0V182.4H652.0V180.8H654.0V179.2H656.0V177.6H658.0V176.0H660.0V174.4H661.0V172.8H663.0V171.2H665.0V169.6H667.0V168.0H669.0V166.4H671.0V164.8H673.0V163.2H675.0V161.6H678.0V160.0H680.0V158.4H683.0V156.8H686.0V155.2H690.0V153.6H693.0V152.0H697.0V150.4H700.0V148.8H704.0V147.2H709.0V145.6H714.0V144.0H719.0V142.4H725.0V140.8H732.0V139.2H738.5" fill="none" stroke="#b0400f" stroke-width="2.2" stroke-opacity="1.0"/>
<path d="M113.5 320.0H127.0V318.4H156.0V316.8H178.0V315.2H197.0V313.6H214.0V312.0H230.0V310.4H245.0V308.8H259.0V307.2H273.0V305.6H286.0V304.0H299.0V302.4H312.0V300.8H324.0V299.2H337.0V297.6H348.0V296.0H358.0V294.4H368.0V292.8H377.0V291.2H386.0V289.6H394.0V288.0H402.0V286.4H409.0V284.8H417.0V283.2H424.0V281.6H431.0V280.0H438.0V278.4H444.0V276.8H450.0V275.2H456.0V273.6H462.0V272.0H468.0V270.4H473.0V268.8H478.0V267.2H484.0V265.6H489.0V264.0H494.0V262.4H498.0V260.8H503.0V259.2H508.0V257.6H512.0V256.0H517.0V254.4H521.0V252.8H525.0V251.2H529.0V249.6H533.0V248.0H537.0V246.4H540.0V244.8H544.0V243.2H547.0V241.6H551.0V240.0H554.0V238.4H557.0V236.8H560.0V235.2H563.0V233.6H567.0V232.0H570.0V230.4H573.0V228.8H576.0V227.2H579.0V225.6H582.0V224.0H585.0V222.4H588.0V220.8H591.0V219.2H594.0V217.6H597.0V216.0H600.0V214.4H603.0V212.8H605.0V211.2H608.0V209.6H611.0V208.0H614.0V206.4H616.0V204.8H619.0V203.2H622.0V201.6H624.0V200.0H627.0V198.4H629.0V196.8H632.0V195.2H634.0V193.6H637.0V192.0H639.0V190.4H642.0V188.8H644.0V187.2H646.0V185.6H648.0V184.0H650.0V182.4H652.0V180.8H654.0V179.2H656.0V177.6H658.0V176.0H659.0V174.4H661.0V172.8H663.0V171.2H665.0V169.6H667.0V168.0H669.0V166.4H671.0V164.8H673.0V163.2H675.0V161.6H678.0V160.0H680.0V158.4H683.0V156.8H686.0V155.2H689.0V153.6H693.0V152.0H696.0V150.4H700.0V148.8H704.0V147.2H708.0V145.6H713.0V144.0H718.0V142.4H724.0V140.8H731.0V139.2H738.5" fill="none" stroke="#c89010" stroke-width="2.2" stroke-opacity="1.0"/>
<path d="M113.5 320.0H128.0V318.4H156.0V316.8H178.0V315.2H197.0V313.6H214.0V312.0H230.0V310.4H245.0V308.8H259.0V307.2H273.0V305.6H286.0V304.0H299.0V302.4H312.0V300.8H325.0V299.2H337.0V297.6H348.0V296.0H358.0V294.4H368.0V292.8H377.0V291.2H386.0V289.6H394.0V288.0H402.0V286.4H409.0V284.8H417.0V283.2H424.0V281.6H431.0V280.0H438.0V278.4H444.0V276.8H450.0V275.2H456.0V273.6H462.0V272.0H468.0V270.4H473.0V268.8H478.0V267.2H484.0V265.6H489.0V264.0H494.0V262.4H498.0V260.8H503.0V259.2H508.0V257.6H512.0V256.0H517.0V254.4H521.0V252.8H525.0V251.2H529.0V249.6H533.0V248.0H537.0V246.4H540.0V244.8H544.0V243.2H547.0V241.6H551.0V240.0H554.0V238.4H557.0V236.8H560.0V235.2H563.0V233.6H567.0V232.0H570.0V230.4H573.0V228.8H576.0V227.2H579.0V225.6H582.0V224.0H585.0V222.4H588.0V220.8H591.0V219.2H594.0V217.6H597.0V216.0H600.0V214.4H603.0V212.8H605.0V211.2H608.0V209.6H611.0V208.0H614.0V206.4H616.0V204.8H619.0V203.2H622.0V201.6H624.0V200.0H627.0V198.4H629.0V196.8H632.0V195.2H634.0V193.6H637.0V192.0H639.0V190.4H641.0V188.8H644.0V187.2H646.0V185.6H648.0V184.0H650.0V182.4H652.0V180.8H654.0V179.2H656.0V177.6H657.0V176.0H659.0V174.4H661.0V172.8H663.0V171.2H665.0V169.6H667.0V168.0H669.0V166.4H671.0V164.8H673.0V163.2H675.0V161.6H677.0V160.0H680.0V158.4H683.0V156.8H686.0V155.2H689.0V153.6H692.0V152.0H696.0V150.4H700.0V148.8H704.0V147.2H708.0V145.6H712.0V144.0H717.0V142.4H723.0V140.8H730.0V139.2H738.5" fill="none" stroke="#5a1a6a" stroke-width="2.2" stroke-opacity="1.0"/>
<path d="M113.5 320.0H128.0V318.4H156.0V316.8H178.0V315.2H197.0V313.6H214.0V312.0H230.0V310.4H245.0V308.8H259.0V307.2H273.0V305.6H286.0V304.0H299.0V302.4H312.0V300.8H325.0V299.2H337.0V297.6H348.0V296.0H358.0V294.4H368.0V292.8H377.0V291.2H386.0V289.6H394.0V288.0H402.0V286.4H410.0V284.8H417.0V283.2H424.0V281.6H431.0V280.0H438.0V278.4H444.0V276.8H450.0V275.2H456.0V273.6H462.0V272.0H468.0V270.4H473.0V268.8H478.0V267.2H484.0V265.6H489.0V264.0H494.0V262.4H498.0V260.8H503.0V259.2H508.0V257.6H512.0V256.0H517.0V254.4H521.0V252.8H525.0V251.2H529.0V249.6H533.0V248.0H537.0V246.4H540.0V244.8H544.0V243.2H547.0V241.6H551.0V240.0H554.0V238.4H557.0V236.8H560.0V235.2H563.0V233.6H567.0V232.0H570.0V230.4H573.0V228.8H576.0V227.2H579.0V225.6H582.0V224.0H585.0V222.4H588.0V220.8H591.0V219.2H594.0V217.6H597.0V216.0H600.0V214.4H603.0V212.8H605.0V211.2H608.0V209.6H611.0V208.0H614.0V206.4H616.0V204.8H619.0V203.2H621.0V201.6H624.0V200.0H627.0V198.4H629.0V196.8H632.0V195.2H634.0V193.6H637.0V192.0H639.0V190.4H641.0V188.8H644.0V187.2H646.0V185.6H648.0V184.0H650.0V182.4H652.0V180.8H654.0V179.2H655.0V177.6H657.0V176.0H659.0V174.4H661.0V172.8H663.0V171.2H665.0V169.6H667.0V168.0H669.0V166.4H671.0V164.8H673.0V163.2H675.0V161.6H677.0V160.0H680.0V158.4H682.0V156.8H686.0V155.2H689.0V153.6H692.0V152.0H696.0V150.4H699.0V148.8H703.0V147.2H707.0V145.6H712.0V144.0H717.0V142.4H723.0V140.8H729.0V139.2H738.0V137.6H738.5" fill="none" stroke="#4a8020" stroke-width="2.2" stroke-opacity="1.0"/>
<path d="M113.5 320.0H128.0V318.4H156.0V316.8H178.0V315.2H197.0V313.6H214.0V312.0H230.0V310.4H245.0V308.8H259.0V307.2H273.0V305.6H286.0V304.0H299.0V302.4H312.0V300.8H325.0V299.2H337.0V297.6H348.0V296.0H358.0V294.4H368.0V292.8H377.0V291.2H386.0V289.6H394.0V288.0H402.0V286.4H410.0V284.8H417.0V283.2H424.0V281.6H431.0V280.0H438.0V278.4H444.0V276.8H450.0V275.2H456.0V273.6H462.0V272.0H468.0V270.4H473.0V268.8H478.0V267.2H484.0V265.6H489.0V264.0H494.0V262.4H498.0V260.8H503.0V259.2H508.0V257.6H512.0V256.0H517.0V254.4H521.0V252.8H525.0V251.2H529.0V249.6H533.0V248.0H537.0V246.4H540.0V244.8H544.0V243.2H547.0V241.6H551.0V240.0H554.0V238.4H557.0V236.8H560.0V235.2H563.0V233.6H567.0V232.0H570.0V230.4H573.0V228.8H576.0V227.2H579.0V225.6H582.0V224.0H585.0V222.4H588.0V220.8H591.0V219.2H594.0V217.6H597.0V216.0H600.0V214.4H602.0V212.8H605.0V211.2H608.0V209.6H611.0V208.0H613.0V206.4H616.0V204.8H619.0V203.2H621.0V201.6H624.0V200.0H627.0V198.4H629.0V196.8H632.0V195.2H634.0V193.6H636.0V192.0H639.0V190.4H641.0V188.8H643.0V187.2H646.0V185.6H648.0V184.0H650.0V182.4H651.0V180.8H653.0V179.2H655.0V177.6H657.0V176.0H659.0V174.4H661.0V172.8H663.0V171.2H665.0V169.6H666.0V168.0H668.0V166.4H670.0V164.8H672.0V163.2H675.0V161.6H677.0V160.0H679.0V158.4H682.0V156.8H685.0V155.2H688.0V153.6H692.0V152.0H695.0V150.4H699.0V148.8H703.0V147.2H707.0V145.6H711.0V144.0H716.0V142.4H722.0V140.8H728.0V139.2H737.0V137.6H738.5" fill="none" stroke="#2a90c0" stroke-width="2.2" stroke-opacity="1.0"/>
<path d="M113.5 320.0H128.0V318.4H156.0V316.8H178.0V315.2H197.0V313.6H214.0V312.0H230.0V310.4H245.0V308.8H259.0V307.2H273.0V305.6H286.0V304.0H299.0V302.4H312.0V300.8H325.0V299.2H337.0V297.6H348.0V296.0H358.0V294.4H368.0V292.8H377.0V291.2H386.0V289.6H394.0V288.0H402.0V286.4H410.0V284.8H417.0V283.2H424.0V281.6H431.0V280.0H438.0V278.4H444.0V276.8H450.0V275.2H456.0V273.6H462.0V272.0H468.0V270.4H473.0V268.8H479.0V267.2H484.0V265.6H489.0V264.0H494.0V262.4H498.0V260.8H503.0V259.2H508.0V257.6H512.0V256.0H517.0V254.4H521.0V252.8H525.0V251.2H529.0V249.6H533.0V248.0H537.0V246.4H540.0V244.8H544.0V243.2H547.0V241.6H551.0V240.0H554.0V238.4H557.0V236.8H560.0V235.2H563.0V233.6H567.0V232.0H570.0V230.4H573.0V228.8H576.0V227.2H579.0V225.6H582.0V224.0H585.0V222.4H588.0V220.8H591.0V219.2H594.0V217.6H597.0V216.0H600.0V214.4H602.0V212.8H605.0V211.2H608.0V209.6H611.0V208.0H613.0V206.4H616.0V204.8H619.0V203.2H621.0V201.6H624.0V200.0H626.0V198.4H629.0V196.8H631.0V195.2H634.0V193.6H636.0V192.0H639.0V190.4H641.0V188.8H643.0V187.2H645.0V185.6H647.0V184.0H649.0V182.4H651.0V180.8H653.0V179.2H655.0V177.6H657.0V176.0H659.0V174.4H661.0V172.8H663.0V171.2H664.0V169.6H666.0V168.0H668.0V166.4H670.0V164.8H672.0V163.2H674.0V161.6H677.0V160.0H679.0V158.4H682.0V156.8H685.0V155.2H688.0V153.6H691.0V152.0H695.0V150.4H698.0V148.8H702.0V147.2H706.0V145.6H711.0V144.0H716.0V142.4H721.0V140.8H728.0V139.2H736.0V137.6H738.5" fill="none" stroke="#80101f" stroke-width="2.2" stroke-opacity="1.0"/>
<path d="M113.5 320.0H128.0V318.4H156.0V316.8H178.0V315.2H197.0V313.6H214.0V312.0H230.0V310.4H245.0V308.8H259.0V307.2H273.0V305.6H286.0V304.0H299.0V302.4H312.0V300.8H325.0V299.2H337.0V297.6H348.0V296.0H358.0V294.4H368.0V292.8H377.0V291.2H386.0V289.6H394.0V288.0H402.0V286.4H410.0V284.8H417.0V283.2H424.0V281.6H431.0V280.0H438.0V278.4H444.0V276.8H450.0V275.2H456.0V273.6H462.0V272.0H468.0V270.4H473.0V268.8H479.0V267.2H484.0V265.6H489.0V264.0H494.0V262.4H499.0V260.8H503.0V259.2H508.0V257.6H512.0V256.0H517.0V254.4H521.0V252.8H525.0V251.2H529.0V249.6H533.0V248.0H537.0V246.4H540.0V244.8H544.0V243.2H547.0V241.6H551.0V240.0H554.0V238.4H557.0V236.8H560.0V235.2H563.0V233.6H567.0V232.0H570.0V230.4H573.0V228.8H576.0V227.2H579.0V225.6H582.0V224.0H585.0V222.4H588.0V220.8H591.0V219.2H594.0V217.6H597.0V216.0H600.0V214.4H602.0V212.8H605.0V211.2H608.0V209.6H611.0V208.0H613.0V206.4H616.0V204.8H619.0V203.2H621.0V201.6H624.0V200.0H626.0V198.4H629.0V196.8H631.0V195.2H634.0V193.6H636.0V192.0H639.0V190.4H641.0V188.8H643.0V187.2H645.0V185.6H647.0V184.0H649.0V182.4H651.0V180.8H653.0V179.2H655.0V177.6H657.0V176.0H659.0V174.4H661.0V172.8H662.0V171.2H664.0V169.6H666.0V168.0H668.0V166.4H670.0V164.8H672.0V163.2H674.0V161.6H677.0V160.0H679.0V158.4H682.0V156.8H685.0V155.2H688.0V153.6H691.0V152.0H694.0V150.4H698.0V148.8H702.0V147.2H706.0V145.6H710.0V144.0H715.0V142.4H721.0V140.8H727.0V139.2H735.0V137.6H738.5" fill="none" stroke="#00307a" stroke-width="2.2" stroke-opacity="1.0"/>
<path d="M113.5 320.0H128.0V318.4H156.0V316.8H178.0V315.2H197.0V313.6H214.0V312.0H230.0V310.4H245.0V308.8H259.0V307.2H273.0V305.6H286.0V304.0H299.0V302.4H312.0V300.8H325.0V299.2H337.0V297.6H348.0V296.0H358.0V294.4H368.0V292.8H377.0V291.2H386.0V289.6H394.0V288.0H402.0V286.4H410.0V284.8H417.0V283.2H424.0V281.6H431.0V280.0H438.0V278.4H444.0V276.8H450.0V275.2H456.0V273.6H462.0V272.0H468.0V270.4H473.0V268.8H479.0V267.2H484.0V265.6H489.0V264.0H494.0V262.4H499.0V260.8H503.0V259.2H508.0V257.6H512.0V256.0H517.0V254.4H521.0V252.8H525.0V251.2H529.0V249.6H533.0V248.0H537.0V246.4H540.0V244.8H544.0V243.2H547.0V241.6H551.0V240.0H554.0V238.4H557.0V236.8H560.0V235.2H563.0V233.6H567.0V232.0H570.0V230.4H573.0V228.8H576.0V227.2H579.0V225.6H582.0V224.0H585.0V222.4H588.0V220.8H591.0V219.2H594.0V217.6H597.0V216.0H600.0V214.4H602.0V212.8H605.0V211.2H608.0V209.6H611.0V208.0H613.0V206.4H616.0V204.8H619.0V203.2H621.0V201.6H624.0V200.0H626.0V198.4H629.0V196.8H631.0V195.2H634.0V193.6H636.0V192.0H639.0V190.4H641.0V188.8H643.0V187.2H645.0V185.6H647.0V184.0H649.0V182.4H651.0V180.8H653.0V179.2H655.0V177.6H657.0V176.0H659.0V174.4H660.0V172.8H662.0V171.2H664.0V169.6H666.0V168.0H668.0V166.4H670.0V164.8H672.0V163.2H674.0V161.6H676.0V160.0H679.0V158.4H681.0V156.8H684.0V155.2H688.0V153.6H691.0V152.0H694.0V150.4H698.0V148.8H701.0V147.2H706.0V145.6H710.0V144.0H715.0V142.4H720.0V140.8H726.0V139.2H734.0V137.6H738.5" fill="none" stroke="#b0400f" stroke-width="2.2" stroke-opacity="1.0"/>
<path d="M113.5 320.0H128.0V318.4H156.0V316.8H178.0V315.2H197.0V313.6H214.0V312.0H230.0V310.4H245.0V308.8H259.0V307.2H273.0V305.6H286.0V304.0H299.0V302.4H312.0V300.8H325.0V299.2H337.0V297.6H348.0V296.0H358.0V294.4H368.0V292.8H377.0V291.2H386.0V289.6H394.0V288.0H402.0V286.4H410.0V284.8H417.0V283.2H424.0V281.6H431.0V280.0H438.0V278.4H444.0V276.8H450.0V275.2H456.0V273.6H462.0V272.0H468.0V270.4H473.0V268.8H479.0V267.2H484.0V265.6H489.0V264.0H494.0V262.4H499.0V260.8H503.0V259.2H508.0V257.6H512.0V256.0H517.0V254.4H521.0V252.8H525.0V251.2H529.0V249.6H533.0V248.0H537.0V246.4H540.0V244.8H544.0V243.2H547.0V241.6H551.0V240.0H554.0V238.4H557.0V236.8H560.0V235.2H563.0V233.6H567.0V232.0H570.0V230.4H573.0V228.8H576.0V227.2H579.0V225.6H582.0V224.0H585.0V222.4H588.0V220.8H591.0V219.2H594.0V217.6H597.0V216.0H599.0V214.4H602.0V212.8H605.0V211.2H608.0V209.6H611.0V208.0H613.0V206.4H616.0V204.8H619.0V203.2H621.0V201.6H624.0V200.0H626.0V198.4H629.0V196.8H631.0V195.2H634.0V193.6H636.0V192.0H638.0V190.4H641.0V188.8H643.0V187.2H645.0V185.6H647.0V184.0H649.0V182.4H651.0V180.8H653.0V179.2H655.0V177.6H657.0V176.0H659.0V174.4H660.0V172.8H662.0V171.2H664.0V169.6H666.0V168.0H668.0V166.4H670.0V164.8H672.0V163.2H674.0V161.6H676.0V160.0H679.0V158.4H681.0V156.8H684.0V155.2H687.0V153.6H690.0V152.0H694.0V150.4H697.0V148.8H701.0V147.2H705.0V145.6H709.0V144.0H714.0V142.4H719.0V140.8H726.0V139.2H733.0V137.6H738.5" fill="none" stroke="#dc143c" stroke-width="2.2" stroke-opacity="1.0"/>
<path d="M113.5 320.0H128.0V318.4H156.0V316.8H178.0V315.2H197.0V313.6H214.0V312.0H230.0V310.4H245.0V308.8H260.0V307.2H273.0V305.6H287.0V304.0H300.0V302.4H312.0V300.8H325.0V299.2H337.0V297.6H348.0V296.0H358.0V294.4H368.0V292.8H377.0V291.2H386.0V289.6H394.0V288.0H402.0V286.4H410.0V284.8H417.0V283.2H424.0V281.6H431.0V280.0H438.0V278.4H444.0V276.8H450.0V275.2H456.0V273.6H462.0V272.0H468.0V270.4H473.0V268.8H479.0V267.2H484.0V265.6H489.0V264.0H494.0V262.4H499.0V260.8H503.0V259.2H508.0V257.6H512.0V256.0H517.0V254.4H521.0V252.8H525.0V251.2H529.0V249.6H533.0V248.0H537.0V246.4H540.0V244.8H544.0V243.2H547.0V241.6H551.0V240.0H554.0V238.4H557.0V236.8H560.0V235.2H563.0V233.6H567.0V232.0H570.0V230.4H573.0V228.8H576.0V227.2H579.0V225.6H582.0V224.0H585.0V222.4H588.0V220.8H591.0V219.2H594.0V217.6H597.0V216.0H599.0V214.4H602.0V212.8H605.0V211.2H608.0V209.6H611.0V208.0H613.0V206.4H616.0V204.8H618.0V203.2H621.0V201.6H624.0V200.0H626.0V198.4H629.0V196.8H631.0V195.2H634.0V193.6H636.0V192.0H638.0V190.4H641.0V188.8H643.0V187.2H645.0V185.6H647.0V184.0H649.0V182.4H651.0V180.8H653.0V179.2H655.0V177.6H657.0V176.0H658.0V174.4H660.0V172.8H662.0V171.2H664.0V169.6H666.0V168.0H668.0V166.4H670.0V164.8H672.0V163.2H674.0V161.6H676.0V160.0H678.0V158.4H681.0V156.8H684.0V155.2H687.0V153.6H690.0V152.0H694.0V150.4H697.0V148.8H701.0V147.2H705.0V145.6H709.0V144.0H714.0V142.4H719.0V140.8H725.0V139.2H732.0V137.6H738.5" fill="none" stroke="#006400" stroke-width="2.2" stroke-opacity="1.0"/>
<path d="M113.5 320.0H128.0V318.4H156.0V316.8H178.0V315.2H197.0V313.6H214.0V312.0H230.0V310.4H245.0V308.8H260.0V307.2H273.0V305.6H287.0V304.0H300.0V302.4H312.0V300.8H325.0V299.2H337.0V297.6H348.0V296.0H358.0V294.4H368.0V292.8H377.0V291.2H386.0V289.6H394.0V288.0H402.0V286.4H410.0V284.8H417.0V283.2H424.0V281.6H431.0V280.0H438.0V278.4H444.0V276.8H450.0V275.2H456.0V273.6H462.0V272.0H468.0V270.4H473.0V268.8H479.0V267.2H484.0V265.6H489.0V264.0H494.0V262.4H499.0V260.8H503.0V259.2H508.0V257.6H512.0V256.0H517.0V254.4H521.0V252.8H525.0V251.2H529.0V249.6H533.0V248.0H537.0V246.4H540.0V244.8H544.0V243.2H547.0V241.6H551.0V240.0H554.0V238.4H557.0V236.8H560.0V235.2H563.0V233.6H567.0V232.0H570.0V230.4H573.0V228.8H576.0V227.2H579.0V225.6H582.0V224.0H585.0V222.4H588.0V220.8H591.0V219.2H594.0V217.6H597.0V216.0H599.0V214.4H602.0V212.8H605.0V211.2H608.0V209.6H610.0V208.0H613.0V206.4H616.0V204.8H618.0V203.2H621.0V201.6H624.0V200.0H626.0V198.4H629.0V196.8H631.0V195.2H633.0V193.6H636.0V192.0H638.0V190.4H641.0V188.8H643.0V187.2H645.0V185.6H647.0V184.0H649.0V182.4H651.0V180.8H653.0V179.2H655.0V177.6H656.0V176.0H658.0V174.4H660.0V172.8H662.0V171.2H664.0V169.6H666.0V168.0H668.0V166.4H670.0V164.8H672.0V163.2H674.0V161.6H676.0V160.0H678.0V158.4H681.0V156.8H684.0V155.2H687.0V153.6H690.0V152.0H693.0V150.4H697.0V148.8H700.0V147.2H704.0V145.6H709.0V144.0H713.0V142.4H718.0V140.8H724.0V139.2H731.0V137.6H738.5" fill="none" stroke="#007070" stroke-width="2.2" stroke-opacity="1.0"/>
<path d="M113.5 320.0H128.0V318.4H156.0V316.8H178.0V315.2H197.0V313.6H215.0V312.0H230.0V310.4H245.0V308.8H260.0V307.2H273.0V305.6H287.0V304.0H300.0V302.4H312.0V300.8H325.0V299.2H337.0V297.6H348.0V296.0H359.0V294.4H368.0V292.8H377.0V291.2H386.0V289.6H394.0V288.0H402.0V286.4H410.0V284.8H417.0V283.2H424.0V281.6H431.0V280.0H438.0V278.4H444.0V276.8H451.0V275.2H456.0V273.6H462.0V272.0H468.0V270.4H473.0V268.8H479.0V267.2H484.0V265.6H489.0V264.0H494.0V262.4H499.0V260.8H503.0V259.2H508.0V257.6H512.0V256.0H517.0V254.4H521.0V252.8H525.0V251.2H529.0V249.6H533.0V248.0H537.0V246.4H540.0V244.8H544.0V243.2H547.0V241.6H551.0V240.0H554.0V238.4H557.0V236.8H560.0V235.2H563.0V233.6H567.0V232.0H570.0V230.4H573.0V228.8H576.0V227.2H579.0V225.6H582.0V224.0H585.0V222.4H588.0V220.8H591.0V219.2H594.0V217.6H597.0V216.0H599.0V214.4H602.0V212.8H605.0V211.2H608.0V209.6H610.0V208.0H613.0V206.4H616.0V204.8H618.0V203.2H621.0V201.6H623.0V200.0H626.0V198.4H628.0V196.8H631.0V195.2H633.0V193.6H636.0V192.0H638.0V190.4H641.0V188.8H643.0V187.2H645.0V185.6H647.0V184.0H649.0V182.4H651.0V180.8H653.0V179.2H655.0V177.6H656.0V176.0H658.0V174.4H660.0V172.8H662.0V171.2H664.0V169.6H666.0V168.0H667.0V166.4H669.0V164.8H671.0V163.2H674.0V161.6H676.0V160.0H678.0V158.4H681.0V156.8H683.0V155.2H687.0V153.6H690.0V152.0H693.0V150.4H697.0V148.8H700.0V147.2H704.0V145.6H708.0V144.0H713.0V142.4H718.0V140.8H724.0V139.2H731.0V137.6H738.5" fill="none" stroke="#00a000" stroke-width="2.2" stroke-opacity="1.0"/>
<path d="M113.5 320.0H128.0V318.4H157.0V316.8H178.0V315.2H197.0V313.6H215.0V312.0H230.0V310.4H245.0V308.8H260.0V307.2H273.0V305.6H287.0V304.0H300.0V302.4H312.0V300.8H325.0V299.2H337.0V297.6H348.0V296.0H359.0V294.4H368.0V292.8H377.0V291.2H386.0V289.6H394.0V288.0H402.0V286.4H410.0V284.8H417.0V283.2H424.0V281.6H431.0V280.0H438.0V278.4H444.0V276.8H451.0V275.2H456.0V273.6H462.0V272.0H468.0V270.4H473.0V268.8H479.0V267.2H484.0V265.6H489.0V264.0H494.0V262.4H499.0V260.8H503.0V259.2H508.0V257.6H512.0V256.0H517.0V254.4H521.0V252.8H525.0V251.2H529.0V249.6H533.0V248.0H537.0V246.4H540.0V244.8H544.0V243.2H547.0V241.6H551.0V240.0H554.0V238.4H557.0V236.8H560.0V235.2H563.0V233.6H567.0V232.0H570.0V230.4H573.0V228.8H576.0V227.2H579.0V225.6H582.0V224.0H585.0V222.4H588.0V220.8H591.0V219.2H594.0V217.6H597.0V216.0H599.0V214.4H602.0V212.8H605.0V211.2H608.0V209.6H610.0V208.0H613.0V206.4H616.0V204.8H618.0V203.2H621.0V201.6H623.0V200.0H626.0V198.4H628.0V196.8H631.0V195.2H633.0V193.6H636.0V192.0H638.0V190.4H640.0V188.8H643.0V187.2H645.0V185.6H647.0V184.0H649.0V182.4H651.0V180.8H653.0V179.2H654.0V177.6H656.0V176.0H658.0V174.4H660.0V172.8H662.0V171.2H664.0V169.6H665.0V168.0H667.0V166.4H669.0V164.8H671.0V163.2H673.0V161.6H676.0V160.0H678.0V158.4H680.0V156.8H683.0V155.2H686.0V153.6H689.0V152.0H693.0V150.4H696.0V148.8H700.0V147.2H704.0V145.6H708.0V144.0H712.0V142.4H717.0V140.8H723.0V139.2H730.0V137.6H738.5" fill="none" stroke="#5b5b00" stroke-width="2.2" stroke-opacity="1.0"/>
<path d="M113.5 320.0H129.0V318.4H157.0V316.8H179.0V315.2H197.0V313.6H215.0V312.0H230.0V310.4H245.0V308.8H260.0V307.2H273.0V305.6H287.0V304.0H300.0V302.4H312.0V300.8H325.0V299.2H337.0V297.6H348.0V296.0H359.0V294.4H368.0V292.8H377.0V291.2H386.0V289.6H394.0V288.0H402.0V286.4H410.0V284.8H417.0V283.2H424.0V281.6H431.0V280.0H438.0V278.4H444.0V276.8H451.0V275.2H456.0V273.6H462.0V272.0H468.0V270.4H473.0V268.8H479.0V267.2H484.0V265.6H489.0V264.0H494.0V262.4H499.0V260.8H503.0V259.2H508.0V257.6H512.0V256.0H517.0V254.4H521.0V252.8H525.0V251.2H529.0V249.6H533.0V248.0H537.0V246.4H540.0V244.8H544.0V243.2H547.0V241.6H551.0V240.0H554.0V238.4H557.0V236.8H560.0V235.2H563.0V233.6H567.0V232.0H570.0V230.4H573.0V228.8H576.0V227.2H579.0V225.6H582.0V224.0H585.0V222.4H588.0V220.8H591.0V219.2H594.0V217.6H597.0V216.0H599.0V214.4H602.0V212.8H605.0V211.2H608.0V209.6H610.0V208.0H613.0V206.4H616.0V204.8H618.0V203.2H621.0V201.6H623.0V200.0H626.0V198.4H628.0V196.8H631.0V195.2H633.0V193.6H636.0V192.0H638.0V190.4H640.0V188.8H643.0V187.2H645.0V185.6H647.0V184.0H649.0V182.4H651.0V180.8H653.0V179.2H654.0V177.6H656.0V176.0H658.0V174.4H660.0V172.8H662.0V171.2H664.0V169.6H665.0V168.0H667.0V166.4H669.0V164.8H671.0V163.2H673.0V161.6H675.0V160.0H678.0V158.4H680.0V156.8H683.0V155.2H686.0V153.6H689.0V152.0H693.0V150.4H696.0V148.8H700.0V147.2H703.0V145.6H708.0V144.0H712.0V142.4H717.0V140.8H723.0V139.2H729.0V137.6H738.0V136.0H738.5" fill="none" stroke="#0064ff" stroke-width="2.2" stroke-opacity="1.0"/>
<path d="M113.5 320.0H129.0V318.4H157.0V316.8H179.0V315.2H198.0V313.6H215.0V312.0H230.0V310.4H245.0V308.8H260.0V307.2H273.0V305.6H287.0V304.0H300.0V302.4H312.0V300.8H325.0V299.2H337.0V297.6H348.0V296.0H359.0V294.4H368.0V292.8H377.0V291.2H386.0V289.6H394.0V288.0H402.0V286.4H410.0V284.8H417.0V283.2H424.0V281.6H431.0V280.0H438.0V278.4H444.0V276.8H451.0V275.2H457.0V273.6H462.0V272.0H468.0V270.4H473.0V268.8H479.0V267.2H484.0V265.6H489.0V264.0H494.0V262.4H499.0V260.8H503.0V259.2H508.0V257.6H512.0V256.0H517.0V254.4H521.0V252.8H525.0V251.2H529.0V249.6H533.0V248.0H537.0V246.4H540.0V244.8H544.0V243.2H547.0V241.6H551.0V240.0H554.0V238.4H557.0V236.8H560.0V235.2H563.0V233.6H567.0V232.0H570.0V230.4H573.0V228.8H576.0V227.2H579.0V225.6H582.0V224.0H585.0V222.4H588.0V220.8H591.0V219.2H594.0V217.6H597.0V216.0H599.0V214.4H602.0V212.8H605.0V211.2H608.0V209.6H610.0V208.0H613.0V206.4H616.0V204.8H618.0V203.2H621.0V201.6H623.0V200.0H626.0V198.4H628.0V196.8H631.0V195.2H633.0V193.6H636.0V192.0H638.0V190.4H640.0V188.8H643.0V187.2H645.0V185.6H647.0V184.0H649.0V182.4H651.0V180.8H652.0V179.2H654.0V177.6H656.0V176.0H658.0V174.4H660.0V172.8H662.0V171.2H663.0V169.6H665.0V168.0H667.0V166.4H669.0V164.8H671.0V163.2H673.0V161.6H675.0V160.0H678.0V158.4H680.0V156.8H683.0V155.2H686.0V153.6H689.0V152.0H692.0V150.4H696.0V148.8H699.0V147.2H703.0V145.6H707.0V144.0H712.0V142.4H717.0V140.8H722.0V139.2H729.0V137.6H737.0V136.0H738.5" fill="none" stroke="#e06000" stroke-width="2.2" stroke-opacity="1.0"/>
<path d="M113.5 320.0H129.0V318.4H157.0V316.8H179.0V315.2H198.0V313.6H215.0V312.0H231.0V310.4H245.0V308.8H260.0V307.2H273.0V305.6H287.0V304.0H300.0V302.4H312.0V300.8H325.0V299.2H337.0V297.6H348.0V296.0H359.0V294.4H368.0V292.8H377.0V291.2H386.0V289.6H394.0V288.0H402.0V286.4H410.0V284.8H417.0V283.2H424.0V281.6H431.0V280.0H438.0V278.4H444.0V276.8H451.0V275.2H457.0V273.6H462.0V272.0H468.0V270.4H473.0V268.8H479.0V267.2H484.0V265.6H489.0V264.0H494.0V262.4H499.0V260.8H503.0V259.2H508.0V257.6H512.0V256.0H517.0V254.4H521.0V252.8H525.0V251.2H529.0V249.6H533.0V248.0H537.0V246.4H540.0V244.8H544.0V243.2H547.0V241.6H551.0V240.0H554.0V238.4H557.0V236.8H560.0V235.2H563.0V233.6H567.0V232.0H570.0V230.4H573.0V228.8H576.0V227.2H579.0V225.6H582.0V224.0H585.0V222.4H588.0V220.8H591.0V219.2H594.0V217.6H596.0V216.0H599.0V214.4H602.0V212.8H605.0V211.2H608.0V209.6H610.0V208.0H613.0V206.4H616.0V204.8H618.0V203.2H621.0V201.6H623.0V200.0H626.0V198.4H628.0V196.8H631.0V195.2H633.0V193.6H635.0V192.0H638.0V190.4H640.0V188.8H642.0V187.2H645.0V185.6H647.0V184.0H649.0V182.4H650.0V180.8H652.0V179.2H654.0V177.6H656.0V176.0H658.0V174.4H660.0V172.8H661.0V171.2H663.0V169.6H665.0V168.0H667.0V166.4H669.0V164.8H671.0V163.2H673.0V161.6H675.0V160.0H677.0V158.4H680.0V156.8H683.0V155.2H686.0V153.6H689.0V152.0H692.0V150.4H695.0V148.8H699.0V147.2H703.0V145.6H707.0V144.0H711.0V142.4H716.0V140.8H722.0V139.2H728.0V137.6H736.0V136.0H738.5" fill="none" stroke="#00906b" stroke-width="2.2" stroke-opacity="1.0"/>
<path d="M113.5 320.0H129.0V318.4H157.0V316.8H179.0V315.2H198.0V313.6H215.0V312.0H231.0V310.4H245.0V308.8H260.0V307.2H273.0V305.6H287.0V304.0H300.0V302.4H312.0V300.8H325.0V299.2H337.0V297.6H348.0V296.0H359.0V294.4H368.0V292.8H377.0V291.2H386.0V289.6H394.0V288.0H402.0V286.4H410.0V284.8H417.0V283.2H424.0V281.6H431.0V280.0H438.0V278.4H444.0V276.8H451.0V275.2H457.0V273.6H462.0V272.0H468.0V270.4H473.0V268.8H479.0V267.2H484.0V265.6H489.0V264.0H494.0V262.4H499.0V260.8H503.0V259.2H508.0V257.6H512.0V256.0H517.0V254.4H521.0V252.8H525.0V251.2H529.0V249.6H533.0V248.0H537.0V246.4H540.0V244.8H544.0V243.2H547.0V241.6H551.0V240.0H554.0V238.4H557.0V236.8H560.0V235.2H563.0V233.6H567.0V232.0H570.0V230.4H573.0V228.8H576.0V227.2H579.0V225.6H582.0V224.0H585.0V222.4H588.0V220.8H591.0V219.2H594.0V217.6H596.0V216.0H599.0V214.4H602.0V212.8H605.0V211.2H608.0V209.6H610.0V208.0H613.0V206.4H615.0V204.8H618.0V203.2H621.0V201.6H623.0V200.0H626.0V198.4H628.0V196.8H631.0V195.2H633.0V193.6H635.0V192.0H638.0V190.4H640.0V188.8H642.0V187.2H645.0V185.6H647.0V184.0H649.0V182.4H650.0V180.8H652.0V179.2H654.0V177.6H656.0V176.0H658.0V174.4H660.0V172.8H661.0V171.2H663.0V169.6H665.0V168.0H667.0V166.4H669.0V164.8H671.0V163.2H673.0V161.6H675.0V160.0H677.0V158.4H680.0V156.8H682.0V155.2H685.0V153.6H689.0V152.0H692.0V150.4H695.0V148.8H699.0V147.2H703.0V145.6H707.0V144.0H711.0V142.4H716.0V140.8H721.0V139.2H728.0V137.6H735.0V136.0H738.5" fill="none" stroke="#d01010" stroke-width="2.2" stroke-opacity="1.0"/>
<path d="M113.5 320.0H129.0V318.4H157.0V316.8H179.0V315.2H198.0V313.6H215.0V312.0H231.0V310.4H245.0V308.8H260.0V307.2H273.0V305.6H287.0V304.0H300.0V302.4H313.0V300.8H325.0V299.2H337.0V297.6H348.0V296.0H359.0V294.4H368.0V292.8H377.0V291.2H386.0V289.6H394.0V288.0H402.0V286.4H410.0V284.8H417.0V283.2H425.0V281.6H431.0V280.0H438.0V278.4H444.0V276.8H451.0V275.2H457.0V273.6H462.0V272.0H468.0V270.4H473.0V268.8H479.0V267.2H484.0V265.6H489.0V264.0H494.0V262.4H499.0V260.8H503.0V259.2H508.0V257.6H512.0V256.0H517.0V254.4H521.0V252.8H525.0V251.2H529.0V249.6H533.0V248.0H537.0V246.4H540.0V244.8H544.0V243.2H547.0V241.6H551.0V240.0H554.0V238.4H557.0V236.8H560.0V235.2H563.0V233.6H567.0V232.0H570.0V230.4H573.0V228.8H576.0V227.2H579.0V225.6H582.0V224.0H585.0V222.4H588.0V220.8H591.0V219.2H594.0V217.6H596.0V216.0H599.0V214.4H602.0V212.8H605.0V211.2H607.0V209.6H610.0V208.0H613.0V206.4H615.0V204.8H618.0V203.2H621.0V201.6H623.0V200.0H626.0V198.4H628.0V196.8H631.0V195.2H633.0V193.6H635.0V192.0H638.0V190.4H640.0V188.8H642.0V187.2H644.0V185.6H646.0V184.0H648.0V182.4H650.0V180.8H652.0V179.2H654.0V177.6H656.0V176.0H658.0V174.4H659.0V172.8H661.0V171.2H663.0V169.6H665.0V168.0H667.0V166.4H669.0V164.8H671.0V163.2H673.0V161.6H675.0V160.0H677.0V158.4H680.0V156.8H682.0V155.2H685.0V153.6H688.0V152.0H692.0V150.4H695.0V148.8H699.0V147.2H702.0V145.6H706.0V144.0H711.0V142.4H715.0V140.8H721.0V139.2H727.0V137.6H735.0V136.0H738.5" fill="none" stroke="#1e3cff" stroke-width="2.2" stroke-opacity="1.0"/>
<path d="M113.5 320.0H129.0V318.4H157.0V316.8H179.0V315.2H198.0V313.6H215.0V312.0H231.0V310.4H246.0V308.8H260.0V307.2H273.0V305.6H287.0V304.0H300.0V302.4H313.0V300.8H325.0V299.2H337.0V297.6H348.0V296.0H359.0V294.4H368.0V292.8H377.0V291.2H386.0V289.6H394.0V288.0H402.0V286.4H410.0V284.8H417.0V283.2H425.0V281.6H431.0V280.0H438.0V278.4H444.0V276.8H451.0V275.2H457.0V273.6H462.0V272.0H468.0V270.4H473.0V268.8H479.0V267.2H484.0V265.6H489.0V264.0H494.0V262.4H499.0V260.8H503.0V259.2H508.0V257.6H512.0V256.0H517.0V254.4H521.0V252.8H525.0V251.2H529.0V249.6H533.0V248.0H537.0V246.4H540.0V244.8H544.0V243.2H547.0V241.6H551.0V240.0H554.0V238.4H557.0V236.8H560.0V235.2H563.0V233.6H567.0V232.0H570.0V230.4H573.0V228.8H576.0V227.2H579.0V225.6H582.0V224.0H585.0V222.4H588.0V220.8H591.0V219.2H594.0V217.6H596.0V216.0H599.0V214.4H602.0V212.8H605.0V211.2H607.0V209.6H610.0V208.0H613.0V206.4H615.0V204.8H618.0V203.2H621.0V201.6H623.0V200.0H626.0V198.4H628.0V196.8H630.0V195.2H633.0V193.6H635.0V192.0H638.0V190.4H640.0V188.8H642.0V187.2H644.0V185.6H646.0V184.0H648.0V182.4H650.0V180.8H652.0V179.2H654.0V177.6H656.0V176.0H658.0V174.4H659.0V172.8H661.0V171.2H663.0V169.6H665.0V168.0H667.0V166.4H669.0V164.8H671.0V163.2H673.0V161.6H675.0V160.0H677.0V158.4H679.0V156.8H682.0V155.2H685.0V153.6H688.0V152.0H691.0V150.4H695.0V148.8H698.0V147.2H702.0V145.6H706.0V144.0H710.0V142.4H715.0V140.8H720.0V139.2H727.0V137.6H734.0V136.0H738.5" fill="none" stroke="#e010e0" stroke-width="1.6" stroke-opacity="1.0"/>
</g><g filter="url(#bl)">
<line x1="739" y1="215.9" x2="739" y2="496.5" stroke="#0000ff" stroke-width="2"/>
<line x1="739" y1="201.75" x2="739" y2="461.51" stroke="#008000" stroke-width="2"/>
<line x1="739" y1="191.71" x2="739" y2="442.61" stroke="#ff0000" stroke-width="2"/>
<line x1="739" y1="184.19" x2="739" y2="430.72" stroke="#00bfbf" stroke-width="2"/>
<line x1="739" y1="178.33" x2="739" y2="422.54" stroke="#bf00bf" stroke-width="2"/>
<line x1="739" y1="173.63" x2="739" y2="416.55" stroke="#bfbf00" stroke-width="2"/>
<line x1="739" y1="169.78" x2="739" y2="411.97" stroke="#404040" stroke-width="2"/>
<line x1="739" y1="166.55" x2="739" y2="408.35" stroke="#0000ff" stroke-width="2"/>
<line x1="739" y1="163.81" x2="739" y2="405.42" stroke="#008000" stroke-width="2"/>
<line x1="739" y1="161.45" x2="739" y2="402.99" stroke="#ff0000" stroke-width="2"/>
<line x1="739" y1="159.4" x2="739" y2="400.95" stroke="#00bfbf" stroke-width="2"/>
<line x1="739" y1="157.59" x2="739" y2="399.21" stroke="#bf00bf" stroke-width="2"/>
<line x1="739" y1="155.99" x2="739" y2="397.7" stroke="#bfbf00" stroke-width="2"/>
<line x1="739" y1="154.56" x2="739" y2="396.38" stroke="#404040" stroke-width="2"/>
<line x1="739" y1="153.28" x2="739" y2="395.22" stroke="#0000ff" stroke-width="2"/>
<line x1="739" y1="152.12" x2="739" y2="394.2" stroke="#008000" stroke-width="2"/>
<line x1="739" y1="151.06" x2="739" y2="393.28" stroke="#ff0000" stroke-width="2"/>
<line x1="739" y1="150.1" x2="739" y2="392.45" stroke="#00bfbf" stroke-width="2"/>
<line x1="739" y1="149.22" x2="739" y2="391.7" stroke="#bf00bf" stroke-width="2"/>
<line x1="739" y1="148.41" x2="739" y2="391.02" stroke="#bfbf00" stroke-width="2"/>
<line x1="739" y1="147.66" x2="739" y2="390.4" stroke="#404040" stroke-width="2"/>
<line x1="739" y1="146.96" x2="739" y2="389.83" stroke="#0000ff" stroke-width="2"/>
<line x1="739" y1="146.32" x2="739" y2="389.31" stroke="#008000" stroke-width="2"/>
<line x1="739" y1="145.72" x2="739" y2="388.82" stroke="#ff0000" stroke-width="2"/>
<line x1="739" y1="145.16" x2="739" y2="388.38" stroke="#00bfbf" stroke-width="2"/>
<line x1="739" y1="144.63" x2="739" y2="387.96" stroke="#bf00bf" stroke-width="2"/>
<line x1="739" y1="144.14" x2="739" y2="387.57" stroke="#bfbf00" stroke-width="2"/>
<line x1="739" y1="143.67" x2="739" y2="387.21" stroke="#404040" stroke-width="2"/>
<line x1="739" y1="143.23" x2="739" y2="386.87" stroke="#0000ff" stroke-width="2"/>
<line x1="739" y1="142.82" x2="739" y2="386.55" stroke="#008000" stroke-width="2"/>
<line x1="739" y1="142.43" x2="739" y2="386.26" stroke="#ff0000" stroke-width="2"/>
<line x1="739" y1="142.06" x2="739" y2="385.97" stroke="#00bfbf" stroke-width="2"/>
<line x1="739" y1="141.71" x2="739" y2="385.71" stroke="#bf00bf" stroke-width="2"/>
<line x1="739" y1="141.38" x2="739" y2="385.46" stroke="#bfbf00" stroke-width="2"/>
<line x1="739" y1="141.06" x2="739" y2="385.22" stroke="#00307a" stroke-width="2"/>
<line x1="739" y1="140.76" x2="739" y2="384.99" stroke="#b0400f" stroke-width="2"/>
<line x1="739" y1="140.47" x2="739" y2="384.78" stroke="#c89010" stroke-width="2"/>
<line x1="739" y1="140.19" x2="739" y2="384.58" stroke="#5a1a6a" stroke-width="2"/>
<line x1="739" y1="139.93" x2="739" y2="384.38" stroke="#4a8020" stroke-width="2"/>
<line x1="739" y1="139.68" x2="739" y2="384.2" stroke="#2a90c0" stroke-width="2"/>
<line x1="739" y1="139.44" x2="739" y2="384.02" stroke="#80101f" stroke-width="2"/>
<line x1="739" y1="139.21" x2="739" y2="383.86" stroke="#00307a" stroke-width="2"/>
<line x1="739" y1="138.98" x2="739" y2="383.69" stroke="#b0400f" stroke-width="2"/>
<line x1="739" y1="138.77" x2="739" y2="383.54" stroke="#c89010" stroke-width="2"/>
<line x1="739" y1="138.57" x2="739" y2="383.39" stroke="#5a1a6a" stroke-width="2"/>
<line x1="739" y1="138.37" x2="739" y2="383.25" stroke="#4a8020" stroke-width="2"/>
<line x1="739" y1="138.18" x2="739" y2="383.12" stroke="#2a90c0" stroke-width="2"/>
<line x1="739" y1="138" x2="739" y2="382.99" stroke="#80101f" stroke-width="2"/>
<line x1="739" y1="137.82" x2="739" y2="382.86" stroke="#00307a" stroke-width="2"/>
<line x1="739" y1="137.65" x2="739" y2="382.74" stroke="#b0400f" stroke-width="2"/>
<line x1="739" y1="137.49" x2="739" y2="382.62" stroke="#dc143c" stroke-width="2"/>
<line x1="739" y1="137.33" x2="739" y2="382.51" stroke="#006400" stroke-width="2"/>
<line x1="739" y1="137.17" x2="739" y2="382.4" stroke="#007070" stroke-width="2"/>
<line x1="739" y1="137.02" x2="739" y2="382.3" stroke="#00a000" stroke-width="2"/>
<line x1="739" y1="136.88" x2="739" y2="382.2" stroke="#5b5b00" stroke-width="2"/>
<line x1="739" y1="136.74" x2="739" y2="382.1" stroke="#0064ff" stroke-width="2"/>
<line x1="739" y1="136.61" x2="739" y2="382.01" stroke="#e06000" stroke-width="2"/>
<line x1="739" y1="136.48" x2="739" y2="381.92" stroke="#00906b" stroke-width="2"/>
<line x1="739" y1="136.35" x2="739" y2="381.83" stroke="#d01010" stroke-width="2"/>
<line x1="739" y1="136.23" x2="739" y2="381.74" stroke="#1e3cff" stroke-width="2"/>
<line x1="739" y1="136.11" x2="739" y2="381.66" stroke="#e010e0" stroke-width="2"/>
</g><g filter="url(#bl)">
<path d="M740.0 497.6H740.5V502.4H741.5V505.6H742.5V508.8H743.5V512.0H744.5V515.2H745.5V520.0H746.5V523.2H747.5V526.4H748.5V529.6H749.5V532.8H750.5V537.6H751.5V540.8H752.5V544.0H753.5V547.2H754.5V552.0H755.5V555.2H756.5V558.4H757.5V561.6H758.5V564.8H759.5V569.6H760.5V572.8H761.5V576.0H762.5V579.2H763.5V582.4H764.5V587.2H765.5V590.4H766.5V593.6H767.5V596.8H768.5V600.0H769.5V604.8H770.5V608.0H771.5V611.2H772.5V614.4H773.5V617.6H774.5V622.4H775.5V625.6H776.5V628.8H777.5V632.0H778.5V636.8H779.5V640.0H780.5V643.2H781.5V646.4H782.5V649.6H783.5V654.4H784.5V657.6H785.5V660.8H786.5V664.0H787.5V667.2H788.5V672.0H789.5V675.2H790.5V678.4H791.5V681.6H792.0" fill="none" stroke="#0000ff" stroke-width="1.9" stroke-opacity="0.9"/>
<path d="M740.0 462.4H740.5V465.6H741.5V468.8H742.5V472.0H743.5V475.2H744.5V478.4H745.5V481.6H746.5V484.8H747.5V488.0H748.5V491.2H749.5V496.0H750.5V499.2H751.5V502.4H752.5V505.6H753.5V508.8H754.5V512.0H755.5V516.8H756.5V520.0H757.5V523.2H758.5V526.4H759.5V529.6H760.5V532.8H761.5V536.0H762.5V540.8H763.5V544.0H764.5V547.2H765.5V550.4H766.5V553.6H767.5V558.4H768.5V561.6H769.5V564.8H770.5V568.0H771.5V572.8H772.5V576.0H773.5V579.2H774.5V584.0H775.5V587.2H776.5V590.4H777.5V595.2H778.5V598.4H779.5V601.6H780.5V606.4H781.5V609.6H782.5V614.4H783.5V617.6H784.5V620.8H785.5V625.6H786.5V628.8H787.5V633.6H788.5V636.8H789.5V640.0H790.5V644.8H791.5V648.0H792.0" fill="none" stroke="#008000" stroke-width="1.9" stroke-opacity="0.9"/>
<path d="M740.0 443.2H740.5V446.4H741.5V449.6H742.5V452.8H743.5V454.4H744.5V457.6H745.5V460.8H746.5V464.0H747.5V467.2H748.5V470.4H749.5V473.6H750.5V476.8H751.5V480.0H752.5V483.2H753.5V486.4H754.5V489.6H755.5V492.8H756.5V496.0H757.5V499.2H758.5V502.4H759.5V505.6H760.5V508.8H761.5V512.0H762.5V515.2H763.5V518.4H764.5V521.6H765.5V526.4H766.5V529.6H767.5V532.8H768.5V536.0H769.5V539.2H770.5V542.4H771.5V547.2H772.5V550.4H773.5V555.2H774.5V558.4H775.5V561.6H776.5V566.4H777.5V569.6H778.5V572.8H779.5V577.6H780.5V580.8H781.5V585.6H782.5V588.8H783.5V593.6H784.5V596.8H785.5V601.6H786.5V604.8H787.5V608.0H788.5V612.8H789.5V616.0H790.5V619.2H791.5V624.0H792.0" fill="none" stroke="#ff0000" stroke-width="1.9" stroke-opacity="0.9"/>
<path d="M740.0 432.0H740.5V433.6H741.5V436.8H742.5V440.0H743.5V441.6H744.5V444.8H745.5V446.4H746.5V449.6H747.5V452.8H748.5V456.0H749.5V457.6H750.5V460.8H751.5V464.0H752.5V467.2H753.5V470.4H754.5V473.6H755.5V476.8H756.5V480.0H757.5V483.2H758.5V486.4H759.5V489.6H760.5V492.8H761.5V496.0H762.5V499.2H763.5V502.4H764.5V505.6H765.5V508.8H766.5V512.0H767.5V515.2H768.5V518.4H769.5V521.6H770.5V524.8H771.5V529.6H772.5V532.8H773.5V536.0H774.5V539.2H775.5V544.0H776.5V547.2H777.5V550.4H778.5V555.2H779.5V558.4H780.5V563.2H781.5V566.4H782.5V571.2H783.5V574.4H784.5V579.2H785.5V582.4H786.5V587.2H787.5V590.4H788.5V593.6H789.5V598.4H790.5V601.6H791.5V604.8H792.0" fill="none" stroke="#00bfbf" stroke-width="1.9" stroke-opacity="0.9"/>
<path d="M740.0 424.0H740.5V425.6H741.5V427.2H742.5V430.4H743.5V432.0H744.5V435.2H745.5V436.8H746.5V440.0H747.5V441.6H748.5V444.8H749.5V448.0H750.5V451.2H751.5V454.4H752.5V457.6H753.5V459.2H754.5V462.4H755.5V465.6H756.5V468.8H757.5V472.0H758.5V473.6H759.5V476.8H760.5V480.0H761.5V483.2H762.5V486.4H763.5V488.0H764.5V491.2H765.5V494.4H766.5V497.6H767.5V500.8H768.5V504.0H769.5V507.2H770.5V512.0H771.5V515.2H772.5V518.4H773.5V521.6H774.5V526.4H775.5V529.6H776.5V532.8H777.5V536.0H778.5V540.8H779.5V544.0H780.5V548.8H781.5V552.0H782.5V556.8H783.5V560.0H784.5V564.8H785.5V568.0H786.5V571.2H787.5V576.0H788.5V579.2H789.5V582.4H790.5V587.2H791.5V590.4H792.0" fill="none" stroke="#bf00bf" stroke-width="1.9" stroke-opacity="0.9"/>
<path d="M740.0 417.6H740.5V419.2H741.5V420.8H742.5V424.0H743.5V425.6H744.5V427.2H745.5V430.4H746.5V432.0H747.5V435.2H748.5V436.8H749.5V440.0H750.5V441.6H751.5V444.8H752.5V448.0H753.5V451.2H754.5V454.4H755.5V456.0H756.5V459.2H757.5V462.4H758.5V465.6H759.5V467.2H760.5V470.4H761.5V473.6H762.5V475.2H763.5V478.4H764.5V481.6H765.5V484.8H766.5V488.0H767.5V491.2H768.5V494.4H769.5V497.6H770.5V500.8H771.5V504.0H772.5V507.2H773.5V510.4H774.5V515.2H775.5V518.4H776.5V521.6H777.5V524.8H778.5V529.6H779.5V532.8H780.5V536.0H781.5V540.8H782.5V544.0H783.5V548.8H784.5V552.0H785.5V556.8H786.5V560.0H787.5V563.2H788.5V566.4H789.5V571.2H790.5V574.4H791.5V577.6H792.0" fill="none" stroke="#bfbf00" stroke-width="1.9" stroke-opacity="0.9"/>
</g><g filter="url(#bl2)">
<path d="M740.0 412.8H740.5V414.4H741.5V416.0H742.5V417.6H743.5V420.8H744.5V422.4H745.5V424.0H746.5V425.6H747.5V428.8H748.5V430.4H749.5V433.6H750.5V435.2H751.5V438.4H752.5V441.6H753.5V444.8H754.5V446.4H755.5V449.6H756.5V452.8H757.5V454.4H758.5V457.6H759.5V459.2H760.5V462.4H761.5V465.6H762.5V467.2H763.5V470.4H764.5V473.6H765.5V476.8H766.5V478.4H767.5V481.6H768.5V484.8H769.5V488.0H770.5V491.2H771.5V494.4H772.5V497.6H773.5V502.4H774.5V505.6H775.5V508.8H776.5V512.0H777.5V515.2H778.5V518.4H779.5V523.2H780.5V526.4H781.5V531.2H782.5V534.4H783.5V539.2H784.5V542.4H785.5V545.6H786.5V550.4H787.5V553.6H788.5V556.8H789.5V560.0H790.5V563.2H791.5V566.4H792.0" fill="none" stroke="#404040" stroke-width="1.9" stroke-opacity="0.9"/>
<path d="M740.0 409.6H740.5V411.2H741.5V412.8H742.5V414.4H743.5V416.0H744.5V417.6H745.5V419.2H746.5V420.8H747.5V424.0H748.5V425.6H749.5V427.2H750.5V430.4H751.5V433.6H752.5V436.8H753.5V438.4H754.5V441.6H755.5V443.2H756.5V446.4H757.5V448.0H758.5V451.2H759.5V452.8H760.5V456.0H761.5V459.2H762.5V460.8H763.5V464.0H764.5V465.6H765.5V468.8H766.5V472.0H767.5V475.2H768.5V476.8H769.5V480.0H770.5V483.2H771.5V486.4H772.5V491.2H773.5V494.4H774.5V497.6H775.5V500.8H776.5V504.0H777.5V507.2H778.5V510.4H779.5V515.2H780.5V518.4H781.5V521.6H782.5V526.4H783.5V529.6H784.5V534.4H785.5V537.6H786.5V540.8H787.5V544.0H788.5V547.2H789.5V550.4H790.5V553.6H791.5V558.4H792.0" fill="none" stroke="#0000ff" stroke-width="1.9" stroke-opacity="0.9"/>
<path d="M740.0 406.4H740.5V408.0H741.5V409.6H742.5V411.2H743.5V412.8H744.5V414.4H745.5V416.0H746.5V417.6H747.5V419.2H748.5V420.8H749.5V424.0H750.5V425.6H751.5V428.8H752.5V432.0H753.5V433.6H754.5V436.8H755.5V438.4H756.5V441.6H757.5V443.2H758.5V446.4H759.5V448.0H760.5V451.2H761.5V452.8H762.5V456.0H763.5V457.6H764.5V460.8H765.5V462.4H766.5V465.6H767.5V468.8H768.5V470.4H769.5V473.6H770.5V476.8H771.5V480.0H772.5V483.2H773.5V488.0H774.5V491.2H775.5V494.4H776.5V497.6H777.5V500.8H778.5V504.0H779.5V507.2H780.5V510.4H781.5V515.2H782.5V518.4H783.5V523.2H784.5V526.4H785.5V529.6H786.5V532.8H787.5V536.0H788.5V539.2H789.5V542.4H790.5V545.6H791.5V548.8H792.0" fill="none" stroke="#008000" stroke-width="1.9" stroke-opacity="0.9"/>
<path d="M740.0 403.2H740.5V404.8H741.5V406.4H742.5V408.0H743.5V409.6H744.5V411.2H745.5V412.8H746.5V414.4H747.5V416.0H748.5V417.6H749.5V420.8H750.5V422.4H751.5V425.6H752.5V427.2H753.5V430.4H754.5V432.0H755.5V435.2H756.5V436.8H757.5V438.4H758.5V441.6H759.5V443.2H760.5V446.4H761.5V448.0H762.5V449.6H763.5V452.8H764.5V456.0H765.5V457.6H766.5V460.8H767.5V462.4H768.5V465.6H769.5V468.8H770.5V472.0H771.5V475.2H772.5V478.4H773.5V481.6H774.5V484.8H775.5V488.0H776.5V491.2H777.5V494.4H778.5V497.6H779.5V500.8H780.5V504.0H781.5V508.8H782.5V512.0H783.5V515.2H784.5V520.0H785.5V523.2H786.5V526.4H787.5V529.6H788.5V532.8H789.5V536.0H790.5V539.2H791.5V542.4H792.0" fill="none" stroke="#ff0000" stroke-width="1.9" stroke-opacity="0.9"/>
<path d="M740.0 401.6H740.5V403.2H741.5V404.8H743.5V406.4H744.5V408.0H745.5V409.6H746.5V411.2H747.5V412.8H748.5V414.4H749.5V417.6H750.5V419.2H751.5V422.4H752.5V424.0H753.5V427.2H754.5V428.8H755.5V430.4H756.5V433.6H757.5V435.2H758.5V436.8H759.5V440.0H760.5V441.6H761.5V443.2H762.5V446.4H763.5V448.0H764.5V451.2H765.5V452.8H766.5V456.0H767.5V457.6H768.5V460.8H769.5V464.0H770.5V467.2H771.5V470.4H772.5V473.6H773.5V476.8H774.5V480.0H775.5V481.6H776.5V484.8H777.5V488.0H778.5V491.2H779.5V496.0H780.5V499.2H781.5V502.4H782.5V505.6H783.5V510.4H784.5V513.6H785.5V516.8H786.5V520.0H787.5V523.2H788.5V526.4H789.5V529.6H790.5V532.8H791.5V536.0H792.0" fill="none" stroke="#00bfbf" stroke-width="1.9" stroke-opacity="0.9"/>
<path d="M740.0 400.0H740.5V401.6H742.5V403.2H743.5V404.8H744.5V406.4H745.5V408.0H746.5V409.6H747.5V411.2H748.5V412.8H749.5V414.4H750.5V416.0H751.5V419.2H752.5V420.8H753.5V424.0H754.5V425.6H755.5V427.2H756.5V430.4H757.5V432.0H758.5V433.6H759.5V435.2H760.5V438.4H761.5V440.0H762.5V441.6H763.5V444.8H764.5V446.4H765.5V449.6H766.5V451.2H767.5V454.4H768.5V456.0H769.5V459.2H770.5V462.4H771.5V465.6H772.5V468.8H773.5V472.0H774.5V475.2H775.5V476.8H776.5V480.0H777.5V483.2H778.5V486.4H779.5V489.6H780.5V494.4H781.5V497.6H782.5V500.8H783.5V504.0H784.5V507.2H785.5V510.4H786.5V515.2H787.5V518.4H788.5V520.0H789.5V523.2H790.5V526.4H791.5V529.6H792.0" fill="none" stroke="#bf00bf" stroke-width="1.9" stroke-opacity="0.9"/>
<path d="M740.0 398.4H740.5V400.0H742.5V401.6H743.5V403.2H744.5V404.8H746.5V406.4H747.5V408.0H748.5V409.6H749.5V411.2H750.5V414.4H751.5V416.0H752.5V419.2H753.5V420.8H754.5V422.4H755.5V425.6H756.5V427.2H757.5V428.8H758.5V430.4H759.5V433.6H760.5V435.2H761.5V436.8H762.5V438.4H763.5V441.6H764.5V443.2H765.5V444.8H766.5V448.0H767.5V449.6H768.5V452.8H769.5V456.0H770.5V457.6H771.5V460.8H772.5V464.0H773.5V467.2H774.5V470.4H775.5V473.6H776.5V476.8H777.5V480.0H778.5V481.6H779.5V486.4H780.5V489.6H781.5V492.8H782.5V496.0H783.5V499.2H784.5V502.4H785.5V505.6H786.5V508.8H787.5V512.0H788.5V515.2H789.5V518.4H790.5V521.6H791.5V524.8H792.0" fill="none" stroke="#bfbf00" stroke-width="1.9" stroke-opacity="0.9"/>
<path d="M740.0 396.8H740.5V398.4H742.5V400.0H743.5V401.6H744.5V403.2H746.5V404.8H747.5V406.4H748.5V408.0H749.5V409.6H750.5V411.2H751.5V414.4H752.5V416.0H753.5V419.2H754.5V420.8H755.5V422.4H756.5V424.0H757.5V425.6H758.5V428.8H759.5V430.4H760.5V432.0H761.5V433.6H762.5V435.2H763.5V438.4H764.5V440.0H765.5V441.6H766.5V444.8H767.5V446.4H768.5V449.6H769.5V451.2H770.5V454.4H771.5V457.6H772.5V460.8H773.5V464.0H774.5V465.6H775.5V468.8H776.5V472.0H777.5V475.2H778.5V478.4H779.5V481.6H780.5V484.8H781.5V488.0H782.5V491.2H783.5V494.4H784.5V497.6H785.5V500.8H786.5V504.0H787.5V507.2H788.5V510.4H789.5V513.6H790.5V516.8H791.5V520.0H792.0" fill="none" stroke="#404040" stroke-width="1.9" stroke-opacity="0.9"/>
<path d="M740.0 395.2H740.5V396.8H742.5V398.4H743.5V400.0H744.5V401.6H746.5V403.2H747.5V404.8H748.5V406.4H749.5V408.0H750.5V409.6H751.5V412.8H752.5V414.4H753.5V416.0H754.5V417.6H755.5V420.8H756.5V422.4H757.5V424.0H758.5V425.6H759.5V427.2H760.5V428.8H761.5V432.0H762.5V433.6H763.5V435.2H764.5V436.8H765.5V440.0H766.5V441.6H767.5V443.2H768.5V446.4H769.5V448.0H770.5V451.2H771.5V454.4H772.5V457.6H773.5V460.8H774.5V462.4H775.5V465.6H776.5V468.8H777.5V472.0H778.5V475.2H779.5V476.8H780.5V481.6H781.5V484.8H782.5V488.0H783.5V491.2H784.5V494.4H785.5V497.6H786.5V500.8H787.5V504.0H788.5V505.6H789.5V508.8H790.5V512.0H791.5V515.2H792.0" fill="none" stroke="#0000ff" stroke-width="1.9" stroke-opacity="0.9"/>
<path d="M740.0 395.2H741.5V396.8H743.5V398.4H744.5V400.0H746.5V401.6H747.5V403.2H748.5V404.8H749.5V406.4H750.5V408.0H751.5V409.6H752.5V412.8H753.5V414.4H754.5V416.0H755.5V417.6H756.5V419.2H757.5V422.4H758.5V424.0H759.5V425.6H760.5V427.2H761.5V428.8H762.5V430.4H763.5V432.0H764.5V435.2H765.5V436.8H766.5V438.4H767.5V441.6H768.5V443.2H769.5V446.4H770.5V448.0H771.5V451.2H772.5V454.4H773.5V457.6H774.5V459.2H775.5V462.4H776.5V465.6H777.5V467.2H778.5V470.4H779.5V473.6H780.5V476.8H781.5V480.0H782.5V483.2H783.5V488.0H784.5V489.6H785.5V492.8H786.5V496.0H787.5V499.2H788.5V502.4H789.5V505.6H790.5V507.2H791.5V510.4H792.0" fill="none" stroke="#008000" stroke-width="1.9" stroke-opacity="0.9"/>
<path d="M740.0 393.6H740.5V395.2H742.5V396.8H744.5V398.4H745.5V400.0H747.5V401.6H748.5V403.2H749.5V404.8H750.5V406.4H751.5V408.0H752.5V411.2H753.5V412.8H754.5V414.4H755.5V416.0H756.5V417.6H757.5V419.2H758.5V420.8H759.5V422.4H760.5V425.6H761.5V427.2H762.5V428.8H763.5V430.4H764.5V432.0H765.5V433.6H766.5V436.8H767.5V438.4H768.5V440.0H769.5V443.2H770.5V446.4H771.5V448.0H772.5V451.2H773.5V454.4H774.5V456.0H775.5V459.2H776.5V462.4H777.5V465.6H778.5V467.2H779.5V470.4H780.5V473.6H781.5V476.8H782.5V480.0H783.5V483.2H784.5V486.4H785.5V489.6H786.5V492.8H787.5V496.0H788.5V497.6H789.5V500.8H790.5V504.0H791.5V505.6H792.0" fill="none" stroke="#ff0000" stroke-width="1.9" stroke-opacity="0.9"/>
<path d="M740.0 392.0H740.5V393.6H742.5V395.2H743.5V396.8H745.5V398.4H746.5V400.0H748.5V401.6H749.5V403.2H750.5V404.8H751.5V408.0H752.5V409.6H753.5V411.2H754.5V412.8H755.5V414.4H756.5V416.0H757.5V417.6H758.5V419.2H759.5V420.8H760.5V422.4H761.5V424.0H762.5V425.6H763.5V428.8H764.5V430.4H765.5V432.0H766.5V433.6H767.5V436.8H768.5V438.4H769.5V440.0H770.5V443.2H771.5V446.4H772.5V448.0H773.5V451.2H774.5V454.4H775.5V456.0H776.5V459.2H777.5V462.4H778.5V464.0H779.5V467.2H780.5V470.4H781.5V473.6H782.5V476.8H783.5V480.0H784.5V483.2H785.5V486.4H786.5V489.6H787.5V491.2H788.5V494.4H789.5V497.6H790.5V499.2H791.5V502.4H792.0" fill="none" stroke="#00bfbf" stroke-width="1.9" stroke-opacity="0.9"/>
<path d="M740.0 392.0H741.5V393.6H743.5V395.2H744.5V396.8H746.5V398.4H747.5V400.0H749.5V401.6H750.5V403.2H751.5V406.4H752.5V408.0H753.5V409.6H754.5V411.2H755.5V412.8H756.5V414.4H757.5V416.0H758.5V417.6H759.5V419.2H760.5V420.8H761.5V422.4H762.5V424.0H763.5V425.6H764.5V428.8H765.5V430.4H766.5V432.0H767.5V433.6H768.5V436.8H769.5V438.4H770.5V440.0H771.5V443.2H772.5V446.4H773.5V448.0H774.5V451.2H775.5V454.4H776.5V456.0H777.5V459.2H778.5V462.4H779.5V464.0H780.5V467.2H781.5V470.4H782.5V473.6H783.5V476.8H784.5V480.0H785.5V483.2H786.5V486.4H787.5V488.0H788.5V491.2H789.5V494.4H790.5V496.0H791.5V499.2H792.0" fill="none" stroke="#bf00bf" stroke-width="1.9" stroke-opacity="0.9"/>
<path d="M740.0 392.0H742.5V393.6H744.5V395.2H745.5V396.8H747.5V398.4H748.5V400.0H749.5V401.6H750.5V403.2H751.5V404.8H752.5V406.4H753.5V408.0H754.5V409.6H755.5V411.2H756.5V412.8H757.5V414.4H758.5V416.0H759.5V417.6H760.5V419.2H761.5V420.8H762.5V422.4H763.5V424.0H764.5V425.6H765.5V428.8H766.5V430.4H767.5V432.0H768.5V433.6H769.5V436.8H770.5V438.4H771.5V441.6H772.5V443.2H773.5V446.4H774.5V449.6H775.5V451.2H776.5V454.4H777.5V456.0H778.5V459.2H779.5V462.4H780.5V465.6H781.5V468.8H782.5V472.0H783.5V473.6H784.5V476.8H785.5V480.0H786.5V483.2H787.5V484.8H788.5V488.0H789.5V491.2H790.5V492.8H791.5V496.0H792.0" fill="none" stroke="#bfbf00" stroke-width="1.9" stroke-opacity="0.9"/>
<path d="M740.0 390.4H740.5V392.0H743.5V393.6H744.5V395.2H746.5V396.8H748.5V398.4H749.5V400.0H750.5V401.6H751.5V403.2H752.5V404.8H753.5V406.4H754.5V408.0H755.5V409.6H756.5V411.2H757.5V412.8H758.5V414.4H759.5V416.0H760.5V417.6H761.5V419.2H762.5V420.8H763.5V422.4H764.5V424.0H765.5V425.6H766.5V428.8H767.5V430.4H768.5V432.0H769.5V433.6H770.5V436.8H771.5V438.4H772.5V441.6H773.5V444.8H774.5V446.4H775.5V449.6H776.5V451.2H777.5V454.4H778.5V456.0H779.5V459.2H780.5V462.4H781.5V465.6H782.5V468.8H783.5V472.0H784.5V473.6H785.5V476.8H786.5V480.0H787.5V483.2H788.5V484.8H789.5V488.0H790.5V489.6H791.5V492.8H792.0" fill="none" stroke="#404040" stroke-width="1.9" stroke-opacity="0.9"/>
<path d="M740.0 390.4H741.5V392.0H743.5V393.6H745.5V395.2H747.5V396.8H749.5V398.4H750.5V400.0H751.5V401.6H752.5V404.8H753.5V406.4H754.5V408.0H755.5V409.6H756.5V411.2H758.5V412.8H759.5V414.4H760.5V416.0H761.5V417.6H762.5V419.2H763.5V420.8H764.5V422.4H765.5V424.0H766.5V425.6H767.5V428.8H768.5V430.4H769.5V432.0H770.5V435.2H771.5V436.8H772.5V440.0H773.5V441.6H774.5V444.8H775.5V446.4H776.5V449.6H777.5V451.2H778.5V454.4H779.5V457.6H780.5V460.8H781.5V462.4H782.5V465.6H783.5V468.8H784.5V472.0H785.5V475.2H786.5V476.8H787.5V480.0H788.5V481.6H789.5V484.8H790.5V486.4H791.5V489.6H792.0" fill="none" stroke="#0000ff" stroke-width="1.9" stroke-opacity="0.9"/>
<path d="M740.0 388.8H740.5V390.4H742.5V392.0H744.5V393.6H746.5V395.2H748.5V396.8H749.5V398.4H750.5V400.0H751.5V401.6H752.5V403.2H753.5V404.8H754.5V406.4H755.5V408.0H756.5V409.6H757.5V411.2H758.5V412.8H760.5V414.4H761.5V416.0H762.5V417.6H763.5V419.2H764.5V420.8H765.5V422.4H766.5V424.0H767.5V427.2H768.5V428.8H769.5V430.4H770.5V432.0H771.5V435.2H772.5V438.4H773.5V440.0H774.5V443.2H775.5V444.8H776.5V448.0H777.5V449.6H778.5V452.8H779.5V454.4H780.5V457.6H781.5V460.8H782.5V464.0H783.5V467.2H784.5V468.8H785.5V472.0H786.5V475.2H787.5V476.8H788.5V480.0H789.5V481.6H790.5V484.8H791.5V486.4H792.0" fill="none" stroke="#008000" stroke-width="1.9" stroke-opacity="0.9"/>
<path d="M740.0 388.8H741.5V390.4H743.5V392.0H745.5V393.6H747.5V395.2H749.5V396.8H750.5V398.4H751.5V400.0H752.5V401.6H753.5V403.2H754.5V404.8H755.5V406.4H756.5V408.0H757.5V409.6H758.5V411.2H759.5V412.8H760.5V414.4H762.5V416.0H763.5V417.6H764.5V419.2H765.5V420.8H766.5V422.4H767.5V425.6H768.5V427.2H769.5V428.8H770.5V430.4H771.5V433.6H772.5V435.2H773.5V438.4H774.5V440.0H775.5V443.2H776.5V444.8H777.5V448.0H778.5V449.6H779.5V452.8H780.5V456.0H781.5V459.2H782.5V460.8H783.5V464.0H784.5V467.2H785.5V468.8H786.5V472.0H787.5V475.2H788.5V476.8H789.5V478.4H790.5V481.6H791.5V483.2H792.0" fill="none" stroke="#ff0000" stroke-width="1.9" stroke-opacity="0.9"/>
<path d="M740.0 388.8H741.5V390.4H744.5V392.0H746.5V393.6H748.5V395.2H749.5V396.8H750.5V398.4H751.5V400.0H752.5V401.6H753.5V403.2H754.5V404.8H755.5V406.4H757.5V408.0H758.5V409.6H759.5V411.2H760.5V412.8H761.5V414.4H762.5V416.0H763.5V417.6H764.5V419.2H765.5V420.8H766.5V422.4H767.5V424.0H768.5V425.6H769.5V427.2H770.5V428.8H771.5V432.0H772.5V433.6H773.5V436.8H774.5V438.4H775.5V441.6H776.5V443.2H777.5V446.4H778.5V448.0H779.5V451.2H780.5V452.8H781.5V456.0H782.5V459.2H783.5V462.4H784.5V464.0H785.5V467.2H786.5V468.8H787.5V472.0H788.5V473.6H789.5V476.8H790.5V478.4H791.5V481.6H792.0" fill="none" stroke="#00bfbf" stroke-width="1.9" stroke-opacity="0.9"/>
<path d="M740.0 388.8H742.5V390.4H745.5V392.0H747.5V393.6H748.5V395.2H750.5V396.8H751.5V398.4H752.5V400.0H753.5V401.6H754.5V403.2H755.5V404.8H756.5V406.4H757.5V408.0H759.5V409.6H760.5V411.2H761.5V412.8H762.5V414.4H763.5V416.0H764.5V417.6H765.5V419.2H766.5V420.8H767.5V422.4H768.5V424.0H769.5V425.6H770.5V427.2H771.5V430.4H772.5V432.0H773.5V435.2H774.5V436.8H775.5V440.0H776.5V441.6H777.5V443.2H778.5V446.4H779.5V449.6H780.5V451.2H781.5V454.4H782.5V457.6H783.5V459.2H784.5V462.4H785.5V465.6H786.5V467.2H787.5V470.4H788.5V472.0H789.5V473.6H790.5V476.8H791.5V478.4H792.0" fill="none" stroke="#bf00bf" stroke-width="1.9" stroke-opacity="0.9"/>
<path d="M740.0 387.2H740.5V388.8H743.5V390.4H745.5V392.0H747.5V393.6H749.5V395.2H750.5V396.8H751.5V398.4H752.5V400.0H753.5V401.6H754.5V403.2H756.5V404.8H757.5V406.4H758.5V408.0H759.5V409.6H761.5V411.2H762.5V412.8H763.5V414.4H764.5V416.0H765.5V417.6H766.5V419.2H767.5V420.8H768.5V422.4H769.5V424.0H770.5V427.2H771.5V428.8H772.5V430.4H773.5V433.6H774.5V435.2H775.5V438.4H776.5V440.0H777.5V441.6H778.5V444.8H779.5V446.4H780.5V449.6H781.5V452.8H782.5V454.4H783.5V457.6H784.5V460.8H785.5V462.4H786.5V465.6H787.5V467.2H788.5V470.4H789.5V472.0H790.5V473.6H791.5V476.8H792.0" fill="none" stroke="#bfbf00" stroke-width="1.9" stroke-opacity="0.9"/>
<path d="M740.0 387.2H741.5V388.8H744.5V390.4H746.5V392.0H748.5V393.6H750.5V395.2H751.5V396.8H752.5V398.4H753.5V400.0H754.5V401.6H755.5V403.2H756.5V404.8H758.5V406.4H759.5V408.0H760.5V409.6H761.5V411.2H763.5V412.8H764.5V414.4H765.5V416.0H766.5V417.6H767.5V419.2H768.5V420.8H769.5V422.4H770.5V425.6H771.5V427.2H772.5V428.8H773.5V432.0H774.5V433.6H775.5V436.8H776.5V438.4H777.5V440.0H778.5V443.2H779.5V444.8H780.5V448.0H781.5V451.2H782.5V452.8H783.5V456.0H784.5V457.6H785.5V460.8H786.5V462.4H787.5V465.6H788.5V467.2H789.5V470.4H790.5V472.0H791.5V473.6H792.0" fill="none" stroke="#404040" stroke-width="1.9" stroke-opacity="0.9"/>
<path d="M740.0 387.2H742.5V388.8H744.5V390.4H747.5V392.0H749.5V393.6H750.5V395.2H751.5V396.8H752.5V398.4H753.5V400.0H754.5V401.6H756.5V403.2H757.5V404.8H758.5V406.4H760.5V408.0H761.5V409.6H762.5V411.2H763.5V412.8H764.5V414.4H766.5V416.0H767.5V417.6H768.5V420.8H769.5V422.4H770.5V424.0H771.5V425.6H772.5V428.8H773.5V430.4H774.5V432.0H775.5V435.2H776.5V436.8H777.5V438.4H778.5V441.6H779.5V443.2H780.5V446.4H781.5V448.0H782.5V451.2H783.5V454.4H784.5V456.0H785.5V459.2H786.5V460.8H787.5V464.0H788.5V465.6H789.5V467.2H790.5V470.4H791.5V472.0H792.0" fill="none" stroke="#0000ff" stroke-width="1.9" stroke-opacity="0.9"/>
<path d="M740.0 387.2H743.5V388.8H745.5V390.4H747.5V392.0H749.5V393.6H750.5V395.2H751.5V396.8H753.5V398.4H754.5V400.0H755.5V401.6H756.5V403.2H758.5V404.8H759.5V406.4H760.5V408.0H762.5V409.6H763.5V411.2H764.5V412.8H765.5V414.4H766.5V416.0H767.5V417.6H768.5V419.2H769.5V420.8H770.5V422.4H771.5V424.0H772.5V427.2H773.5V428.8H774.5V430.4H775.5V433.6H776.5V435.2H777.5V436.8H778.5V440.0H779.5V441.6H780.5V444.8H781.5V446.4H782.5V449.6H783.5V452.8H784.5V454.4H785.5V457.6H786.5V459.2H787.5V460.8H788.5V464.0H789.5V465.6H790.5V467.2H791.5V468.8H792.0" fill="none" stroke="#008000" stroke-width="1.9" stroke-opacity="0.9"/>
<path d="M740.0 385.6H740.5V387.2H743.5V388.8H746.5V390.4H748.5V392.0H750.5V393.6H751.5V395.2H752.5V396.8H753.5V398.4H754.5V400.0H756.5V401.6H757.5V403.2H758.5V404.8H760.5V406.4H761.5V408.0H762.5V409.6H764.5V411.2H765.5V412.8H766.5V414.4H767.5V416.0H768.5V417.6H769.5V419.2H770.5V420.8H771.5V424.0H772.5V425.6H773.5V427.2H774.5V430.4H775.5V432.0H776.5V433.6H777.5V435.2H778.5V438.4H779.5V440.0H780.5V443.2H781.5V444.8H782.5V448.0H783.5V451.2H784.5V452.8H785.5V454.4H786.5V457.6H787.5V459.2H788.5V460.8H789.5V464.0H790.5V465.6H791.5V467.2H792.0" fill="none" stroke="#ff0000" stroke-width="1.9" stroke-opacity="0.9"/>
<path d="M740.0 385.6H740.5V387.2H744.5V388.8H746.5V390.4H749.5V392.0H750.5V393.6H751.5V395.2H752.5V396.8H753.5V398.4H755.5V400.0H756.5V401.6H758.5V403.2H759.5V404.8H760.5V406.4H762.5V408.0H763.5V409.6H764.5V411.2H765.5V412.8H767.5V414.4H768.5V416.0H769.5V417.6H770.5V420.8H771.5V422.4H772.5V424.0H773.5V425.6H774.5V428.8H775.5V430.4H776.5V432.0H777.5V435.2H778.5V436.8H779.5V438.4H780.5V441.6H781.5V443.2H782.5V446.4H783.5V448.0H784.5V451.2H785.5V452.8H786.5V456.0H787.5V457.6H788.5V459.2H789.5V462.4H790.5V464.0H791.5V465.6H792.0" fill="none" stroke="#00bfbf" stroke-width="1.9" stroke-opacity="0.9"/>
<path d="M740.0 385.6H741.5V387.2H744.5V388.8H747.5V390.4H749.5V392.0H750.5V393.6H752.5V395.2H753.5V396.8H754.5V398.4H755.5V400.0H757.5V401.6H758.5V403.2H760.5V404.8H761.5V406.4H762.5V408.0H764.5V409.6H765.5V411.2H766.5V412.8H767.5V414.4H768.5V416.0H769.5V417.6H770.5V419.2H771.5V420.8H772.5V424.0H773.5V425.6H774.5V427.2H775.5V428.8H776.5V430.4H777.5V433.6H778.5V435.2H779.5V436.8H780.5V440.0H781.5V441.6H782.5V444.8H783.5V446.4H784.5V449.6H785.5V451.2H786.5V454.4H787.5V456.0H788.5V457.6H789.5V459.2H790.5V462.4H791.5V464.0H792.0" fill="none" stroke="#bf00bf" stroke-width="1.9" stroke-opacity="0.9"/>
<path d="M740.0 385.6H742.5V387.2H745.5V388.8H748.5V390.4H749.5V392.0H751.5V393.6H752.5V395.2H753.5V396.8H754.5V398.4H756.5V400.0H757.5V401.6H759.5V403.2H760.5V404.8H762.5V406.4H763.5V408.0H764.5V409.6H766.5V411.2H767.5V412.8H768.5V414.4H769.5V416.0H770.5V417.6H771.5V420.8H772.5V422.4H773.5V424.0H774.5V425.6H775.5V427.2H776.5V430.4H777.5V432.0H778.5V433.6H779.5V436.8H780.5V438.4H781.5V441.6H782.5V443.2H783.5V446.4H784.5V448.0H785.5V449.6H786.5V452.8H787.5V454.4H788.5V456.0H789.5V457.6H790.5V459.2H791.5V462.4H792.0" fill="none" stroke="#bfbf00" stroke-width="1.9" stroke-opacity="0.9"/>
<path d="M740.0 385.6H743.5V387.2H746.5V388.8H748.5V390.4H750.5V392.0H751.5V393.6H752.5V395.2H754.5V396.8H755.5V398.4H756.5V400.0H758.5V401.6H760.5V403.2H761.5V404.8H762.5V406.4H764.5V408.0H765.5V409.6H766.5V411.2H767.5V412.8H768.5V414.4H769.5V416.0H770.5V417.6H771.5V419.2H772.5V420.8H773.5V422.4H774.5V425.6H775.5V427.2H776.5V428.8H777.5V430.4H778.5V432.0H779.5V435.2H780.5V436.8H781.5V440.0H782.5V441.6H783.5V444.8H784.5V446.4H785.5V448.0H786.5V451.2H787.5V452.8H788.5V454.4H789.5V456.0H790.5V457.6H791.5V460.8H792.0" fill="none" stroke="#00307a" stroke-width="2.2" stroke-opacity="1.0"/>
<path d="M740.0 385.6H743.5V387.2H746.5V388.8H749.5V390.4H750.5V392.0H751.5V393.6H753.5V395.2H754.5V396.8H755.5V398.4H757.5V400.0H759.5V401.6H760.5V403.2H762.5V404.8H763.5V406.4H764.5V408.0H766.5V409.6H767.5V411.2H768.5V412.8H769.5V414.4H770.5V416.0H771.5V417.6H772.5V419.2H773.5V422.4H774.5V424.0H775.5V425.6H776.5V427.2H777.5V428.8H778.5V432.0H779.5V433.6H780.5V435.2H781.5V438.4H782.5V440.0H783.5V443.2H784.5V444.8H785.5V446.4H786.5V449.6H787.5V451.2H788.5V452.8H789.5V454.4H790.5V456.0H791.5V457.6H792.0" fill="none" stroke="#b0400f" stroke-width="2.2" stroke-opacity="1.0"/>
<path d="M740.0 385.6H744.5V387.2H747.5V388.8H749.5V390.4H751.5V392.0H752.5V393.6H753.5V395.2H754.5V396.8H756.5V398.4H758.5V400.0H759.5V401.6H761.5V403.2H762.5V404.8H764.5V406.4H765.5V408.0H766.5V409.6H767.5V411.2H769.5V412.8H770.5V416.0H771.5V417.6H772.5V419.2H773.5V420.8H774.5V422.4H775.5V424.0H776.5V425.6H777.5V428.8H778.5V430.4H779.5V432.0H780.5V435.2H781.5V436.8H782.5V438.4H783.5V441.6H784.5V443.2H785.5V444.8H786.5V448.0H787.5V449.6H788.5V451.2H789.5V452.8H790.5V454.4H791.5V456.0H792.0" fill="none" stroke="#c89010" stroke-width="2.2" stroke-opacity="1.0"/>
<path d="M740.0 384.0H740.5V385.6H744.5V387.2H747.5V388.8H749.5V390.4H751.5V392.0H752.5V393.6H753.5V395.2H755.5V396.8H757.5V398.4H758.5V400.0H760.5V401.6H761.5V403.2H763.5V404.8H764.5V406.4H766.5V408.0H767.5V409.6H768.5V411.2H769.5V412.8H770.5V414.4H771.5V416.0H772.5V417.6H773.5V419.2H774.5V422.4H775.5V424.0H776.5V425.6H777.5V427.2H778.5V428.8H779.5V430.4H780.5V433.6H781.5V435.2H782.5V438.4H783.5V440.0H784.5V441.6H785.5V444.8H786.5V446.4H787.5V448.0H788.5V449.6H789.5V451.2H790.5V452.8H791.5V454.4H792.0" fill="none" stroke="#5a1a6a" stroke-width="2.2" stroke-opacity="1.0"/>
<path d="M740.0 384.0H741.5V385.6H745.5V387.2H748.5V388.8H750.5V390.4H751.5V392.0H752.5V393.6H754.5V395.2H755.5V396.8H757.5V398.4H759.5V400.0H760.5V401.6H762.5V403.2H763.5V404.8H765.5V406.4H766.5V408.0H767.5V409.6H769.5V411.2H770.5V412.8H771.5V416.0H772.5V417.6H773.5V419.2H774.5V420.8H775.5V422.4H776.5V424.0H777.5V425.6H778.5V427.2H779.5V430.4H780.5V432.0H781.5V433.6H782.5V436.8H783.5V438.4H784.5V440.0H785.5V443.2H786.5V444.8H787.5V446.4H788.5V448.0H789.5V449.6H790.5V451.2H791.5V452.8H792.0" fill="none" stroke="#4a8020" stroke-width="2.2" stroke-opacity="1.0"/>
<path d="M740.0 384.0H742.5V385.6H746.5V387.2H748.5V388.8H750.5V390.4H751.5V392.0H753.5V393.6H754.5V395.2H756.5V396.8H758.5V398.4H759.5V400.0H761.5V401.6H763.5V403.2H764.5V404.8H765.5V406.4H767.5V408.0H768.5V409.6H769.5V411.2H770.5V412.8H771.5V414.4H772.5V416.0H773.5V417.6H774.5V419.2H775.5V420.8H776.5V422.4H777.5V425.6H778.5V427.2H779.5V428.8H780.5V430.4H781.5V433.6H782.5V435.2H783.5V436.8H784.5V440.0H785.5V441.6H786.5V443.2H787.5V444.8H788.5V446.4H789.5V448.0H790.5V449.6H791.5V451.2H792.0" fill="none" stroke="#2a90c0" stroke-width="2.2" stroke-opacity="1.0"/>
<path d="M740.0 384.0H742.5V385.6H746.5V387.2H749.5V388.8H750.5V390.4H752.5V392.0H753.5V393.6H755.5V395.2H756.5V396.8H758.5V398.4H760.5V400.0H762.5V401.6H763.5V403.2H765.5V404.8H766.5V406.4H767.5V408.0H768.5V409.6H770.5V411.2H771.5V412.8H772.5V416.0H773.5V417.6H774.5V419.2H775.5V420.8H776.5V422.4H777.5V424.0H778.5V425.6H779.5V427.2H780.5V430.4H781.5V432.0H782.5V433.6H783.5V436.8H784.5V438.4H785.5V440.0H786.5V441.6H787.5V443.2H788.5V444.8H789.5V448.0H790.5V449.6H791.5V451.2H792.0" fill="none" stroke="#80101f" stroke-width="2.2" stroke-opacity="1.0"/>
<path d="M740.0 384.0H743.5V385.6H747.5V387.2H749.5V388.8H751.5V390.4H752.5V392.0H754.5V393.6H755.5V395.2H757.5V396.8H759.5V398.4H761.5V400.0H762.5V401.6H764.5V403.2H765.5V404.8H767.5V406.4H768.5V408.0H769.5V409.6H770.5V411.2H771.5V412.8H772.5V414.4H773.5V416.0H774.5V417.6H775.5V419.2H776.5V420.8H777.5V422.4H778.5V424.0H779.5V427.2H780.5V428.8H781.5V430.4H782.5V433.6H783.5V435.2H784.5V436.8H785.5V438.4H786.5V440.0H787.5V443.2H788.5V444.8H789.5V446.4H790.5V448.0H791.5V449.6H792.0" fill="none" stroke="#00307a" stroke-width="2.2" stroke-opacity="1.0"/>
<path d="M740.0 384.0H743.5V385.6H747.5V387.2H750.5V388.8H751.5V390.4H752.5V392.0H754.5V393.6H756.5V395.2H757.5V396.8H759.5V398.4H761.5V400.0H763.5V401.6H764.5V403.2H766.5V404.8H767.5V406.4H768.5V408.0H770.5V409.6H771.5V411.2H772.5V414.4H773.5V416.0H774.5V417.6H775.5V419.2H776.5V420.8H777.5V422.4H778.5V424.0H779.5V425.6H780.5V427.2H781.5V430.4H782.5V432.0H783.5V433.6H784.5V435.2H785.5V438.4H786.5V440.0H787.5V441.6H788.5V443.2H789.5V444.8H790.5V446.4H791.5V448.0H792.0" fill="none" stroke="#b0400f" stroke-width="2.2" stroke-opacity="1.0"/>
<path d="M740.0 384.0H744.5V385.6H748.5V387.2H750.5V388.8H751.5V390.4H753.5V392.0H754.5V393.6H756.5V395.2H758.5V396.8H760.5V398.4H762.5V400.0H763.5V401.6H765.5V403.2H766.5V404.8H768.5V406.4H769.5V408.0H770.5V409.6H771.5V411.2H772.5V412.8H773.5V414.4H774.5V416.0H775.5V417.6H776.5V419.2H777.5V420.8H778.5V422.4H779.5V424.0H780.5V427.2H781.5V428.8H782.5V430.4H783.5V432.0H784.5V435.2H785.5V436.8H786.5V438.4H787.5V440.0H788.5V441.6H789.5V443.2H790.5V444.8H791.5V446.4H792.0" fill="none" stroke="#c89010" stroke-width="2.2" stroke-opacity="1.0"/>
<path d="M740.0 384.0H745.5V385.6H748.5V387.2H750.5V388.8H752.5V390.4H753.5V392.0H755.5V393.6H757.5V395.2H759.5V396.8H760.5V398.4H762.5V400.0H764.5V401.6H765.5V403.2H767.5V404.8H768.5V406.4H769.5V408.0H770.5V409.6H771.5V411.2H772.5V412.8H773.5V414.4H774.5V416.0H775.5V417.6H776.5V419.2H777.5V420.8H778.5V422.4H779.5V424.0H780.5V425.6H781.5V427.2H782.5V430.4H783.5V432.0H784.5V433.6H785.5V435.2H786.5V436.8H787.5V438.4H788.5V440.0H789.5V441.6H790.5V443.2H791.5V444.8H792.0" fill="none" stroke="#5a1a6a" stroke-width="2.2" stroke-opacity="1.0"/>
<path d="M740.0 384.0H745.5V385.6H749.5V387.2H750.5V388.8H752.5V390.4H753.5V392.0H755.5V393.6H757.5V395.2H759.5V396.8H761.5V398.4H763.5V400.0H764.5V401.6H766.5V403.2H767.5V404.8H769.5V406.4H770.5V408.0H771.5V409.6H772.5V411.2H773.5V412.8H774.5V414.4H775.5V416.0H776.5V417.6H777.5V419.2H778.5V420.8H779.5V422.4H780.5V424.0H781.5V427.2H782.5V428.8H783.5V430.4H784.5V432.0H785.5V433.6H786.5V435.2H787.5V436.8H788.5V438.4H789.5V440.0H790.5V441.6H791.5V443.2H792.0" fill="none" stroke="#4a8020" stroke-width="2.2" stroke-opacity="1.0"/>
<path d="M740.0 382.4H740.5V384.0H746.5V385.6H749.5V387.2H751.5V388.8H752.5V390.4H754.5V392.0H756.5V393.6H758.5V395.2H760.5V396.8H761.5V398.4H763.5V400.0H765.5V401.6H766.5V403.2H768.5V404.8H769.5V406.4H770.5V408.0H771.5V409.6H772.5V411.2H773.5V412.8H774.5V414.4H775.5V416.0H776.5V417.6H777.5V419.2H778.5V420.8H779.5V422.4H780.5V424.0H781.5V425.6H782.5V427.2H783.5V428.8H784.5V432.0H785.5V433.6H786.5V435.2H787.5V436.8H788.5V438.4H789.5V440.0H790.5V441.6H791.5V443.2H792.0" fill="none" stroke="#2a90c0" stroke-width="2.2" stroke-opacity="1.0"/>
<path d="M740.0 382.4H741.5V384.0H746.5V385.6H749.5V387.2H751.5V388.8H752.5V390.4H754.5V392.0H756.5V393.6H758.5V395.2H760.5V396.8H762.5V398.4H764.5V400.0H765.5V401.6H767.5V403.2H768.5V404.8H770.5V406.4H771.5V408.0H772.5V409.6H773.5V411.2H774.5V412.8H775.5V414.4H776.5V416.0H777.5V417.6H778.5V419.2H779.5V420.8H780.5V422.4H781.5V424.0H782.5V427.2H783.5V428.8H784.5V430.4H785.5V432.0H786.5V433.6H787.5V435.2H788.5V436.8H789.5V438.4H790.5V440.0H791.5V441.6H792.0" fill="none" stroke="#80101f" stroke-width="2.2" stroke-opacity="1.0"/>
<path d="M740.0 382.4H741.5V384.0H747.5V385.6H749.5V387.2H751.5V388.8H753.5V390.4H755.5V392.0H757.5V393.6H759.5V395.2H761.5V396.8H763.5V398.4H764.5V400.0H766.5V401.6H767.5V403.2H769.5V404.8H770.5V406.4H771.5V408.0H772.5V409.6H773.5V411.2H774.5V412.8H775.5V414.4H776.5V416.0H777.5V417.6H778.5V419.2H779.5V420.8H780.5V422.4H781.5V424.0H782.5V425.6H783.5V427.2H784.5V428.8H785.5V430.4H786.5V432.0H787.5V433.6H788.5V435.2H789.5V436.8H790.5V438.4H791.5V440.0H792.0" fill="none" stroke="#00307a" stroke-width="2.2" stroke-opacity="1.0"/>
<path d="M740.0 382.4H742.5V384.0H747.5V385.6H750.5V387.2H751.5V388.8H753.5V390.4H755.5V392.0H757.5V393.6H759.5V395.2H761.5V396.8H763.5V398.4H765.5V400.0H766.5V401.6H768.5V403.2H769.5V404.8H770.5V406.4H772.5V408.0H773.5V409.6H774.5V411.2H775.5V412.8H776.5V414.4H777.5V416.0H778.5V417.6H779.5V419.2H780.5V420.8H781.5V422.4H782.5V424.0H783.5V427.2H784.5V428.8H785.5V430.4H786.5V432.0H787.5V433.6H788.5V435.2H789.5V436.8H791.5V438.4H792.0" fill="none" stroke="#b0400f" stroke-width="2.2" stroke-opacity="1.0"/>
<path d="M740.0 382.4H743.5V384.0H747.5V385.6H750.5V387.2H752.5V388.8H753.5V390.4H755.5V392.0H757.5V393.6H760.5V395.2H762.5V396.8H764.5V398.4H765.5V400.0H767.5V401.6H768.5V403.2H770.5V404.8H771.5V406.4H772.5V408.0H773.5V409.6H774.5V411.2H775.5V412.8H776.5V414.4H777.5V416.0H778.5V417.6H779.5V419.2H780.5V420.8H781.5V422.4H782.5V424.0H783.5V425.6H784.5V427.2H785.5V428.8H786.5V430.4H787.5V432.0H788.5V433.6H789.5V435.2H790.5V436.8H791.5V438.4H792.0" fill="none" stroke="#dc143c" stroke-width="2.2" stroke-opacity="1.0"/>
<path d="M740.0 382.4H743.5V384.0H748.5V385.6H750.5V387.2H752.5V388.8H754.5V390.4H756.5V392.0H758.5V393.6H760.5V395.2H762.5V396.8H764.5V398.4H766.5V400.0H767.5V401.6H769.5V403.2H770.5V404.8H771.5V406.4H772.5V408.0H773.5V409.6H775.5V411.2H776.5V412.8H777.5V414.4H778.5V416.0H779.5V417.6H780.5V419.2H781.5V420.8H782.5V422.4H783.5V424.0H784.5V425.6H785.5V427.2H786.5V428.8H787.5V430.4H788.5V432.0H789.5V433.6H790.5V435.2H791.5V436.8H792.0" fill="none" stroke="#006400" stroke-width="2.2" stroke-opacity="1.0"/>
<path d="M740.0 382.4H744.5V384.0H748.5V385.6H750.5V387.2H752.5V388.8H754.5V390.4H756.5V392.0H758.5V393.6H761.5V395.2H763.5V396.8H765.5V398.4H766.5V400.0H768.5V401.6H769.5V403.2H771.5V404.8H772.5V406.4H773.5V408.0H774.5V409.6H775.5V411.2H776.5V412.8H777.5V414.4H778.5V416.0H779.5V417.6H780.5V419.2H781.5V420.8H782.5V422.4H783.5V424.0H784.5V425.6H785.5V427.2H786.5V428.8H787.5V430.4H788.5V432.0H789.5V433.6H791.5V435.2H792.0" fill="none" stroke="#007070" stroke-width="2.2" stroke-opacity="1.0"/>
<path d="M740.0 382.4H744.5V384.0H749.5V385.6H751.5V387.2H752.5V388.8H754.5V390.4H757.5V392.0H759.5V393.6H761.5V395.2H763.5V396.8H765.5V398.4H767.5V400.0H768.5V401.6H770.5V403.2H771.5V404.8H772.5V406.4H773.5V408.0H774.5V409.6H776.5V411.2H777.5V412.8H778.5V414.4H779.5V416.0H780.5V417.6H781.5V419.2H782.5V420.8H783.5V422.4H784.5V424.0H785.5V425.6H786.5V427.2H787.5V428.8H788.5V430.4H789.5V432.0H790.5V433.6H791.5V435.2H792.0" fill="none" stroke="#00a000" stroke-width="2.2" stroke-opacity="1.0"/>
<path d="M740.0 382.4H745.5V384.0H749.5V385.6H751.5V387.2H753.5V388.8H755.5V390.4H757.5V392.0H759.5V393.6H762.5V395.2H764.5V396.8H766.5V398.4H767.5V400.0H769.5V401.6H770.5V403.2H771.5V404.8H772.5V406.4H774.5V408.0H775.5V409.6H776.5V411.2H777.5V412.8H778.5V414.4H779.5V416.0H780.5V417.6H781.5V419.2H782.5V420.8H783.5V422.4H784.5V424.0H785.5V425.6H786.5V427.2H787.5V428.8H789.5V430.4H790.5V432.0H791.5V433.6H792.0" fill="none" stroke="#5b5b00" stroke-width="2.2" stroke-opacity="1.0"/>
<path d="M740.0 382.4H745.5V384.0H749.5V385.6H751.5V387.2H753.5V388.8H755.5V390.4H757.5V392.0H760.5V393.6H762.5V395.2H764.5V396.8H766.5V398.4H768.5V400.0H769.5V401.6H771.5V403.2H772.5V404.8H773.5V406.4H774.5V408.0H775.5V409.6H777.5V411.2H778.5V412.8H779.5V414.4H780.5V416.0H781.5V417.6H782.5V419.2H783.5V420.8H784.5V422.4H785.5V424.0H786.5V425.6H787.5V427.2H788.5V428.8H789.5V430.4H791.5V432.0H792.0" fill="none" stroke="#0064ff" stroke-width="2.2" stroke-opacity="1.0"/>
<path d="M740.0 382.4H746.5V384.0H749.5V385.6H751.5V387.2H753.5V388.8H756.5V390.4H758.5V392.0H760.5V393.6H763.5V395.2H765.5V396.8H766.5V398.4H768.5V400.0H770.5V401.6H771.5V403.2H772.5V404.8H773.5V406.4H775.5V408.0H776.5V409.6H777.5V411.2H778.5V412.8H779.5V414.4H780.5V416.0H781.5V417.6H782.5V419.2H783.5V420.8H784.5V422.4H785.5V424.0H786.5V425.6H788.5V427.2H789.5V428.8H790.5V430.4H791.5V432.0H792.0" fill="none" stroke="#e06000" stroke-width="2.2" stroke-opacity="1.0"/>
<path d="M740.0 382.4H746.5V384.0H750.5V385.6H752.5V387.2H754.5V388.8H756.5V390.4H758.5V392.0H761.5V393.6H763.5V395.2H765.5V396.8H767.5V398.4H769.5V400.0H770.5V401.6H771.5V403.2H772.5V404.8H774.5V406.4H775.5V408.0H776.5V409.6H777.5V411.2H779.5V412.8H780.5V414.4H781.5V416.0H782.5V417.6H783.5V419.2H784.5V420.8H785.5V422.4H786.5V424.0H787.5V425.6H788.5V427.2H790.5V428.8H791.5V430.4H792.0" fill="none" stroke="#00906b" stroke-width="2.2" stroke-opacity="1.0"/>
<path d="M740.0 382.4H747.5V384.0H750.5V385.6H752.5V387.2H754.5V388.8H756.5V390.4H759.5V392.0H761.5V393.6H764.5V395.2H766.5V396.8H767.5V398.4H769.5V400.0H770.5V401.6H772.5V403.2H773.5V404.8H774.5V406.4H775.5V408.0H777.5V409.6H778.5V411.2H779.5V412.8H780.5V414.4H781.5V416.0H782.5V417.6H783.5V419.2H784.5V420.8H785.5V422.4H787.5V424.0H788.5V425.6H789.5V427.2H790.5V428.8H792.0" fill="none" stroke="#d01010" stroke-width="2.2" stroke-opacity="1.0"/>
<path d="M740.0 382.4H747.5V384.0H750.5V385.6H752.5V387.2H754.5V388.8H757.5V390.4H759.5V392.0H762.5V393.6H764.5V395.2H766.5V396.8H768.5V398.4H769.5V400.0H771.5V401.6H772.5V403.2H773.5V404.8H775.5V406.4H776.5V408.0H777.5V409.6H778.5V411.2H780.5V412.8H781.5V414.4H782.5V416.0H783.5V417.6H784.5V419.2H785.5V420.8H786.5V422.4H787.5V424.0H788.5V425.6H790.5V427.2H791.5V428.8H792.0" fill="none" stroke="#1e3cff" stroke-width="2.2" stroke-opacity="1.0"/>
<path d="M740.0 382.4H747.5V384.0H750.5V385.6H752.5V387.2H755.5V388.8H757.5V390.4H760.5V392.0H762.5V393.6H764.5V395.2H766.5V396.8H768.5V398.4H770.5V400.0H771.5V401.6H772.5V403.2H774.5V404.8H775.5V406.4H776.5V408.0H778.5V409.6H779.5V411.2H780.5V412.8H781.5V414.4H782.5V416.0H783.5V417.6H784.5V419.2H785.5V420.8H787.5V422.4H788.5V424.0H789.5V425.6H791.5V427.2H792.0" fill="none" stroke="#e010e0" stroke-width="1.6" stroke-opacity="1.0"/>
</g>
<g filter="url(#bl)" stroke-width="2.8" stroke-opacity="0.8">
<line x1="113" y1="426" x2="113" y2="428.98" stroke="#0000ff"/>
<line x1="113" y1="430.54" x2="113" y2="433.78" stroke="#008000"/>
<line x1="113" y1="435.42" x2="113" y2="439.17" stroke="#ff0000"/>
<line x1="113" y1="440.07" x2="113" y2="442.59" stroke="#00bfbf"/>
<line x1="113" y1="444.57" x2="113" y2="447.58" stroke="#bf00bf"/>
<line x1="113" y1="448.71" x2="113" y2="453.2" stroke="#bfbf00"/>
<line x1="113" y1="454.66" x2="113" y2="458.83" stroke="#404040"/>
<line x1="113" y1="460.3" x2="113" y2="464.08" stroke="#0000ff"/>
<line x1="113" y1="465.09" x2="113" y2="468.86" stroke="#008000"/>
<line x1="113" y1="470.88" x2="113" y2="474.42" stroke="#ff0000"/>
<line x1="113" y1="476.26" x2="113" y2="480.1" stroke="#00bfbf"/>
<line x1="113" y1="480.99" x2="113" y2="485.01" stroke="#bf00bf"/>
<line x1="113" y1="486.64" x2="113" y2="489.74" stroke="#bfbf00"/>
<line x1="113" y1="490.58" x2="113" y2="494.81" stroke="#404040"/>
<line x1="113" y1="496.27" x2="113" y2="500.21" stroke="#0000ff"/>
<line x1="113" y1="502.24" x2="113" y2="506.17" stroke="#008000"/>
<line x1="113" y1="508.26" x2="113" y2="511.55" stroke="#ff0000"/>
<line x1="113" y1="513.47" x2="113" y2="516.86" stroke="#00bfbf"/>
<line x1="113" y1="518.97" x2="113" y2="523.23" stroke="#bf00bf"/>
<line x1="113" y1="524.17" x2="113" y2="526.94" stroke="#bfbf00"/>
<line x1="113" y1="528.04" x2="113" y2="532.47" stroke="#404040"/>
<line x1="113" y1="533.88" x2="113" y2="537.64" stroke="#0000ff"/>
<line x1="113" y1="538.86" x2="113" y2="542.37" stroke="#008000"/>
<line x1="113" y1="543.71" x2="113" y2="546.91" stroke="#ff0000"/>
<line x1="113" y1="548.53" x2="113" y2="552.2" stroke="#00bfbf"/>
<line x1="113" y1="554.27" x2="113" y2="558.13" stroke="#bf00bf"/>
<line x1="113" y1="560.23" x2="113" y2="564.44" stroke="#bfbf00"/>
<line x1="113" y1="566.63" x2="113" y2="570.47" stroke="#404040"/>
<line x1="113" y1="571.5" x2="113" y2="575.72" stroke="#0000ff"/>
<line x1="113" y1="577.87" x2="113" y2="582.18" stroke="#008000"/>
<line x1="113" y1="583.78" x2="113" y2="587.71" stroke="#ff0000"/>
<line x1="113" y1="588.8" x2="113" y2="592.97" stroke="#00bfbf"/>
<line x1="113" y1="594.57" x2="113" y2="597.64" stroke="#bf00bf"/>
<line x1="113" y1="598.53" x2="113" y2="602.74" stroke="#bfbf00"/>
<line x1="113" y1="604.92" x2="113" y2="607.6" stroke="#404040"/>
<line x1="113" y1="609.52" x2="113" y2="612.84" stroke="#0000ff"/>
<line x1="113" y1="613.85" x2="113" y2="616.94" stroke="#008000"/>
<line x1="113" y1="618.82" x2="113" y2="623.06" stroke="#ff0000"/>
<line x1="113" y1="623.92" x2="113" y2="627.65" stroke="#00bfbf"/>
<line x1="113" y1="628.52" x2="113" y2="632.45" stroke="#bf00bf"/>
<line x1="113" y1="633.72" x2="113" y2="637.98" stroke="#bfbf00"/>
<line x1="113" y1="640.15" x2="113" y2="643.66" stroke="#404040"/>
<line x1="113" y1="645.86" x2="113" y2="648.98" stroke="#0000ff"/>
<line x1="113" y1="649.89" x2="113" y2="653.59" stroke="#008000"/>
<line x1="113" y1="654.43" x2="113" y2="657.32" stroke="#ff0000"/>
<line x1="113" y1="658.7" x2="113" y2="662.42" stroke="#00bfbf"/>
<line x1="113" y1="663.44" x2="113" y2="666.02" stroke="#bf00bf"/>
<line x1="113" y1="668.04" x2="113" y2="671.16" stroke="#bfbf00"/>
<line x1="113" y1="673.3" x2="113" y2="677.6" stroke="#404040"/>
<line x1="113" y1="678.93" x2="113" y2="682.35" stroke="#0000ff"/>
<line x1="113" y1="683.88" x2="113" y2="687.66" stroke="#008000"/>
</g>
<path d="M113.5 688 L120 684.5" stroke="#3030ff" stroke-width="2.2" fill="none"/>
<line x1="739.6" y1="57.8" x2="739.6" y2="697" stroke="#000" stroke-width="6.5" stroke-dasharray="26.5 20.5"/>
<ellipse cx="772.3" cy="521.8" rx="100.3" ry="187" fill="#4472c4" fill-opacity="0.285"/>
<text x="105.92" y="727.8" font-family="'Liberation Sans', Arial, sans-serif" font-size="25" fill="#302a66" stroke="#302a66" stroke-width="0.6" textLength="14.18" lengthAdjust="spacingAndGlyphs">0</text>
<text x="220.41" y="727.8" font-family="'Liberation Sans', Arial, sans-serif" font-size="25" fill="#302a66" stroke="#302a66" stroke-width="0.6" textLength="35.45" lengthAdjust="spacingAndGlyphs">0.1</text>
<text x="345.41" y="727.8" font-family="'Liberation Sans', Arial, sans-serif" font-size="25" fill="#302a66" stroke="#302a66" stroke-width="0.6" textLength="35.45" lengthAdjust="spacingAndGlyphs">0.2</text>
<text x="470.34" y="727.8" font-family="'Liberation Sans', Arial, sans-serif" font-size="25" fill="#302a66" stroke="#302a66" stroke-width="0.6" textLength="35.45" lengthAdjust="spacingAndGlyphs">0.3</text>
<text x="595.15" y="727.8" font-family="'Liberation Sans', Arial, sans-serif" font-size="25" fill="#302a66" stroke="#302a66" stroke-width="0.6" textLength="35.45" lengthAdjust="spacingAndGlyphs">0.4</text>
<text x="720.28" y="727.8" font-family="'Liberation Sans', Arial, sans-serif" font-size="25" fill="#302a66" stroke="#302a66" stroke-width="0.6" textLength="35.45" lengthAdjust="spacingAndGlyphs">0.5</text>
<text x="845.34" y="727.8" font-family="'Liberation Sans', Arial, sans-serif" font-size="25" fill="#302a66" stroke="#302a66" stroke-width="0.6" textLength="35.45" lengthAdjust="spacingAndGlyphs">0.6</text>
<text x="970.41" y="727.8" font-family="'Liberation Sans', Arial, sans-serif" font-size="25" fill="#302a66" stroke="#302a66" stroke-width="0.6" textLength="35.45" lengthAdjust="spacingAndGlyphs">0.7</text>
<text x="75.31" y="59.75" font-family="'Liberation Sans', Arial, sans-serif" font-size="25" fill="#302a66" stroke="#302a66" stroke-width="0.6" textLength="28.36" lengthAdjust="spacingAndGlyphs">15</text>
<text x="75.31" y="167.58" font-family="'Liberation Sans', Arial, sans-serif" font-size="25" fill="#302a66" stroke="#302a66" stroke-width="0.6" textLength="28.36" lengthAdjust="spacingAndGlyphs">10</text>
<text x="89.47" y="275.41" font-family="'Liberation Sans', Arial, sans-serif" font-size="25" fill="#302a66" stroke="#302a66" stroke-width="0.6" textLength="14.18" lengthAdjust="spacingAndGlyphs">5</text>
<text x="89.47" y="383.25" font-family="'Liberation Sans', Arial, sans-serif" font-size="25" fill="#302a66" stroke="#302a66" stroke-width="0.6" textLength="14.18" lengthAdjust="spacingAndGlyphs">0</text>
<text x="80.92" y="491.09" font-family="'Liberation Sans', Arial, sans-serif" font-size="25" fill="#302a66" stroke="#302a66" stroke-width="0.6" textLength="22.68" lengthAdjust="spacingAndGlyphs">-5</text>
<text x="75.31" y="598.92" font-family="'Liberation Sans', Arial, sans-serif" font-size="25" fill="#302a66" stroke="#302a66" stroke-width="0.6" textLength="28.36" lengthAdjust="spacingAndGlyphs">10</text>
<text x="66.77" y="706.75" font-family="'Liberation Sans', Arial, sans-serif" font-size="25" fill="#302a66" stroke="#302a66" stroke-width="0.6" textLength="36.86" lengthAdjust="spacingAndGlyphs">-15</text>
<text x="7.2" y="37" font-family="'Liberation Sans', Arial, sans-serif" font-size="52" fill="#000" stroke="#000" stroke-width="0.6" textLength="63.22" lengthAdjust="spacingAndGlyphs">(a)</text>
<text transform="matrix(1.06 0 0 1 -13.49 0)" x="224.52" y="127.2" font-family="Carlito, 'Liberation Sans', sans-serif" font-size="52.5" fill="#000" textLength="313.16" lengthAdjust="spacing">Active section</text>
<text transform="matrix(1.06 0 0 1 -49.3 0)" x="817.79" y="127.1" font-family="Carlito, 'Liberation Sans', sans-serif" font-size="52.5" fill="#000" textLength="92.57" lengthAdjust="spacing">DBR</text>
<text transform="matrix(1.06 0 0 1 -47 0)" x="781.36" y="193.7" font-family="Carlito, 'Liberation Sans', sans-serif" font-size="52.5" fill="#000" textLength="162.05" lengthAdjust="spacing">section</text>
<text transform="matrix(1.06 0 0 1 -30.95 0)" x="513.54" y="306.9" font-family="Carlito, 'Liberation Sans', sans-serif" font-size="52.5" fill="#000" textLength="105.35" lengthAdjust="spacing">Gain</text>
<text transform="matrix(1.06 0 0 1 -50.52 0)" x="838.41" y="518.7" font-family="Carlito, 'Liberation Sans', sans-serif" font-size="52.5" fill="#000" textLength="95.42" lengthAdjust="spacing">Loss</text>
<text x="497.92" y="806.6" font-family="'Liberation Serif', 'Times New Roman', serif" font-size="64.5" fill="#000" textLength="173.27" lengthAdjust="spacingAndGlyphs">z (cm)</text>
<g transform="translate(52 0) scale(1.09 1) rotate(-90)">
<text x="-613.41" y="0" font-family="Carlito, 'Liberation Sans', sans-serif" font-size="58.26" fill="#000" textLength="404.67" lengthAdjust="spacing">Modal Gain [cm</text>
<text x="-206.86" y="-17.61" font-family="Carlito, 'Liberation Sans', sans-serif" font-size="40.37" fill="#000" textLength="12.77" lengthAdjust="spacing">-</text>
<text x="-193.97" y="-17.61" font-family="Carlito, 'Liberation Sans', sans-serif" font-size="40.37" fill="#000" textLength="20.69" lengthAdjust="spacing">1</text>
<text x="-172.57" y="0" font-family="Carlito, 'Liberation Sans', sans-serif" font-size="58.26" fill="#000" textLength="18.22" lengthAdjust="spacing">]</text>
</g>
<rect x="762.2" y="756" width="10" height="171.8" fill="#000"/>
<path d="M767 730.6 L781.8 757.5 L752.3 757.5 Z" fill="#000"/>
<path d="M407.66 1419.8v-8M407.66 931v8M472.72 1419.8v-8M472.72 931v8M537.78 1419.8v-8M537.78 931v8M602.84 1419.8v-8M602.84 931v8M667.9 1419.8v-8M667.9 931v8M732.96 1419.8v-8M732.96 931v8M798.02 1419.8v-8M798.02 931v8M863.08 1419.8v-8M863.08 931v8M928.14 1419.8v-8M928.14 931v8M993.2 1093.93h-8M993.2 1256.87h-8" stroke="#7a7a7a" stroke-width="2" fill="none"/>
<rect x="342.6" y="931" width="650.6" height="488.8" fill="none" stroke="#7a7a7a" stroke-width="2.6"/>
<g filter="url(#bl)">
<path d="M347.6 1113.2H348.1V1115.4H352.1V1117.6H356.1V1119.8H360.1V1122.0H364.1V1124.2H368.1V1126.4H372.1V1128.6H376.1V1130.8H380.1V1133.0H384.1V1135.2H387.1V1137.4H391.1V1139.6H395.1V1141.8H399.1V1144.0H403.1V1146.2H406.1V1148.4H410.1V1150.6H414.1V1152.8H418.1V1155.0H421.1V1157.2H425.1V1159.4H429.1V1161.6H432.1V1163.8H436.1V1166.0H440.1V1168.2H443.1V1170.4H447.1V1172.6H451.1V1174.8H454.1V1177.0H458.1V1179.2H461.1V1181.4H465.1V1183.6H469.1V1185.8H472.1V1188.0H476.1V1190.2H479.1V1192.4H483.1V1194.6H486.1V1196.8H489.1V1199.0H493.1V1201.2H496.1V1203.4H499.1V1205.6H503.1V1207.8H506.1V1210.0H509.1V1212.2H513.1V1214.4H516.1V1216.6H519.1V1218.8H523.1V1221.0H526.1V1223.2H529.1V1225.4H533.1V1227.6H536.1V1229.8H540.1V1232.0H543.1V1234.2H547.1V1236.4H550.1V1238.6H554.1V1240.8H557.1V1243.0H561.1V1245.2H565.1V1247.4H568.1V1249.6H572.1V1251.8H576.1V1254.0H579.1V1256.2H583.1V1258.4H587.1V1260.6H590.1V1262.8H594.1V1265.0H598.1V1267.2H602.1V1269.4H605.1V1271.6H609.1V1273.8H613.1V1276.0H616.1V1278.2H620.1V1280.4H624.1V1282.6H627.1V1284.8H631.1V1287.0H635.1V1289.2H638.1V1291.4H642.1V1293.6H646.1V1295.8H649.1V1298.0H653.1V1300.2H657.1V1302.4H661.1V1304.6H665.1V1306.8H669.1V1309.0H673.1V1311.2H677.1V1313.4H681.1V1315.6H685.1V1317.8H690.1V1320.0H694.1V1322.2H698.1V1324.4H703.1V1326.6H707.1V1328.8H712.1V1331.0H717.1V1333.2H721.1V1335.4H726.1V1337.6H731.1V1339.8H736.1V1342.0H741.1V1344.2H746.1V1346.4H751.1V1348.6H756.1V1350.8H761.1V1353.0H766.1V1355.2H772.1V1357.4H777.1V1359.6H782.1V1361.8H787.1V1364.0H793.1V1366.2H798.1V1368.4H803.1V1370.6H809.1V1372.8H815.1V1375.0H821.1V1377.2H827.1V1379.4H834.1V1381.6H841.1V1383.8H849.1V1386.0H857.1V1388.2H866.1V1390.4H876.1V1392.6H887.1V1394.8H899.1V1397.0H913.1V1399.2H931.1V1401.4H982.6" fill="none" stroke="#0000ff" stroke-width="1.85" stroke-opacity="0.8"/>
<path d="M347.6 1060.4H349.1V1062.6H353.1V1064.8H358.1V1067.0H362.1V1069.2H366.1V1071.4H371.1V1073.6H375.1V1075.8H379.1V1078.0H384.1V1080.2H388.1V1082.4H392.1V1084.6H396.1V1086.8H400.1V1089.0H404.1V1091.2H409.1V1093.4H413.1V1095.6H417.1V1097.8H421.1V1100.0H425.1V1102.2H429.1V1104.4H433.1V1106.6H437.1V1108.8H441.1V1111.0H445.1V1113.2H449.1V1115.4H453.1V1117.6H456.1V1119.8H460.1V1122.0H464.1V1124.2H467.1V1126.4H471.1V1128.6H474.1V1130.8H478.1V1133.0H482.1V1135.2H485.1V1137.4H489.1V1139.6H492.1V1141.8H496.1V1144.0H499.1V1146.2H502.1V1148.4H506.1V1150.6H509.1V1152.8H513.1V1155.0H516.1V1157.2H520.1V1159.4H523.1V1161.6H527.1V1163.8H531.1V1166.0H534.1V1168.2H538.1V1170.4H541.1V1172.6H545.1V1174.8H549.1V1177.0H553.1V1179.2H556.1V1181.4H560.1V1183.6H564.1V1185.8H568.1V1188.0H572.1V1190.2H575.1V1192.4H579.1V1194.6H583.1V1196.8H587.1V1199.0H591.1V1201.2H595.1V1203.4H599.1V1205.6H602.1V1207.8H606.1V1210.0H610.1V1212.2H614.1V1214.4H617.1V1216.6H621.1V1218.8H625.1V1221.0H629.1V1223.2H632.1V1225.4H636.1V1227.6H640.1V1229.8H644.1V1232.0H647.1V1234.2H651.1V1236.4H655.1V1238.6H659.1V1240.8H662.1V1243.0H666.1V1245.2H670.1V1247.4H674.1V1249.6H678.1V1251.8H682.1V1254.0H686.1V1256.2H690.1V1258.4H694.1V1260.6H698.1V1262.8H703.1V1265.0H707.1V1267.2H711.1V1269.4H716.1V1271.6H720.1V1273.8H725.1V1276.0H729.1V1278.2H734.1V1280.4H738.1V1282.6H743.1V1284.8H747.1V1287.0H752.1V1289.2H757.1V1291.4H761.1V1293.6H766.1V1295.8H770.1V1298.0H775.1V1300.2H779.1V1302.4H784.1V1304.6H789.1V1306.8H793.1V1309.0H798.1V1311.2H803.1V1313.4H808.1V1315.6H812.1V1317.8H818.1V1320.0H823.1V1322.2H828.1V1324.4H834.1V1326.6H840.1V1328.8H846.1V1331.0H853.1V1333.2H860.1V1335.4H867.1V1337.6H875.1V1339.8H884.1V1342.0H893.1V1344.2H902.1V1346.4H913.1V1348.6H926.1V1350.8H944.1V1353.0H982.6" fill="none" stroke="#008000" stroke-width="1.85" stroke-opacity="0.8"/>
<path d="M347.6 1031.8H349.1V1034.0H354.1V1036.2H359.1V1038.4H364.1V1040.6H369.1V1042.8H374.1V1045.0H378.1V1047.2H383.1V1049.4H388.1V1051.6H393.1V1053.8H397.1V1056.0H402.1V1058.2H407.1V1060.4H411.1V1062.6H416.1V1064.8H420.1V1067.0H425.1V1069.2H429.1V1071.4H433.1V1073.6H438.1V1075.8H442.1V1078.0H446.1V1080.2H451.1V1082.4H455.1V1084.6H459.1V1086.8H463.1V1089.0H466.1V1091.2H470.1V1093.4H474.1V1095.6H478.1V1097.8H482.1V1100.0H485.1V1102.2H489.1V1104.4H493.1V1106.6H496.1V1108.8H500.1V1111.0H504.1V1113.2H507.1V1115.4H511.1V1117.6H515.1V1119.8H519.1V1122.0H522.1V1124.2H526.1V1126.4H530.1V1128.6H534.1V1130.8H538.1V1133.0H542.1V1135.2H546.1V1137.4H550.1V1139.6H554.1V1141.8H558.1V1144.0H562.1V1146.2H566.1V1148.4H570.1V1150.6H574.1V1152.8H578.1V1155.0H582.1V1157.2H586.1V1159.4H590.1V1161.6H594.1V1163.8H599.1V1166.0H603.1V1168.2H607.1V1170.4H611.1V1172.6H615.1V1174.8H618.1V1177.0H622.1V1179.2H626.1V1181.4H630.1V1183.6H634.1V1185.8H638.1V1188.0H642.1V1190.2H646.1V1192.4H650.1V1194.6H654.1V1196.8H657.1V1199.0H661.1V1201.2H665.1V1203.4H669.1V1205.6H673.1V1207.8H677.1V1210.0H681.1V1212.2H685.1V1214.4H689.1V1216.6H693.1V1218.8H697.1V1221.0H701.1V1223.2H706.1V1225.4H710.1V1227.6H714.1V1229.8H719.1V1232.0H723.1V1234.2H727.1V1236.4H732.1V1238.6H736.1V1240.8H741.1V1243.0H745.1V1245.2H750.1V1247.4H754.1V1249.6H759.1V1251.8H763.1V1254.0H768.1V1256.2H772.1V1258.4H776.1V1260.6H781.1V1262.8H785.1V1265.0H789.1V1267.2H794.1V1269.4H798.1V1271.6H802.1V1273.8H807.1V1276.0H812.1V1278.2H816.1V1280.4H821.1V1282.6H826.1V1284.8H832.1V1287.0H837.1V1289.2H843.1V1291.4H849.1V1293.6H855.1V1295.8H861.1V1298.0H868.1V1300.2H875.1V1302.4H882.1V1304.6H890.1V1306.8H898.1V1309.0H907.1V1311.2H918.1V1313.4H930.1V1315.6H950.1V1317.8H982.6" fill="none" stroke="#ff0000" stroke-width="1.85" stroke-opacity="0.8"/>
<path d="M347.6 1014.2H350.1V1016.4H356.1V1018.6H361.1V1020.8H367.1V1023.0H372.1V1025.2H378.1V1027.4H383.1V1029.6H388.1V1031.8H394.1V1034.0H399.1V1036.2H404.1V1038.4H409.1V1040.6H414.1V1042.8H419.1V1045.0H424.1V1047.2H429.1V1049.4H434.1V1051.6H438.1V1053.8H443.1V1056.0H448.1V1058.2H452.1V1060.4H456.1V1062.6H461.1V1064.8H465.1V1067.0H469.1V1069.2H473.1V1071.4H477.1V1073.6H481.1V1075.8H485.1V1078.0H489.1V1080.2H493.1V1082.4H496.1V1084.6H500.1V1086.8H504.1V1089.0H508.1V1091.2H512.1V1093.4H516.1V1095.6H520.1V1097.8H525.1V1100.0H529.1V1102.2H533.1V1104.4H537.1V1106.6H541.1V1108.8H545.1V1111.0H550.1V1113.2H554.1V1115.4H558.1V1117.6H563.1V1119.8H567.1V1122.0H571.1V1124.2H576.1V1126.4H580.1V1128.6H585.1V1130.8H589.1V1133.0H593.1V1135.2H597.1V1137.4H602.1V1139.6H606.1V1141.8H610.1V1144.0H614.1V1146.2H619.1V1148.4H623.1V1150.6H627.1V1152.8H631.1V1155.0H635.1V1157.2H639.1V1159.4H643.1V1161.6H647.1V1163.8H651.1V1166.0H655.1V1168.2H659.1V1170.4H663.1V1172.6H667.1V1174.8H672.1V1177.0H676.1V1179.2H680.1V1181.4H684.1V1183.6H688.1V1185.8H692.1V1188.0H696.1V1190.2H700.1V1192.4H704.1V1194.6H709.1V1196.8H713.1V1199.0H717.1V1201.2H722.1V1203.4H726.1V1205.6H731.1V1207.8H735.1V1210.0H740.1V1212.2H744.1V1214.4H749.1V1216.6H753.1V1218.8H758.1V1221.0H762.1V1223.2H766.1V1225.4H771.1V1227.6H775.1V1229.8H779.1V1232.0H783.1V1234.2H787.1V1236.4H792.1V1238.6H796.1V1240.8H800.1V1243.0H805.1V1245.2H809.1V1247.4H814.1V1249.6H818.1V1251.8H823.1V1254.0H828.1V1256.2H833.1V1258.4H838.1V1260.6H844.1V1262.8H850.1V1265.0H855.1V1267.2H862.1V1269.4H868.1V1271.6H875.1V1273.8H882.1V1276.0H889.1V1278.2H896.1V1280.4H904.1V1282.6H913.1V1284.8H925.1V1287.0H939.1V1289.2H982.6" fill="none" stroke="#00bfbf" stroke-width="1.85" stroke-opacity="0.8"/>
<path d="M347.6 1001.0H348.1V1003.2H354.1V1005.4H360.1V1007.6H367.1V1009.8H373.1V1012.0H379.1V1014.2H385.1V1016.4H391.1V1018.6H396.1V1020.8H402.1V1023.0H407.1V1025.2H413.1V1027.4H418.1V1029.6H424.1V1031.8H429.1V1034.0H435.1V1036.2H440.1V1038.4H445.1V1040.6H450.1V1042.8H455.1V1045.0H459.1V1047.2H463.1V1049.4H468.1V1051.6H472.1V1053.8H476.1V1056.0H480.1V1058.2H485.1V1060.4H489.1V1062.6H493.1V1064.8H497.1V1067.0H501.1V1069.2H505.1V1071.4H510.1V1073.6H514.1V1075.8H518.1V1078.0H523.1V1080.2H527.1V1082.4H531.1V1084.6H536.1V1086.8H540.1V1089.0H545.1V1091.2H550.1V1093.4H554.1V1095.6H559.1V1097.8H563.1V1100.0H568.1V1102.2H573.1V1104.4H577.1V1106.6H582.1V1108.8H587.1V1111.0H591.1V1113.2H596.1V1115.4H600.1V1117.6H605.1V1119.8H609.1V1122.0H614.1V1124.2H618.1V1126.4H623.1V1128.6H627.1V1130.8H631.1V1133.0H636.1V1135.2H640.1V1137.4H644.1V1139.6H648.1V1141.8H653.1V1144.0H657.1V1146.2H661.1V1148.4H665.1V1150.6H669.1V1152.8H673.1V1155.0H678.1V1157.2H682.1V1159.4H686.1V1161.6H690.1V1163.8H694.1V1166.0H698.1V1168.2H703.1V1170.4H707.1V1172.6H711.1V1174.8H716.1V1177.0H720.1V1179.2H725.1V1181.4H729.1V1183.6H734.1V1185.8H738.1V1188.0H743.1V1190.2H747.1V1192.4H752.1V1194.6H756.1V1196.8H761.1V1199.0H765.1V1201.2H769.1V1203.4H774.1V1205.6H778.1V1207.8H782.1V1210.0H786.1V1212.2H790.1V1214.4H794.1V1216.6H799.1V1218.8H803.1V1221.0H808.1V1223.2H812.1V1225.4H817.1V1227.6H821.1V1229.8H826.1V1232.0H831.1V1234.2H836.1V1236.4H841.1V1238.6H847.1V1240.8H853.1V1243.0H858.1V1245.2H865.1V1247.4H871.1V1249.6H877.1V1251.8H884.1V1254.0H891.1V1256.2H898.1V1258.4H906.1V1260.6H915.1V1262.8H927.1V1265.0H941.1V1267.2H982.6" fill="none" stroke="#bf00bf" stroke-width="1.85" stroke-opacity="0.8"/>
<path d="M347.6 992.2H348.1V994.4H356.1V996.6H363.1V998.8H370.1V1001.0H376.1V1003.2H383.1V1005.4H389.1V1007.6H396.1V1009.8H402.1V1012.0H408.1V1014.2H414.1V1016.4H420.1V1018.6H426.1V1020.8H431.1V1023.0H437.1V1025.2H443.1V1027.4H448.1V1029.6H453.1V1031.8H458.1V1034.0H463.1V1036.2H467.1V1038.4H472.1V1040.6H476.1V1042.8H481.1V1045.0H485.1V1047.2H489.1V1049.4H494.1V1051.6H498.1V1053.8H503.1V1056.0H507.1V1058.2H512.1V1060.4H516.1V1062.6H521.1V1064.8H526.1V1067.0H530.1V1069.2H535.1V1071.4H540.1V1073.6H545.1V1075.8H550.1V1078.0H554.1V1080.2H559.1V1082.4H564.1V1084.6H569.1V1086.8H574.1V1089.0H579.1V1091.2H584.1V1093.4H589.1V1095.6H594.1V1097.8H599.1V1100.0H603.1V1102.2H608.1V1104.4H613.1V1106.6H617.1V1108.8H622.1V1111.0H627.1V1113.2H631.1V1115.4H636.1V1117.6H640.1V1119.8H645.1V1122.0H649.1V1124.2H653.1V1126.4H658.1V1128.6H662.1V1130.8H666.1V1133.0H671.1V1135.2H675.1V1137.4H679.1V1139.6H683.1V1141.8H688.1V1144.0H692.1V1146.2H696.1V1148.4H701.1V1150.6H705.1V1152.8H710.1V1155.0H714.1V1157.2H719.1V1159.4H723.1V1161.6H728.1V1163.8H732.1V1166.0H737.1V1168.2H741.1V1170.4H746.1V1172.6H751.1V1174.8H755.1V1177.0H760.1V1179.2H764.1V1181.4H768.1V1183.6H773.1V1185.8H777.1V1188.0H781.1V1190.2H785.1V1192.4H789.1V1194.6H793.1V1196.8H798.1V1199.0H802.1V1201.2H806.1V1203.4H811.1V1205.6H815.1V1207.8H820.1V1210.0H825.1V1212.2H830.1V1214.4H835.1V1216.6H840.1V1218.8H845.1V1221.0H851.1V1223.2H856.1V1225.4H863.1V1227.6H869.1V1229.8H875.1V1232.0H881.1V1234.2H888.1V1236.4H895.1V1238.6H903.1V1240.8H911.1V1243.0H921.1V1245.2H933.1V1247.4H952.1V1249.6H982.6" fill="none" stroke="#bfbf00" stroke-width="1.85" stroke-opacity="0.8"/>
<path d="M347.6 985.6H350.1V987.8H358.1V990.0H365.1V992.2H373.1V994.4H380.1V996.6H387.1V998.8H394.1V1001.0H401.1V1003.2H407.1V1005.4H414.1V1007.6H420.1V1009.8H427.1V1012.0H433.1V1014.2H439.1V1016.4H445.1V1018.6H451.1V1020.8H456.1V1023.0H461.1V1025.2H466.1V1027.4H471.1V1029.6H475.1V1031.8H480.1V1034.0H484.1V1036.2H489.1V1038.4H494.1V1040.6H498.1V1042.8H503.1V1045.0H508.1V1047.2H513.1V1049.4H518.1V1051.6H522.1V1053.8H527.1V1056.0H532.1V1058.2H538.1V1060.4H543.1V1062.6H548.1V1064.8H553.1V1067.0H558.1V1069.2H563.1V1071.4H569.1V1073.6H574.1V1075.8H579.1V1078.0H584.1V1080.2H589.1V1082.4H595.1V1084.6H600.1V1086.8H605.1V1089.0H610.1V1091.2H615.1V1093.4H619.1V1095.6H624.1V1097.8H629.1V1100.0H634.1V1102.2H638.1V1104.4H643.1V1106.6H648.1V1108.8H652.1V1111.0H657.1V1113.2H661.1V1115.4H666.1V1117.6H670.1V1119.8H675.1V1122.0H679.1V1124.2H683.1V1126.4H688.1V1128.6H692.1V1130.8H696.1V1133.0H701.1V1135.2H705.1V1137.4H710.1V1139.6H715.1V1141.8H719.1V1144.0H724.1V1146.2H729.1V1148.4H733.1V1150.6H738.1V1152.8H743.1V1155.0H747.1V1157.2H752.1V1159.4H756.1V1161.6H761.1V1163.8H765.1V1166.0H770.1V1168.2H774.1V1170.4H778.1V1172.6H782.1V1174.8H786.1V1177.0H791.1V1179.2H795.1V1181.4H799.1V1183.6H804.1V1185.8H808.1V1188.0H812.1V1190.2H817.1V1192.4H822.1V1194.6H827.1V1196.8H832.1V1199.0H837.1V1201.2H842.1V1203.4H847.1V1205.6H853.1V1207.8H859.1V1210.0H865.1V1212.2H871.1V1214.4H877.1V1216.6H884.1V1218.8H890.1V1221.0H897.1V1223.2H905.1V1225.4H913.1V1227.6H924.1V1229.8H937.1V1232.0H958.1V1234.2H982.6" fill="none" stroke="#404040" stroke-width="1.85" stroke-opacity="0.8"/>
<path d="M347.6 981.2H354.1V983.4H363.1V985.6H371.1V987.8H379.1V990.0H387.1V992.2H394.1V994.4H401.1V996.6H409.1V998.8H416.1V1001.0H423.1V1003.2H429.1V1005.4H436.1V1007.6H442.1V1009.8H448.1V1012.0H454.1V1014.2H460.1V1016.4H465.1V1018.6H470.1V1020.8H475.1V1023.0H479.1V1025.2H484.1V1027.4H489.1V1029.6H494.1V1031.8H499.1V1034.0H504.1V1036.2H509.1V1038.4H514.1V1040.6H519.1V1042.8H525.1V1045.0H530.1V1047.2H535.1V1049.4H541.1V1051.6H546.1V1053.8H552.1V1056.0H557.1V1058.2H563.1V1060.4H568.1V1062.6H574.1V1064.8H579.1V1067.0H585.1V1069.2H590.1V1071.4H595.1V1073.6H601.1V1075.8H606.1V1078.0H611.1V1080.2H616.1V1082.4H621.1V1084.6H626.1V1086.8H631.1V1089.0H636.1V1091.2H641.1V1093.4H646.1V1095.6H651.1V1097.8H655.1V1100.0H660.1V1102.2H665.1V1104.4H669.1V1106.6H674.1V1108.8H678.1V1111.0H683.1V1113.2H687.1V1115.4H692.1V1117.6H696.1V1119.8H701.1V1122.0H705.1V1124.2H710.1V1126.4H715.1V1128.6H719.1V1130.8H724.1V1133.0H729.1V1135.2H734.1V1137.4H739.1V1139.6H743.1V1141.8H748.1V1144.0H753.1V1146.2H757.1V1148.4H762.1V1150.6H766.1V1152.8H771.1V1155.0H775.1V1157.2H779.1V1159.4H783.1V1161.6H788.1V1163.8H792.1V1166.0H796.1V1168.2H800.1V1170.4H805.1V1172.6H809.1V1174.8H814.1V1177.0H819.1V1179.2H824.1V1181.4H828.1V1183.6H834.1V1185.8H839.1V1188.0H844.1V1190.2H850.1V1192.4H855.1V1194.6H861.1V1196.8H867.1V1199.0H873.1V1201.2H880.1V1203.4H886.1V1205.6H893.1V1207.8H900.1V1210.0H908.1V1212.2H917.1V1214.4H928.1V1216.6H943.1V1218.8H982.6" fill="none" stroke="#0000ff" stroke-width="1.85" stroke-opacity="0.8"/>
<path d="M347.6 976.8H355.1V979.0H364.1V981.2H373.1V983.4H382.1V985.6H390.1V987.8H398.1V990.0H406.1V992.2H413.1V994.4H421.1V996.6H428.1V998.8H435.1V1001.0H442.1V1003.2H449.1V1005.4H455.1V1007.6H460.1V1009.8H466.1V1012.0H471.1V1014.2H476.1V1016.4H481.1V1018.6H486.1V1020.8H491.1V1023.0H496.1V1025.2H501.1V1027.4H507.1V1029.6H512.1V1031.8H518.1V1034.0H523.1V1036.2H529.1V1038.4H534.1V1040.6H540.1V1042.8H546.1V1045.0H551.1V1047.2H557.1V1049.4H563.1V1051.6H569.1V1053.8H575.1V1056.0H580.1V1058.2H586.1V1060.4H592.1V1062.6H597.1V1064.8H603.1V1067.0H608.1V1069.2H614.1V1071.4H619.1V1073.6H624.1V1075.8H630.1V1078.0H635.1V1080.2H640.1V1082.4H645.1V1084.6H650.1V1086.8H655.1V1089.0H660.1V1091.2H664.1V1093.4H669.1V1095.6H674.1V1097.8H678.1V1100.0H683.1V1102.2H687.1V1104.4H692.1V1106.6H697.1V1108.8H701.1V1111.0H706.1V1113.2H711.1V1115.4H716.1V1117.6H721.1V1119.8H725.1V1122.0H730.1V1124.2H735.1V1126.4H740.1V1128.6H745.1V1130.8H750.1V1133.0H754.1V1135.2H759.1V1137.4H764.1V1139.6H768.1V1141.8H773.1V1144.0H777.1V1146.2H781.1V1148.4H785.1V1150.6H790.1V1152.8H794.1V1155.0H798.1V1157.2H803.1V1159.4H807.1V1161.6H812.1V1163.8H817.1V1166.0H821.1V1168.2H826.1V1170.4H831.1V1172.6H837.1V1174.8H842.1V1177.0H847.1V1179.2H853.1V1181.4H859.1V1183.6H865.1V1185.8H871.1V1188.0H877.1V1190.2H883.1V1192.4H890.1V1194.6H897.1V1196.8H905.1V1199.0H913.1V1201.2H923.1V1203.4H937.1V1205.6H956.1V1207.8H982.6" fill="none" stroke="#008000" stroke-width="1.85" stroke-opacity="0.8"/>
<path d="M347.6 972.4H352.1V974.6H362.1V976.8H372.1V979.0H381.1V981.2H390.1V983.4H399.1V985.6H407.1V987.8H415.1V990.0H423.1V992.2H431.1V994.4H439.1V996.6H445.1V998.8H452.1V1001.0H458.1V1003.2H464.1V1005.4H469.1V1007.6H475.1V1009.8H480.1V1012.0H485.1V1014.2H491.1V1016.4H496.1V1018.6H501.1V1020.8H507.1V1023.0H513.1V1025.2H518.1V1027.4H524.1V1029.6H530.1V1031.8H536.1V1034.0H542.1V1036.2H548.1V1038.4H554.1V1040.6H560.1V1042.8H566.1V1045.0H572.1V1047.2H578.1V1049.4H584.1V1051.6H590.1V1053.8H596.1V1056.0H602.1V1058.2H608.1V1060.4H613.1V1062.6H619.1V1064.8H624.1V1067.0H630.1V1069.2H635.1V1071.4H640.1V1073.6H646.1V1075.8H651.1V1078.0H656.1V1080.2H661.1V1082.4H666.1V1084.6H671.1V1086.8H675.1V1089.0H680.1V1091.2H685.1V1093.4H689.1V1095.6H694.1V1097.8H699.1V1100.0H704.1V1102.2H709.1V1104.4H714.1V1106.6H718.1V1108.8H723.1V1111.0H728.1V1113.2H733.1V1115.4H738.1V1117.6H743.1V1119.8H748.1V1122.0H753.1V1124.2H758.1V1126.4H762.1V1128.6H767.1V1130.8H772.1V1133.0H776.1V1135.2H780.1V1137.4H785.1V1139.6H789.1V1141.8H793.1V1144.0H798.1V1146.2H802.1V1148.4H807.1V1150.6H811.1V1152.8H816.1V1155.0H821.1V1157.2H826.1V1159.4H831.1V1161.6H836.1V1163.8H842.1V1166.0H847.1V1168.2H853.1V1170.4H858.1V1172.6H865.1V1174.8H871.1V1177.0H877.1V1179.2H884.1V1181.4H890.1V1183.6H897.1V1185.8H905.1V1188.0H913.1V1190.2H924.1V1192.4H937.1V1194.6H957.1V1196.8H982.6" fill="none" stroke="#ff0000" stroke-width="1.85" stroke-opacity="0.8"/>
<path d="M347.6 970.2H357.1V972.4H368.1V974.6H378.1V976.8H388.1V979.0H397.1V981.2H406.1V983.4H415.1V985.6H423.1V987.8H431.1V990.0H439.1V992.2H447.1V994.4H454.1V996.6H460.1V998.8H466.1V1001.0H471.1V1003.2H477.1V1005.4H482.1V1007.6H488.1V1009.8H493.1V1012.0H499.1V1014.2H505.1V1016.4H511.1V1018.6H517.1V1020.8H523.1V1023.0H529.1V1025.2H535.1V1027.4H541.1V1029.6H548.1V1031.8H554.1V1034.0H560.1V1036.2H567.1V1038.4H573.1V1040.6H579.1V1042.8H586.1V1045.0H592.1V1047.2H598.1V1049.4H604.1V1051.6H610.1V1053.8H616.1V1056.0H622.1V1058.2H627.1V1060.4H633.1V1062.6H638.1V1064.8H644.1V1067.0H649.1V1069.2H654.1V1071.4H660.1V1073.6H665.1V1075.8H670.1V1078.0H675.1V1080.2H679.1V1082.4H684.1V1084.6H689.1V1086.8H694.1V1089.0H699.1V1091.2H704.1V1093.4H709.1V1095.6H714.1V1097.8H719.1V1100.0H724.1V1102.2H729.1V1104.4H734.1V1106.6H739.1V1108.8H744.1V1111.0H749.1V1113.2H754.1V1115.4H759.1V1117.6H763.1V1119.8H768.1V1122.0H773.1V1124.2H777.1V1126.4H782.1V1128.6H786.1V1130.8H790.1V1133.0H795.1V1135.2H799.1V1137.4H804.1V1139.6H809.1V1141.8H813.1V1144.0H818.1V1146.2H823.1V1148.4H828.1V1150.6H833.1V1152.8H839.1V1155.0H844.1V1157.2H850.1V1159.4H855.1V1161.6H861.1V1163.8H868.1V1166.0H874.1V1168.2H880.1V1170.4H887.1V1172.6H894.1V1174.8H901.1V1177.0H909.1V1179.2H918.1V1181.4H930.1V1183.6H946.1V1185.8H982.6" fill="none" stroke="#00bfbf" stroke-width="1.85" stroke-opacity="0.8"/>
<path d="M347.6 965.8H348.1V968.0H360.1V970.2H372.1V972.4H382.1V974.6H392.1V976.8H402.1V979.0H411.1V981.2H420.1V983.4H429.1V985.6H438.1V987.8H446.1V990.0H453.1V992.2H459.1V994.4H466.1V996.6H471.1V998.8H477.1V1001.0H483.1V1003.2H489.1V1005.4H494.1V1007.6H500.1V1009.8H507.1V1012.0H513.1V1014.2H519.1V1016.4H525.1V1018.6H532.1V1020.8H538.1V1023.0H545.1V1025.2H552.1V1027.4H558.1V1029.6H565.1V1031.8H572.1V1034.0H578.1V1036.2H585.1V1038.4H591.1V1040.6H598.1V1042.8H604.1V1045.0H610.1V1047.2H616.1V1049.4H622.1V1051.6H628.1V1053.8H634.1V1056.0H639.1V1058.2H645.1V1060.4H651.1V1062.6H656.1V1064.8H661.1V1067.0H667.1V1069.2H672.1V1071.4H677.1V1073.6H681.1V1075.8H686.1V1078.0H691.1V1080.2H696.1V1082.4H701.1V1084.6H706.1V1086.8H711.1V1089.0H717.1V1091.2H722.1V1093.4H727.1V1095.6H732.1V1097.8H737.1V1100.0H743.1V1102.2H748.1V1104.4H753.1V1106.6H758.1V1108.8H762.1V1111.0H767.1V1113.2H772.1V1115.4H776.1V1117.6H781.1V1119.8H785.1V1122.0H790.1V1124.2H794.1V1126.4H799.1V1128.6H803.1V1130.8H808.1V1133.0H813.1V1135.2H818.1V1137.4H823.1V1139.6H828.1V1141.8H833.1V1144.0H839.1V1146.2H844.1V1148.4H850.1V1150.6H856.1V1152.8H862.1V1155.0H868.1V1157.2H874.1V1159.4H881.1V1161.6H888.1V1163.8H894.1V1166.0H902.1V1168.2H910.1V1170.4H920.1V1172.6H932.1V1174.8H950.1V1177.0H982.6" fill="none" stroke="#bf00bf" stroke-width="1.85" stroke-opacity="0.8"/>
<path d="M347.6 963.6H348.1V965.8H362.1V968.0H374.1V970.2H385.1V972.4H396.1V974.6H406.1V976.8H416.1V979.0H425.1V981.2H434.1V983.4H443.1V985.6H451.1V987.8H458.1V990.0H464.1V992.2H470.1V994.4H476.1V996.6H482.1V998.8H488.1V1001.0H494.1V1003.2H500.1V1005.4H507.1V1007.6H513.1V1009.8H520.1V1012.0H526.1V1014.2H533.1V1016.4H540.1V1018.6H547.1V1020.8H554.1V1023.0H561.1V1025.2H568.1V1027.4H575.1V1029.6H582.1V1031.8H588.1V1034.0H595.1V1036.2H602.1V1038.4H608.1V1040.6H614.1V1042.8H620.1V1045.0H627.1V1047.2H633.1V1049.4H639.1V1051.6H644.1V1053.8H650.1V1056.0H656.1V1058.2H661.1V1060.4H667.1V1062.6H672.1V1064.8H677.1V1067.0H682.1V1069.2H687.1V1071.4H692.1V1073.6H697.1V1075.8H702.1V1078.0H707.1V1080.2H713.1V1082.4H718.1V1084.6H723.1V1086.8H729.1V1089.0H734.1V1091.2H739.1V1093.4H744.1V1095.6H750.1V1097.8H755.1V1100.0H760.1V1102.2H765.1V1104.4H769.1V1106.6H774.1V1108.8H779.1V1111.0H783.1V1113.2H788.1V1115.4H792.1V1117.6H797.1V1119.8H801.1V1122.0H806.1V1124.2H811.1V1126.4H816.1V1128.6H821.1V1130.8H826.1V1133.0H832.1V1135.2H837.1V1137.4H842.1V1139.6H848.1V1141.8H854.1V1144.0H860.1V1146.2H866.1V1148.4H873.1V1150.6H879.1V1152.8H886.1V1155.0H893.1V1157.2H900.1V1159.4H908.1V1161.6H917.1V1163.8H929.1V1166.0H945.1V1168.2H982.6" fill="none" stroke="#bfbf00" stroke-width="1.85" stroke-opacity="0.8"/>
<path d="M347.6 963.6H361.1V965.8H374.1V968.0H386.1V970.2H398.1V972.4H408.1V974.6H418.1V976.8H428.1V979.0H438.1V981.2H446.1V983.4H454.1V985.6H461.1V987.8H468.1V990.0H474.1V992.2H480.1V994.4H486.1V996.6H492.1V998.8H499.1V1001.0H506.1V1003.2H512.1V1005.4H519.1V1007.6H526.1V1009.8H533.1V1012.0H540.1V1014.2H547.1V1016.4H555.1V1018.6H562.1V1020.8H569.1V1023.0H576.1V1025.2H583.1V1027.4H590.1V1029.6H597.1V1031.8H604.1V1034.0H611.1V1036.2H617.1V1038.4H624.1V1040.6H630.1V1042.8H636.1V1045.0H642.1V1047.2H648.1V1049.4H654.1V1051.6H660.1V1053.8H665.1V1056.0H671.1V1058.2H676.1V1060.4H681.1V1062.6H686.1V1064.8H691.1V1067.0H696.1V1069.2H702.1V1071.4H707.1V1073.6H712.1V1075.8H718.1V1078.0H723.1V1080.2H729.1V1082.4H734.1V1084.6H739.1V1086.8H745.1V1089.0H750.1V1091.2H755.1V1093.4H760.1V1095.6H765.1V1097.8H770.1V1100.0H775.1V1102.2H779.1V1104.4H784.1V1106.6H789.1V1108.8H793.1V1111.0H798.1V1113.2H803.1V1115.4H808.1V1117.6H812.1V1119.8H818.1V1122.0H823.1V1124.2H828.1V1126.4H833.1V1128.6H839.1V1130.8H845.1V1133.0H850.1V1135.2H856.1V1137.4H863.1V1139.6H869.1V1141.8H876.1V1144.0H882.1V1146.2H889.1V1148.4H896.1V1150.6H904.1V1152.8H912.1V1155.0H923.1V1157.2H937.1V1159.4H957.1V1161.6H982.6" fill="none" stroke="#404040" stroke-width="1.85" stroke-opacity="0.8"/>
<path d="M347.6 961.4H359.1V963.6H373.1V965.8H386.1V968.0H398.1V970.2H409.1V972.4H420.1V974.6H430.1V976.8H440.1V979.0H449.1V981.2H457.1V983.4H464.1V985.6H470.1V987.8H477.1V990.0H483.1V992.2H490.1V994.4H496.1V996.6H503.1V998.8H510.1V1001.0H517.1V1003.2H524.1V1005.4H531.1V1007.6H539.1V1009.8H546.1V1012.0H554.1V1014.2H561.1V1016.4H569.1V1018.6H576.1V1020.8H584.1V1023.0H591.1V1025.2H598.1V1027.4H605.1V1029.6H612.1V1031.8H619.1V1034.0H625.1V1036.2H632.1V1038.4H638.1V1040.6H644.1V1042.8H650.1V1045.0H656.1V1047.2H662.1V1049.4H668.1V1051.6H673.1V1053.8H678.1V1056.0H684.1V1058.2H689.1V1060.4H694.1V1062.6H700.1V1064.8H705.1V1067.0H710.1V1069.2H716.1V1071.4H722.1V1073.6H727.1V1075.8H733.1V1078.0H738.1V1080.2H744.1V1082.4H749.1V1084.6H754.1V1086.8H759.1V1089.0H764.1V1091.2H769.1V1093.4H774.1V1095.6H779.1V1097.8H784.1V1100.0H788.1V1102.2H793.1V1104.4H798.1V1106.6H803.1V1108.8H808.1V1111.0H813.1V1113.2H818.1V1115.4H823.1V1117.6H828.1V1119.8H834.1V1122.0H839.1V1124.2H845.1V1126.4H851.1V1128.6H857.1V1130.8H864.1V1133.0H870.1V1135.2H877.1V1137.4H883.1V1139.6H890.1V1141.8H897.1V1144.0H906.1V1146.2H914.1V1148.4H926.1V1150.6H941.1V1152.8H982.6" fill="none" stroke="#0000ff" stroke-width="1.85" stroke-opacity="0.8"/>
<path d="M347.6 959.2H356.1V961.4H371.1V963.6H385.1V965.8H397.1V968.0H409.1V970.2H420.1V972.4H431.1V974.6H442.1V976.8H451.1V979.0H458.1V981.2H466.1V983.4H472.1V985.6H479.1V987.8H486.1V990.0H492.1V992.2H499.1V994.4H506.1V996.6H513.1V998.8H521.1V1001.0H528.1V1003.2H536.1V1005.4H544.1V1007.6H552.1V1009.8H560.1V1012.0H567.1V1014.2H575.1V1016.4H583.1V1018.6H590.1V1020.8H598.1V1023.0H605.1V1025.2H612.1V1027.4H619.1V1029.6H626.1V1031.8H632.1V1034.0H639.1V1036.2H645.1V1038.4H651.1V1040.6H658.1V1042.8H663.1V1045.0H669.1V1047.2H675.1V1049.4H680.1V1051.6H686.1V1053.8H691.1V1056.0H696.1V1058.2H702.1V1060.4H707.1V1062.6H713.1V1064.8H719.1V1067.0H724.1V1069.2H730.1V1071.4H736.1V1073.6H741.1V1075.8H747.1V1078.0H752.1V1080.2H757.1V1082.4H763.1V1084.6H768.1V1086.8H773.1V1089.0H777.1V1091.2H782.1V1093.4H787.1V1095.6H792.1V1097.8H797.1V1100.0H801.1V1102.2H807.1V1104.4H812.1V1106.6H817.1V1108.8H822.1V1111.0H828.1V1113.2H833.1V1115.4H839.1V1117.6H845.1V1119.8H851.1V1122.0H857.1V1124.2H863.1V1126.4H870.1V1128.6H876.1V1130.8H883.1V1133.0H890.1V1135.2H897.1V1137.4H906.1V1139.6H914.1V1141.8H926.1V1144.0H941.1V1146.2H982.6" fill="none" stroke="#008000" stroke-width="1.85" stroke-opacity="0.8"/>
<path d="M347.6 957.0H350.1V959.2H367.1V961.4H382.1V963.6H395.1V965.8H408.1V968.0H420.1V970.2H431.1V972.4H442.1V974.6H451.1V976.8H459.1V979.0H467.1V981.2H474.1V983.4H480.1V985.6H487.1V987.8H494.1V990.0H501.1V992.2H509.1V994.4H516.1V996.6H524.1V998.8H532.1V1001.0H540.1V1003.2H548.1V1005.4H556.1V1007.6H564.1V1009.8H572.1V1012.0H580.1V1014.2H588.1V1016.4H596.1V1018.6H603.1V1020.8H611.1V1023.0H618.1V1025.2H625.1V1027.4H632.1V1029.6H638.1V1031.8H645.1V1034.0H652.1V1036.2H658.1V1038.4H664.1V1040.6H670.1V1042.8H675.1V1045.0H681.1V1047.2H686.1V1049.4H692.1V1051.6H697.1V1053.8H703.1V1056.0H709.1V1058.2H714.1V1060.4H720.1V1062.6H726.1V1064.8H732.1V1067.0H738.1V1069.2H743.1V1071.4H749.1V1073.6H754.1V1075.8H760.1V1078.0H765.1V1080.2H770.1V1082.4H775.1V1084.6H780.1V1086.8H785.1V1089.0H790.1V1091.2H794.1V1093.4H799.1V1095.6H804.1V1097.8H809.1V1100.0H815.1V1102.2H820.1V1104.4H826.1V1106.6H831.1V1108.8H837.1V1111.0H843.1V1113.2H849.1V1115.4H855.1V1117.6H861.1V1119.8H868.1V1122.0H875.1V1124.2H882.1V1126.4H889.1V1128.6H896.1V1130.8H904.1V1133.0H913.1V1135.2H924.1V1137.4H939.1V1139.6H982.6" fill="none" stroke="#ff0000" stroke-width="1.85" stroke-opacity="0.8"/>
<path d="M347.6 957.0H360.1V959.2H377.1V961.4H392.1V963.6H405.1V965.8H418.1V968.0H430.1V970.2H441.1V972.4H451.1V974.6H459.1V976.8H467.1V979.0H474.1V981.2H481.1V983.4H488.1V985.6H495.1V987.8H503.1V990.0H511.1V992.2H519.1V994.4H527.1V996.6H535.1V998.8H543.1V1001.0H552.1V1003.2H560.1V1005.4H568.1V1007.6H577.1V1009.8H585.1V1012.0H593.1V1014.2H601.1V1016.4H608.1V1018.6H616.1V1020.8H623.1V1023.0H630.1V1025.2H637.1V1027.4H644.1V1029.6H651.1V1031.8H657.1V1034.0H663.1V1036.2H669.1V1038.4H675.1V1040.6H681.1V1042.8H686.1V1045.0H692.1V1047.2H698.1V1049.4H703.1V1051.6H709.1V1053.8H715.1V1056.0H721.1V1058.2H727.1V1060.4H733.1V1062.6H739.1V1064.8H744.1V1067.0H750.1V1069.2H756.1V1071.4H761.1V1073.6H766.1V1075.8H772.1V1078.0H776.1V1080.2H781.1V1082.4H786.1V1084.6H791.1V1086.8H796.1V1089.0H801.1V1091.2H806.1V1093.4H812.1V1095.6H817.1V1097.8H823.1V1100.0H828.1V1102.2H834.1V1104.4H840.1V1106.6H846.1V1108.8H852.1V1111.0H858.1V1113.2H865.1V1115.4H872.1V1117.6H879.1V1119.8H886.1V1122.0H893.1V1124.2H900.1V1126.4H909.1V1128.6H920.1V1130.8H933.1V1133.0H952.1V1135.2H982.6" fill="none" stroke="#00bfbf" stroke-width="1.85" stroke-opacity="0.8"/>
<path d="M347.6 954.8H352.1V957.0H371.1V959.2H387.1V961.4H401.1V963.6H415.1V965.8H428.1V968.0H440.1V970.2H450.1V972.4H459.1V974.6H467.1V976.8H474.1V979.0H481.1V981.2H488.1V983.4H496.1V985.6H504.1V987.8H512.1V990.0H520.1V992.2H528.1V994.4H537.1V996.6H546.1V998.8H554.1V1001.0H563.1V1003.2H572.1V1005.4H580.1V1007.6H589.1V1009.8H597.1V1012.0H605.1V1014.2H612.1V1016.4H620.1V1018.6H627.1V1020.8H635.1V1023.0H642.1V1025.2H649.1V1027.4H655.1V1029.6H662.1V1031.8H668.1V1034.0H674.1V1036.2H680.1V1038.4H686.1V1040.6H691.1V1042.8H697.1V1045.0H703.1V1047.2H709.1V1049.4H715.1V1051.6H721.1V1053.8H727.1V1056.0H733.1V1058.2H739.1V1060.4H745.1V1062.6H750.1V1064.8H756.1V1067.0H762.1V1069.2H767.1V1071.4H772.1V1073.6H777.1V1075.8H782.1V1078.0H787.1V1080.2H792.1V1082.4H797.1V1084.6H803.1V1086.8H808.1V1089.0H813.1V1091.2H819.1V1093.4H824.1V1095.6H830.1V1097.8H836.1V1100.0H842.1V1102.2H848.1V1104.4H854.1V1106.6H861.1V1108.8H868.1V1111.0H875.1V1113.2H882.1V1115.4H889.1V1117.6H896.1V1119.8H905.1V1122.0H914.1V1124.2H926.1V1126.4H942.1V1128.6H982.6" fill="none" stroke="#bf00bf" stroke-width="1.85" stroke-opacity="0.8"/>
<path d="M347.6 954.8H362.1V957.0H380.1V959.2H396.1V961.4H410.1V963.6H424.1V965.8H437.1V968.0H448.1V970.2H457.1V972.4H466.1V974.6H473.1V976.8H481.1V979.0H488.1V981.2H496.1V983.4H504.1V985.6H512.1V987.8H521.1V990.0H530.1V992.2H538.1V994.4H547.1V996.6H556.1V998.8H565.1V1001.0H574.1V1003.2H583.1V1005.4H592.1V1007.6H600.1V1009.8H608.1V1012.0H616.1V1014.2H624.1V1016.4H631.1V1018.6H639.1V1020.8H646.1V1023.0H653.1V1025.2H659.1V1027.4H666.1V1029.6H672.1V1031.8H678.1V1034.0H684.1V1036.2H690.1V1038.4H696.1V1040.6H702.1V1042.8H708.1V1045.0H714.1V1047.2H720.1V1049.4H726.1V1051.6H732.1V1053.8H738.1V1056.0H744.1V1058.2H750.1V1060.4H756.1V1062.6H761.1V1064.8H767.1V1067.0H772.1V1069.2H777.1V1071.4H783.1V1073.6H788.1V1075.8H793.1V1078.0H798.1V1080.2H803.1V1082.4H808.1V1084.6H814.1V1086.8H820.1V1089.0H825.1V1091.2H831.1V1093.4H837.1V1095.6H843.1V1097.8H850.1V1100.0H856.1V1102.2H863.1V1104.4H870.1V1106.6H877.1V1108.8H884.1V1111.0H891.1V1113.2H899.1V1115.4H908.1V1117.6H918.1V1119.8H931.1V1122.0H950.1V1124.2H982.6" fill="none" stroke="#bfbf00" stroke-width="1.85" stroke-opacity="0.8"/>
<path d="M347.6 952.6H350.1V954.8H371.1V957.0H389.1V959.2H405.1V961.4H419.1V963.6H433.1V965.8H445.1V968.0H456.1V970.2H464.1V972.4H472.1V974.6H480.1V976.8H487.1V979.0H495.1V981.2H503.1V983.4H512.1V985.6H521.1V987.8H530.1V990.0H539.1V992.2H548.1V994.4H558.1V996.6H567.1V998.8H576.1V1001.0H585.1V1003.2H594.1V1005.4H602.1V1007.6H611.1V1009.8H619.1V1012.0H627.1V1014.2H634.1V1016.4H642.1V1018.6H649.1V1020.8H656.1V1023.0H663.1V1025.2H669.1V1027.4H675.1V1029.6H681.1V1031.8H687.1V1034.0H693.1V1036.2H699.1V1038.4H706.1V1040.6H712.1V1042.8H718.1V1045.0H724.1V1047.2H731.1V1049.4H737.1V1051.6H743.1V1053.8H749.1V1056.0H755.1V1058.2H761.1V1060.4H766.1V1062.6H772.1V1064.8H777.1V1067.0H782.1V1069.2H787.1V1071.4H792.1V1073.6H798.1V1075.8H803.1V1078.0H808.1V1080.2H814.1V1082.4H820.1V1084.6H826.1V1086.8H832.1V1089.0H838.1V1091.2H844.1V1093.4H850.1V1095.6H857.1V1097.8H864.1V1100.0H871.1V1102.2H878.1V1104.4H885.1V1106.6H893.1V1108.8H900.1V1111.0H910.1V1113.2H921.1V1115.4H935.1V1117.6H956.1V1119.8H982.6" fill="none" stroke="#404040" stroke-width="1.85" stroke-opacity="0.8"/>
<path d="M347.6 952.6H359.1V954.8H380.1V957.0H398.1V959.2H413.1V961.4H428.1V963.6H442.1V965.8H453.1V968.0H462.1V970.2H470.1V972.4H478.1V974.6H486.1V976.8H494.1V979.0H502.1V981.2H511.1V983.4H520.1V985.6H530.1V987.8H539.1V990.0H549.1V992.2H558.1V994.4H568.1V996.6H577.1V998.8H587.1V1001.0H596.1V1003.2H604.1V1005.4H613.1V1007.6H621.1V1009.8H629.1V1012.0H637.1V1014.2H644.1V1016.4H652.1V1018.6H659.1V1020.8H666.1V1023.0H672.1V1025.2H678.1V1027.4H684.1V1029.6H691.1V1031.8H697.1V1034.0H703.1V1036.2H709.1V1038.4H716.1V1040.6H722.1V1042.8H728.1V1045.0H735.1V1047.2H741.1V1049.4H747.1V1051.6H753.1V1053.8H759.1V1056.0H765.1V1058.2H770.1V1060.4H776.1V1062.6H781.1V1064.8H786.1V1067.0H792.1V1069.2H797.1V1071.4H802.1V1073.6H808.1V1075.8H813.1V1078.0H819.1V1080.2H825.1V1082.4H831.1V1084.6H837.1V1086.8H844.1V1089.0H850.1V1091.2H857.1V1093.4H864.1V1095.6H871.1V1097.8H878.1V1100.0H886.1V1102.2H893.1V1104.4H901.1V1106.6H911.1V1108.8H922.1V1111.0H937.1V1113.2H982.6" fill="none" stroke="#0000ff" stroke-width="1.85" stroke-opacity="0.8"/>
<path d="M347.6 952.6H368.1V954.8H388.1V957.0H406.1V959.2H421.1V961.4H436.1V963.6H449.1V965.8H459.1V968.0H468.1V970.2H476.1V972.4H484.1V974.6H492.1V976.8H501.1V979.0H510.1V981.2H519.1V983.4H529.1V985.6H539.1V987.8H549.1V990.0H558.1V992.2H568.1V994.4H578.1V996.6H587.1V998.8H597.1V1001.0H605.1V1003.2H614.1V1005.4H623.1V1007.6H631.1V1009.8H639.1V1012.0H646.1V1014.2H654.1V1016.4H661.1V1018.6H668.1V1020.8H674.1V1023.0H681.1V1025.2H687.1V1027.4H693.1V1029.6H699.1V1031.8H706.1V1034.0H712.1V1036.2H719.1V1038.4H725.1V1040.6H732.1V1042.8H738.1V1045.0H745.1V1047.2H751.1V1049.4H757.1V1051.6H763.1V1053.8H769.1V1056.0H774.1V1058.2H779.1V1060.4H785.1V1062.6H790.1V1064.8H796.1V1067.0H801.1V1069.2H807.1V1071.4H812.1V1073.6H818.1V1075.8H824.1V1078.0H830.1V1080.2H837.1V1082.4H843.1V1084.6H850.1V1086.8H856.1V1089.0H863.1V1091.2H871.1V1093.4H878.1V1095.6H885.1V1097.8H893.1V1100.0H901.1V1102.2H911.1V1104.4H922.1V1106.6H938.1V1108.8H982.6" fill="none" stroke="#008000" stroke-width="1.85" stroke-opacity="0.8"/>
<path d="M347.6 950.4H353.1V952.6H377.1V954.8H396.1V957.0H414.1V959.2H430.1V961.4H444.1V963.6H455.1V965.8H464.1V968.0H473.1V970.2H481.1V972.4H490.1V974.6H498.1V976.8H508.1V979.0H517.1V981.2H527.1V983.4H537.1V985.6H548.1V987.8H558.1V990.0H568.1V992.2H578.1V994.4H588.1V996.6H597.1V998.8H606.1V1001.0H615.1V1003.2H624.1V1005.4H632.1V1007.6H640.1V1009.8H648.1V1012.0H656.1V1014.2H663.1V1016.4H670.1V1018.6H676.1V1020.8H683.1V1023.0H689.1V1025.2H695.1V1027.4H702.1V1029.6H709.1V1031.8H715.1V1034.0H722.1V1036.2H728.1V1038.4H735.1V1040.6H742.1V1042.8H748.1V1045.0H754.1V1047.2H760.1V1049.4H766.1V1051.6H772.1V1053.8H777.1V1056.0H783.1V1058.2H788.1V1060.4H794.1V1062.6H799.1V1064.8H805.1V1067.0H811.1V1069.2H816.1V1071.4H823.1V1073.6H829.1V1075.8H835.1V1078.0H841.1V1080.2H848.1V1082.4H855.1V1084.6H862.1V1086.8H869.1V1089.0H877.1V1091.2H884.1V1093.4H892.1V1095.6H900.1V1097.8H910.1V1100.0H921.1V1102.2H937.1V1104.4H971.1V1106.6H982.6" fill="none" stroke="#ff0000" stroke-width="1.85" stroke-opacity="0.8"/>
<path d="M347.6 950.4H361.1V952.6H385.1V954.8H404.1V957.0H421.1V959.2H438.1V961.4H450.1V963.6H461.1V965.8H470.1V968.0H478.1V970.2H487.1V972.4H496.1V974.6H505.1V976.8H515.1V979.0H525.1V981.2H536.1V983.4H546.1V985.6H557.1V987.8H567.1V990.0H577.1V992.2H587.1V994.4H597.1V996.6H606.1V998.8H615.1V1001.0H624.1V1003.2H633.1V1005.4H641.1V1007.6H649.1V1009.8H657.1V1012.0H664.1V1014.2H671.1V1016.4H678.1V1018.6H684.1V1020.8H691.1V1023.0H697.1V1025.2H704.1V1027.4H711.1V1029.6H717.1V1031.8H724.1V1034.0H731.1V1036.2H738.1V1038.4H744.1V1040.6H751.1V1042.8H757.1V1045.0H763.1V1047.2H769.1V1049.4H775.1V1051.6H780.1V1053.8H786.1V1056.0H791.1V1058.2H797.1V1060.4H803.1V1062.6H808.1V1064.8H814.1V1067.0H820.1V1069.2H827.1V1071.4H833.1V1073.6H839.1V1075.8H846.1V1078.0H853.1V1080.2H860.1V1082.4H868.1V1084.6H875.1V1086.8H883.1V1089.0H891.1V1091.2H899.1V1093.4H908.1V1095.6H919.1V1097.8H934.1V1100.0H956.1V1102.2H982.6" fill="none" stroke="#00bfbf" stroke-width="1.85" stroke-opacity="0.8"/>
<path d="M347.6 950.4H370.1V952.6H392.1V954.8H412.1V957.0H429.1V959.2H444.1V961.4H456.1V963.6H466.1V965.8H475.1V968.0H484.1V970.2H493.1V972.4H502.1V974.6H512.1V976.8H522.1V979.0H533.1V981.2H544.1V983.4H555.1V985.6H565.1V987.8H576.1V990.0H586.1V992.2H596.1V994.4H606.1V996.6H615.1V998.8H624.1V1001.0H633.1V1003.2H642.1V1005.4H650.1V1007.6H658.1V1009.8H665.1V1012.0H672.1V1014.2H679.1V1016.4H686.1V1018.6H692.1V1020.8H699.1V1023.0H706.1V1025.2H712.1V1027.4H719.1V1029.6H726.1V1031.8H733.1V1034.0H740.1V1036.2H747.1V1038.4H753.1V1040.6H759.1V1042.8H765.1V1045.0H772.1V1047.2H777.1V1049.4H783.1V1051.6H788.1V1053.8H794.1V1056.0H800.1V1058.2H806.1V1060.4H812.1V1062.6H818.1V1064.8H824.1V1067.0H830.1V1069.2H837.1V1071.4H844.1V1073.6H851.1V1075.8H858.1V1078.0H865.1V1080.2H873.1V1082.4H880.1V1084.6H888.1V1086.8H896.1V1089.0H906.1V1091.2H916.1V1093.4H930.1V1095.6H950.1V1097.8H982.6" fill="none" stroke="#bf00bf" stroke-width="1.85" stroke-opacity="0.8"/>
<path d="M347.6 948.2H348.1V950.4H378.1V952.6H400.1V954.8H419.1V957.0H436.1V959.2H450.1V961.4H461.1V963.6H471.1V965.8H480.1V968.0H489.1V970.2H498.1V972.4H508.1V974.6H519.1V976.8H530.1V979.0H541.1V981.2H552.1V983.4H563.1V985.6H574.1V987.8H585.1V990.0H595.1V992.2H605.1V994.4H615.1V996.6H624.1V998.8H633.1V1001.0H642.1V1003.2H650.1V1005.4H658.1V1007.6H666.1V1009.8H673.1V1012.0H680.1V1014.2H687.1V1016.4H693.1V1018.6H700.1V1020.8H707.1V1023.0H714.1V1025.2H721.1V1027.4H728.1V1029.6H735.1V1031.8H742.1V1034.0H748.1V1036.2H755.1V1038.4H761.1V1040.6H768.1V1042.8H774.1V1045.0H779.1V1047.2H785.1V1049.4H791.1V1051.6H796.1V1053.8H802.1V1056.0H808.1V1058.2H814.1V1060.4H821.1V1062.6H827.1V1064.8H834.1V1067.0H841.1V1069.2H847.1V1071.4H855.1V1073.6H862.1V1075.8H870.1V1078.0H877.1V1080.2H885.1V1082.4H893.1V1084.6H902.1V1086.8H912.1V1089.0H925.1V1091.2H943.1V1093.4H982.6" fill="none" stroke="#bfbf00" stroke-width="1.85" stroke-opacity="0.8"/>
<path d="M347.6 948.2H357.1V950.4H385.1V952.6H407.1V954.8H426.1V957.0H443.1V959.2H456.1V961.4H466.1V963.6H475.1V965.8H485.1V968.0H494.1V970.2H504.1V972.4H515.1V974.6H526.1V976.8H537.1V979.0H549.1V981.2H560.1V983.4H572.1V985.6H583.1V987.8H593.1V990.0H604.1V992.2H613.1V994.4H623.1V996.6H632.1V998.8H641.1V1001.0H650.1V1003.2H658.1V1005.4H666.1V1007.6H673.1V1009.8H680.1V1012.0H687.1V1014.2H694.1V1016.4H701.1V1018.6H708.1V1020.8H715.1V1023.0H722.1V1025.2H729.1V1027.4H736.1V1029.6H743.1V1031.8H750.1V1034.0H757.1V1036.2H763.1V1038.4H769.1V1040.6H775.1V1042.8H781.1V1045.0H787.1V1047.2H793.1V1049.4H799.1V1051.6H805.1V1053.8H811.1V1056.0H817.1V1058.2H824.1V1060.4H830.1V1062.6H837.1V1064.8H844.1V1067.0H851.1V1069.2H858.1V1071.4H866.1V1073.6H874.1V1075.8H882.1V1078.0H890.1V1080.2H898.1V1082.4H908.1V1084.6H920.1V1086.8H936.1V1089.0H970.1V1091.2H982.6" fill="none" stroke="#404040" stroke-width="1.85" stroke-opacity="0.8"/>
<path d="M347.6 948.2H366.1V950.4H392.1V952.6H414.1V954.8H433.1V957.0H449.1V959.2H460.1V961.4H471.1V963.6H480.1V965.8H490.1V968.0H500.1V970.2H510.1V972.4H522.1V974.6H533.1V976.8H545.1V979.0H557.1V981.2H568.1V983.4H580.1V985.6H591.1V987.8H602.1V990.0H612.1V992.2H622.1V994.4H631.1V996.6H640.1V998.8H649.1V1001.0H658.1V1003.2H666.1V1005.4H673.1V1007.6H680.1V1009.8H687.1V1012.0H694.1V1014.2H701.1V1016.4H708.1V1018.6H716.1V1020.8H723.1V1023.0H730.1V1025.2H737.1V1027.4H744.1V1029.6H751.1V1031.8H758.1V1034.0H765.1V1036.2H771.1V1038.4H777.1V1040.6H783.1V1042.8H789.1V1045.0H795.1V1047.2H800.1V1049.4H807.1V1051.6H813.1V1053.8H819.1V1056.0H826.1V1058.2H833.1V1060.4H840.1V1062.6H847.1V1064.8H854.1V1067.0H862.1V1069.2H870.1V1071.4H878.1V1073.6H886.1V1075.8H894.1V1078.0H903.1V1080.2H914.1V1082.4H928.1V1084.6H948.1V1086.8H982.6" fill="none" stroke="#0000ff" stroke-width="1.85" stroke-opacity="0.8"/>
<path d="M347.6 948.2H374.1V950.4H399.1V952.6H421.1V954.8H440.1V957.0H454.1V959.2H465.1V961.4H475.1V963.6H485.1V965.8H495.1V968.0H505.1V970.2H517.1V972.4H528.1V974.6H540.1V976.8H553.1V979.0H565.1V981.2H576.1V983.4H588.1V985.6H599.1V987.8H610.1V990.0H620.1V992.2H630.1V994.4H639.1V996.6H648.1V998.8H657.1V1001.0H665.1V1003.2H673.1V1005.4H680.1V1007.6H687.1V1009.8H694.1V1012.0H701.1V1014.2H709.1V1016.4H716.1V1018.6H723.1V1020.8H731.1V1023.0H738.1V1025.2H745.1V1027.4H752.1V1029.6H759.1V1031.8H766.1V1034.0H772.1V1036.2H778.1V1038.4H784.1V1040.6H790.1V1042.8H796.1V1045.0H802.1V1047.2H808.1V1049.4H815.1V1051.6H822.1V1053.8H828.1V1056.0H835.1V1058.2H842.1V1060.4H850.1V1062.6H857.1V1064.8H865.1V1067.0H873.1V1069.2H881.1V1071.4H890.1V1073.6H898.1V1075.8H908.1V1078.0H920.1V1080.2H937.1V1082.4H982.6" fill="none" stroke="#008000" stroke-width="1.85" stroke-opacity="0.8"/>
<path d="M347.6 948.2H381.1V950.4H406.1V952.6H427.1V954.8H445.1V957.0H459.1V959.2H469.1V961.4H479.1V963.6H489.1V965.8H500.1V968.0H511.1V970.2H523.1V972.4H535.1V974.6H548.1V976.8H560.1V979.0H572.1V981.2H584.1V983.4H596.1V985.6H607.1V987.8H617.1V990.0H627.1V992.2H637.1V994.4H647.1V996.6H656.1V998.8H664.1V1001.0H672.1V1003.2H679.1V1005.4H686.1V1007.6H694.1V1009.8H701.1V1012.0H708.1V1014.2H716.1V1016.4H724.1V1018.6H731.1V1020.8H739.1V1023.0H746.1V1025.2H753.1V1027.4H760.1V1029.6H766.1V1031.8H773.1V1034.0H779.1V1036.2H785.1V1038.4H791.1V1040.6H797.1V1042.8H804.1V1045.0H810.1V1047.2H817.1V1049.4H823.1V1051.6H830.1V1053.8H837.1V1056.0H845.1V1058.2H852.1V1060.4H860.1V1062.6H868.1V1064.8H876.1V1067.0H884.1V1069.2H893.1V1071.4H902.1V1073.6H913.1V1075.8H927.1V1078.0H947.1V1080.2H982.6" fill="none" stroke="#ff0000" stroke-width="1.85" stroke-opacity="0.8"/>
<path d="M347.6 946.0H354.1V948.2H388.1V950.4H412.1V952.6H434.1V954.8H451.1V957.0H463.1V959.2H473.1V961.4H484.1V963.6H494.1V965.8H505.1V968.0H517.1V970.2H530.1V972.4H542.1V974.6H555.1V976.8H568.1V979.0H580.1V981.2H592.1V983.4H603.1V985.6H614.1V987.8H625.1V990.0H635.1V992.2H645.1V994.4H654.1V996.6H662.1V998.8H671.1V1001.0H678.1V1003.2H686.1V1005.4H693.1V1007.6H700.1V1009.8H708.1V1012.0H716.1V1014.2H723.1V1016.4H731.1V1018.6H739.1V1020.8H746.1V1023.0H753.1V1025.2H760.1V1027.4H767.1V1029.6H773.1V1031.8H780.1V1034.0H786.1V1036.2H792.1V1038.4H798.1V1040.6H805.1V1042.8H811.1V1045.0H818.1V1047.2H825.1V1049.4H832.1V1051.6H839.1V1053.8H847.1V1056.0H854.1V1058.2H862.1V1060.4H870.1V1062.6H879.1V1064.8H887.1V1067.0H896.1V1069.2H906.1V1071.4H918.1V1073.6H934.1V1075.8H966.1V1078.0H982.6" fill="none" stroke="#00bfbf" stroke-width="1.85" stroke-opacity="0.8"/>
<path d="M347.6 946.0H362.1V948.2H394.1V950.4H419.1V952.6H440.1V954.8H455.1V957.0H467.1V959.2H477.1V961.4H488.1V963.6H499.1V965.8H511.1V968.0H523.1V970.2H536.1V972.4H549.1V974.6H562.1V976.8H575.1V979.0H588.1V981.2H600.1V983.4H611.1V985.6H622.1V987.8H632.1V990.0H642.1V992.2H652.1V994.4H661.1V996.6H669.1V998.8H677.1V1001.0H684.1V1003.2H692.1V1005.4H699.1V1007.6H707.1V1009.8H715.1V1012.0H723.1V1014.2H731.1V1016.4H738.1V1018.6H746.1V1020.8H753.1V1023.0H760.1V1025.2H767.1V1027.4H774.1V1029.6H780.1V1031.8H786.1V1034.0H793.1V1036.2H799.1V1038.4H806.1V1040.6H812.1V1042.8H819.1V1045.0H826.1V1047.2H833.1V1049.4H841.1V1051.6H848.1V1053.8H856.1V1056.0H864.1V1058.2H873.1V1060.4H881.1V1062.6H890.1V1064.8H899.1V1067.0H910.1V1069.2H923.1V1071.4H942.1V1073.6H982.6" fill="none" stroke="#bf00bf" stroke-width="1.85" stroke-opacity="0.8"/>
<path d="M347.6 946.0H370.1V948.2H400.1V950.4H425.1V952.6H445.1V954.8H459.1V957.0H471.1V959.2H481.1V961.4H492.1V963.6H504.1V965.8H517.1V968.0H530.1V970.2H543.1V972.4H556.1V974.6H570.1V976.8H583.1V979.0H595.1V981.2H607.1V983.4H618.1V985.6H629.1V987.8H639.1V990.0H649.1V992.2H658.1V994.4H667.1V996.6H675.1V998.8H683.1V1001.0H691.1V1003.2H698.1V1005.4H706.1V1007.6H714.1V1009.8H722.1V1012.0H730.1V1014.2H738.1V1016.4H746.1V1018.6H753.1V1020.8H760.1V1023.0H767.1V1025.2H774.1V1027.4H780.1V1029.6H787.1V1031.8H793.1V1034.0H799.1V1036.2H806.1V1038.4H813.1V1040.6H820.1V1042.8H827.1V1045.0H835.1V1047.2H842.1V1049.4H850.1V1051.6H858.1V1053.8H866.1V1056.0H875.1V1058.2H883.1V1060.4H892.1V1062.6H902.1V1064.8H913.1V1067.0H927.1V1069.2H950.1V1071.4H982.6" fill="none" stroke="#bfbf00" stroke-width="1.85" stroke-opacity="0.8"/>
</g><g filter="url(#bl2)">
<path d="M347.6 946.0H377.1V948.2H407.1V950.4H431.1V952.6H450.1V954.8H463.1V957.0H475.1V959.2H485.1V961.4H497.1V963.6H509.1V965.8H522.1V968.0H536.1V970.2H550.1V972.4H563.1V974.6H577.1V976.8H590.1V979.0H602.1V981.2H614.1V983.4H625.1V985.6H636.1V987.8H646.1V990.0H656.1V992.2H665.1V994.4H673.1V996.6H681.1V998.8H689.1V1001.0H697.1V1003.2H705.1V1005.4H713.1V1007.6H721.1V1009.8H729.1V1012.0H737.1V1014.2H745.1V1016.4H752.1V1018.6H760.1V1020.8H767.1V1023.0H774.1V1025.2H780.1V1027.4H787.1V1029.6H793.1V1031.8H800.1V1034.0H807.1V1036.2H813.1V1038.4H821.1V1040.6H828.1V1042.8H835.1V1045.0H843.1V1047.2H851.1V1049.4H859.1V1051.6H868.1V1053.8H876.1V1056.0H885.1V1058.2H894.1V1060.4H904.1V1062.6H916.1V1064.8H932.1V1067.0H958.1V1069.2H982.6" fill="none" stroke="#00307a" stroke-width="2.4" stroke-opacity="1.0"/>
<path d="M347.6 946.0H384.1V948.2H413.1V950.4H437.1V952.6H455.1V954.8H467.1V957.0H478.1V959.2H489.1V961.4H501.1V963.6H515.1V965.8H528.1V968.0H542.1V970.2H557.1V972.4H570.1V974.6H584.1V976.8H597.1V979.0H609.1V981.2H621.1V983.4H632.1V985.6H643.1V987.8H653.1V990.0H662.1V992.2H671.1V994.4H679.1V996.6H687.1V998.8H695.1V1001.0H703.1V1003.2H711.1V1005.4H719.1V1007.6H728.1V1009.8H736.1V1012.0H744.1V1014.2H752.1V1016.4H759.1V1018.6H766.1V1020.8H773.1V1023.0H780.1V1025.2H787.1V1027.4H793.1V1029.6H800.1V1031.8H807.1V1034.0H814.1V1036.2H821.1V1038.4H828.1V1040.6H836.1V1042.8H844.1V1045.0H852.1V1047.2H860.1V1049.4H869.1V1051.6H878.1V1053.8H887.1V1056.0H896.1V1058.2H907.1V1060.4H919.1V1062.6H937.1V1064.8H982.6" fill="none" stroke="#b0400f" stroke-width="2.4" stroke-opacity="1.0"/>
<path d="M347.6 946.0H390.1V948.2H419.1V950.4H442.1V952.6H458.1V954.8H471.1V957.0H482.1V959.2H494.1V961.4H506.1V963.6H520.1V965.8H534.1V968.0H549.1V970.2H563.1V972.4H577.1V974.6H591.1V976.8H604.1V979.0H616.1V981.2H628.1V983.4H639.1V985.6H649.1V987.8H659.1V990.0H668.1V992.2H677.1V994.4H685.1V996.6H693.1V998.8H701.1V1001.0H709.1V1003.2H718.1V1005.4H726.1V1007.6H734.1V1009.8H743.1V1012.0H750.1V1014.2H758.1V1016.4H766.1V1018.6H773.1V1020.8H779.1V1023.0H786.1V1025.2H793.1V1027.4H799.1V1029.6H807.1V1031.8H814.1V1034.0H821.1V1036.2H829.1V1038.4H836.1V1040.6H844.1V1042.8H852.1V1045.0H861.1V1047.2H870.1V1049.4H879.1V1051.6H888.1V1053.8H897.1V1056.0H908.1V1058.2H922.1V1060.4H942.1V1062.6H982.6" fill="none" stroke="#c89010" stroke-width="2.4" stroke-opacity="1.0"/>
<path d="M347.6 943.8H354.1V946.0H396.1V948.2H424.1V950.4H447.1V952.6H462.1V954.8H474.1V957.0H486.1V959.2H498.1V961.4H511.1V963.6H526.1V965.8H540.1V968.0H555.1V970.2H570.1V972.4H584.1V974.6H598.1V976.8H610.1V979.0H622.1V981.2H634.1V983.4H645.1V985.6H655.1V987.8H665.1V990.0H674.1V992.2H682.1V994.4H690.1V996.6H699.1V998.8H707.1V1001.0H716.1V1003.2H724.1V1005.4H733.1V1007.6H741.1V1009.8H749.1V1012.0H757.1V1014.2H764.1V1016.4H772.1V1018.6H779.1V1020.8H785.1V1023.0H792.1V1025.2H799.1V1027.4H806.1V1029.6H813.1V1031.8H821.1V1034.0H829.1V1036.2H836.1V1038.4H844.1V1040.6H853.1V1042.8H861.1V1045.0H870.1V1047.2H880.1V1049.4H889.1V1051.6H899.1V1053.8H910.1V1056.0H924.1V1058.2H946.1V1060.4H982.6" fill="none" stroke="#5a1a6a" stroke-width="2.4" stroke-opacity="1.0"/>
<path d="M347.6 943.8H362.1V946.0H402.1V948.2H430.1V950.4H451.1V952.6H465.1V954.8H477.1V957.0H489.1V959.2H502.1V961.4H517.1V963.6H532.1V965.8H547.1V968.0H562.1V970.2H577.1V972.4H591.1V974.6H604.1V976.8H617.1V979.0H629.1V981.2H640.1V983.4H651.1V985.6H661.1V987.8H671.1V990.0H679.1V992.2H688.1V994.4H696.1V996.6H705.1V998.8H713.1V1001.0H722.1V1003.2H731.1V1005.4H739.1V1007.6H747.1V1009.8H756.1V1012.0H763.1V1014.2H771.1V1016.4H778.1V1018.6H785.1V1020.8H791.1V1023.0H798.1V1025.2H806.1V1027.4H813.1V1029.6H821.1V1031.8H828.1V1034.0H836.1V1036.2H844.1V1038.4H853.1V1040.6H862.1V1042.8H871.1V1045.0H880.1V1047.2H889.1V1049.4H899.1V1051.6H911.1V1053.8H926.1V1056.0H950.1V1058.2H982.6" fill="none" stroke="#4a8020" stroke-width="2.4" stroke-opacity="1.0"/>
<path d="M347.6 943.8H370.1V946.0H407.1V948.2H436.1V950.4H455.1V952.6H469.1V954.8H481.1V957.0H493.1V959.2H507.1V961.4H522.1V963.6H537.1V965.8H553.1V968.0H568.1V970.2H583.1V972.4H597.1V974.6H611.1V976.8H623.1V979.0H635.1V981.2H647.1V983.4H657.1V985.6H667.1V987.8H676.1V990.0H685.1V992.2H693.1V994.4H702.1V996.6H711.1V998.8H719.1V1001.0H728.1V1003.2H737.1V1005.4H745.1V1007.6H754.1V1009.8H762.1V1012.0H769.1V1014.2H776.1V1016.4H783.1V1018.6H791.1V1020.8H797.1V1023.0H805.1V1025.2H812.1V1027.4H820.1V1029.6H828.1V1031.8H836.1V1034.0H844.1V1036.2H853.1V1038.4H862.1V1040.6H871.1V1042.8H880.1V1045.0H890.1V1047.2H900.1V1049.4H912.1V1051.6H928.1V1053.8H953.1V1056.0H982.6" fill="none" stroke="#2a90c0" stroke-width="2.4" stroke-opacity="1.0"/>
<path d="M347.6 943.8H376.1V946.0H413.1V948.2H441.1V950.4H459.1V952.6H472.1V954.8H484.1V957.0H497.1V959.2H512.1V961.4H527.1V963.6H543.1V965.8H559.1V968.0H575.1V970.2H590.1V972.4H604.1V974.6H617.1V976.8H629.1V979.0H641.1V981.2H653.1V983.4H663.1V985.6H673.1V987.8H681.1V990.0H690.1V992.2H699.1V994.4H708.1V996.6H717.1V998.8H726.1V1001.0H734.1V1003.2H743.1V1005.4H752.1V1007.6H760.1V1009.8H768.1V1012.0H775.1V1014.2H782.1V1016.4H789.1V1018.6H796.1V1020.8H804.1V1023.0H811.1V1025.2H819.1V1027.4H827.1V1029.6H835.1V1031.8H844.1V1034.0H852.1V1036.2H861.1V1038.4H871.1V1040.6H880.1V1042.8H890.1V1045.0H900.1V1047.2H912.1V1049.4H928.1V1051.6H955.1V1053.8H982.6" fill="none" stroke="#80101f" stroke-width="2.4" stroke-opacity="1.0"/>
<path d="M347.6 943.8H383.1V946.0H418.1V948.2H445.1V950.4H462.1V952.6H475.1V954.8H488.1V957.0H502.1V959.2H517.1V961.4H533.1V963.6H549.1V965.8H565.1V968.0H581.1V970.2H596.1V972.4H610.1V974.6H623.1V976.8H636.1V979.0H647.1V981.2H658.1V983.4H669.1V985.6H678.1V987.8H687.1V990.0H695.1V992.2H704.1V994.4H713.1V996.6H723.1V998.8H732.1V1001.0H741.1V1003.2H749.1V1005.4H758.1V1007.6H766.1V1009.8H773.1V1012.0H781.1V1014.2H788.1V1016.4H795.1V1018.6H802.1V1020.8H810.1V1023.0H818.1V1025.2H826.1V1027.4H834.1V1029.6H843.1V1031.8H852.1V1034.0H861.1V1036.2H870.1V1038.4H880.1V1040.6H890.1V1042.8H900.1V1045.0H913.1V1047.2H929.1V1049.4H956.1V1051.6H982.6" fill="none" stroke="#00307a" stroke-width="2.4" stroke-opacity="1.0"/>
<path d="M347.6 943.8H389.1V946.0H424.1V948.2H449.1V950.4H465.1V952.6H478.1V954.8H491.1V957.0H506.1V959.2H522.1V961.4H538.1V963.6H555.1V965.8H572.1V968.0H587.1V970.2H602.1V972.4H616.1V974.6H629.1V976.8H642.1V979.0H653.1V981.2H664.1V983.4H674.1V985.6H683.1V987.8H692.1V990.0H701.1V992.2H710.1V994.4H719.1V996.6H729.1V998.8H738.1V1001.0H747.1V1003.2H755.1V1005.4H763.1V1007.6H771.1V1009.8H779.1V1012.0H786.1V1014.2H794.1V1016.4H801.1V1018.6H809.1V1020.8H817.1V1023.0H825.1V1025.2H833.1V1027.4H842.1V1029.6H851.1V1031.8H860.1V1034.0H870.1V1036.2H879.1V1038.4H889.1V1040.6H900.1V1042.8H912.1V1045.0H929.1V1047.2H956.1V1049.4H982.6" fill="none" stroke="#b0400f" stroke-width="2.4" stroke-opacity="1.0"/>
<path d="M347.6 943.8H395.1V946.0H429.1V948.2H454.1V950.4H468.1V952.6H481.1V954.8H495.1V957.0H510.1V959.2H527.1V961.4H544.1V963.6H561.1V965.8H578.1V968.0H593.1V970.2H608.1V972.4H622.1V974.6H635.1V976.8H647.1V979.0H659.1V981.2H669.1V983.4H679.1V985.6H688.1V987.8H697.1V990.0H706.1V992.2H716.1V994.4H725.1V996.6H734.1V998.8H744.1V1001.0H753.1V1003.2H761.1V1005.4H769.1V1007.6H777.1V1009.8H784.1V1012.0H792.1V1014.2H799.1V1016.4H807.1V1018.6H815.1V1020.8H823.1V1023.0H832.1V1025.2H841.1V1027.4H850.1V1029.6H859.1V1031.8H869.1V1034.0H878.1V1036.2H889.1V1038.4H899.1V1040.6H912.1V1042.8H928.1V1045.0H956.1V1047.2H982.6" fill="none" stroke="#c89010" stroke-width="2.4" stroke-opacity="1.0"/>
<path d="M347.6 943.8H400.1V946.0H434.1V948.2H457.1V950.4H471.1V952.6H485.1V954.8H499.1V957.0H515.1V959.2H532.1V961.4H550.1V963.6H567.1V965.8H584.1V968.0H599.1V970.2H614.1V972.4H628.1V974.6H641.1V976.8H653.1V979.0H664.1V981.2H674.1V983.4H684.1V985.6H693.1V987.8H702.1V990.0H712.1V992.2H721.1V994.4H731.1V996.6H740.1V998.8H749.1V1001.0H758.1V1003.2H767.1V1005.4H775.1V1007.6H782.1V1009.8H790.1V1012.0H797.1V1014.2H805.1V1016.4H813.1V1018.6H822.1V1020.8H830.1V1023.0H839.1V1025.2H848.1V1027.4H857.1V1029.6H867.1V1031.8H877.1V1034.0H888.1V1036.2H898.1V1038.4H911.1V1040.6H927.1V1042.8H955.1V1045.0H982.6" fill="none" stroke="#5a1a6a" stroke-width="2.4" stroke-opacity="1.0"/>
<path d="M347.6 943.8H405.1V946.0H440.1V948.2H460.1V950.4H474.1V952.6H488.1V954.8H503.1V957.0H520.1V959.2H538.1V961.4H556.1V963.6H573.1V965.8H590.1V968.0H605.1V970.2H620.1V972.4H634.1V974.6H646.1V976.8H658.1V979.0H669.1V981.2H679.1V983.4H688.1V985.6H698.1V987.8H708.1V990.0H717.1V992.2H727.1V994.4H737.1V996.6H746.1V998.8H755.1V1001.0H764.1V1003.2H772.1V1005.4H780.1V1007.6H788.1V1009.8H795.1V1012.0H803.1V1014.2H811.1V1016.4H820.1V1018.6H828.1V1020.8H837.1V1023.0H846.1V1025.2H856.1V1027.4H866.1V1029.6H876.1V1031.8H886.1V1034.0H897.1V1036.2H910.1V1038.4H926.1V1040.6H953.1V1042.8H982.6" fill="none" stroke="#4a8020" stroke-width="2.4" stroke-opacity="1.0"/>
<path d="M347.6 941.6H358.1V943.8H411.1V946.0H443.1V948.2H462.1V950.4H477.1V952.6H491.1V954.8H507.1V957.0H525.1V959.2H543.1V961.4H561.1V963.6H579.1V965.8H596.1V968.0H611.1V970.2H626.1V972.4H639.1V974.6H652.1V976.8H663.1V979.0H674.1V981.2H684.1V983.4H693.1V985.6H703.1V987.8H713.1V990.0H723.1V992.2H733.1V994.4H743.1V996.6H752.1V998.8H761.1V1001.0H769.1V1003.2H777.1V1005.4H785.1V1007.6H793.1V1009.8H801.1V1012.0H809.1V1014.2H818.1V1016.4H826.1V1018.6H835.1V1020.8H845.1V1023.0H854.1V1025.2H864.1V1027.4H874.1V1029.6H885.1V1031.8H896.1V1034.0H908.1V1036.2H924.1V1038.4H950.1V1040.6H982.6" fill="none" stroke="#2a90c0" stroke-width="2.4" stroke-opacity="1.0"/>
<path d="M347.6 941.6H367.1V943.8H416.1V946.0H447.1V948.2H465.1V950.4H480.1V952.6H495.1V954.8H512.1V957.0H530.1V959.2H548.1V961.4H567.1V963.6H585.1V965.8H601.1V968.0H617.1V970.2H631.1V972.4H645.1V974.6H657.1V976.8H669.1V979.0H679.1V981.2H689.1V983.4H698.1V985.6H708.1V987.8H718.1V990.0H729.1V992.2H738.1V994.4H748.1V996.6H757.1V998.8H766.1V1001.0H775.1V1003.2H783.1V1005.4H790.1V1007.6H798.1V1009.8H807.1V1012.0H815.1V1014.2H824.1V1016.4H833.1V1018.6H842.1V1020.8H852.1V1023.0H862.1V1025.2H872.1V1027.4H883.1V1029.6H894.1V1031.8H906.1V1034.0H922.1V1036.2H946.1V1038.4H982.6" fill="none" stroke="#80101f" stroke-width="2.4" stroke-opacity="1.0"/>
<path d="M347.6 941.6H374.1V943.8H421.1V946.0H451.1V948.2H468.1V950.4H483.1V952.6H498.1V954.8H516.1V957.0H535.1V959.2H554.1V961.4H573.1V963.6H590.1V965.8H607.1V968.0H622.1V970.2H637.1V972.4H650.1V974.6H662.1V976.8H673.1V979.0H683.1V981.2H693.1V983.4H703.1V985.6H714.1V987.8H724.1V990.0H734.1V992.2H744.1V994.4H754.1V996.6H763.1V998.8H771.1V1001.0H780.1V1003.2H788.1V1005.4H796.1V1007.6H804.1V1009.8H813.1V1012.0H822.1V1014.2H831.1V1016.4H840.1V1018.6H850.1V1020.8H860.1V1023.0H870.1V1025.2H881.1V1027.4H892.1V1029.6H904.1V1031.8H919.1V1034.0H942.1V1036.2H982.6" fill="none" stroke="#00307a" stroke-width="2.4" stroke-opacity="1.0"/>
<path d="M347.6 941.6H381.1V943.8H426.1V946.0H455.1V948.2H471.1V950.4H486.1V952.6H502.1V954.8H521.1V957.0H540.1V959.2H560.1V961.4H578.1V963.6H596.1V965.8H612.1V968.0H628.1V970.2H642.1V972.4H655.1V974.6H667.1V976.8H678.1V979.0H688.1V981.2H698.1V983.4H708.1V985.6H719.1V987.8H729.1V990.0H740.1V992.2H749.1V994.4H759.1V996.6H768.1V998.8H776.1V1001.0H785.1V1003.2H793.1V1005.4H801.1V1007.6H810.1V1009.8H819.1V1012.0H828.1V1014.2H837.1V1016.4H847.1V1018.6H857.1V1020.8H868.1V1023.0H879.1V1025.2H890.1V1027.4H902.1V1029.6H916.1V1031.8H938.1V1034.0H982.6" fill="none" stroke="#b0400f" stroke-width="2.4" stroke-opacity="1.0"/>
<path d="M347.6 941.6H386.1V943.8H431.1V946.0H457.1V948.2H474.1V950.4H489.1V952.6H506.1V954.8H525.1V957.0H545.1V959.2H565.1V961.4H584.1V963.6H602.1V965.8H618.1V968.0H633.1V970.2H647.1V972.4H660.1V974.6H672.1V976.8H682.1V979.0H693.1V981.2H703.1V983.4H714.1V985.6H724.1V987.8H735.1V990.0H745.1V992.2H755.1V994.4H764.1V996.6H773.1V998.8H782.1V1001.0H790.1V1003.2H798.1V1005.4H807.1V1007.6H816.1V1009.8H825.1V1012.0H835.1V1014.2H844.1V1016.4H855.1V1018.6H865.1V1020.8H876.1V1023.0H887.1V1025.2H899.1V1027.4H913.1V1029.6H933.1V1031.8H982.6" fill="none" stroke="#dc143c" stroke-width="2.4" stroke-opacity="1.0"/>
<path d="M347.6 941.6H392.1V943.8H436.1V946.0H460.1V948.2H476.1V950.4H492.1V952.6H510.1V954.8H530.1V957.0H550.1V959.2H571.1V961.4H590.1V963.6H607.1V965.8H623.1V968.0H639.1V970.2H653.1V972.4H665.1V974.6H676.1V976.8H687.1V979.0H697.1V981.2H708.1V983.4H719.1V985.6H730.1V987.8H740.1V990.0H750.1V992.2H760.1V994.4H769.1V996.6H778.1V998.8H787.1V1001.0H795.1V1003.2H804.1V1005.4H813.1V1007.6H822.1V1009.8H832.1V1012.0H841.1V1014.2H852.1V1016.4H862.1V1018.6H873.1V1020.8H884.1V1023.0H896.1V1025.2H910.1V1027.4H928.1V1029.6H970.1V1031.8H982.6" fill="none" stroke="#006400" stroke-width="2.4" stroke-opacity="1.0"/>
<path d="M347.6 941.6H397.1V943.8H440.1V946.0H463.1V948.2H479.1V950.4H495.1V952.6H514.1V954.8H535.1V957.0H556.1V959.2H576.1V961.4H595.1V963.6H612.1V965.8H629.1V968.0H644.1V970.2H658.1V972.4H670.1V974.6H681.1V976.8H691.1V979.0H702.1V981.2H713.1V983.4H724.1V985.6H735.1V987.8H746.1V990.0H756.1V992.2H765.1V994.4H774.1V996.6H783.1V998.8H792.1V1001.0H800.1V1003.2H809.1V1005.4H819.1V1007.6H828.1V1009.8H838.1V1012.0H848.1V1014.2H859.1V1016.4H870.1V1018.6H882.1V1020.8H893.1V1023.0H907.1V1025.2H924.1V1027.4H952.1V1029.6H982.6" fill="none" stroke="#007070" stroke-width="2.4" stroke-opacity="1.0"/>
<path d="M347.6 941.6H402.1V943.8H444.1V946.0H465.1V948.2H482.1V950.4H499.1V952.6H519.1V954.8H540.1V957.0H561.1V959.2H582.1V961.4H600.1V963.6H618.1V965.8H634.1V968.0H649.1V970.2H662.1V972.4H674.1V974.6H685.1V976.8H696.1V979.0H707.1V981.2H718.1V983.4H729.1V985.6H740.1V987.8H751.1V990.0H761.1V992.2H770.1V994.4H779.1V996.6H788.1V998.8H797.1V1001.0H806.1V1003.2H815.1V1005.4H825.1V1007.6H835.1V1009.8H845.1V1012.0H856.1V1014.2H867.1V1016.4H878.1V1018.6H890.1V1020.8H903.1V1023.0H919.1V1025.2H944.1V1027.4H982.6" fill="none" stroke="#00a000" stroke-width="2.4" stroke-opacity="1.0"/>
<path d="M347.6 941.6H407.1V943.8H447.1V946.0H468.1V948.2H484.1V950.4H502.1V952.6H523.1V954.8H545.1V957.0H566.1V959.2H587.1V961.4H606.1V963.6H623.1V965.8H639.1V968.0H654.1V970.2H667.1V972.4H679.1V974.6H690.1V976.8H701.1V979.0H712.1V981.2H723.1V983.4H735.1V985.6H746.1V987.8H756.1V990.0H766.1V992.2H775.1V994.4H784.1V996.6H793.1V998.8H802.1V1001.0H811.1V1003.2H821.1V1005.4H831.1V1007.6H841.1V1009.8H852.1V1012.0H863.1V1014.2H875.1V1016.4H887.1V1018.6H899.1V1020.8H914.1V1023.0H937.1V1025.2H982.6" fill="none" stroke="#5b5b00" stroke-width="2.4" stroke-opacity="1.0"/>
<path d="M347.6 941.6H412.1V943.8H451.1V946.0H470.1V948.2H487.1V950.4H506.1V952.6H528.1V954.8H550.1V957.0H572.1V959.2H592.1V961.4H611.1V963.6H628.1V965.8H644.1V968.0H659.1V970.2H671.1V972.4H683.1V974.6H694.1V976.8H705.1V979.0H717.1V981.2H728.1V983.4H740.1V985.6H751.1V987.8H761.1V990.0H771.1V992.2H780.1V994.4H789.1V996.6H798.1V998.8H807.1V1001.0H817.1V1003.2H827.1V1005.4H838.1V1007.6H848.1V1009.8H859.1V1012.0H871.1V1014.2H883.1V1016.4H895.1V1018.6H910.1V1020.8H929.1V1023.0H982.6" fill="none" stroke="#0064ff" stroke-width="2.4" stroke-opacity="1.0"/>
<path d="M347.6 941.6H417.1V943.8H454.1V946.0H473.1V948.2H490.1V950.4H510.1V952.6H532.1V954.8H555.1V957.0H577.1V959.2H598.1V961.4H616.1V963.6H633.1V965.8H649.1V968.0H663.1V970.2H676.1V972.4H687.1V974.6H698.1V976.8H710.1V979.0H722.1V981.2H734.1V983.4H745.1V985.6H756.1V987.8H766.1V990.0H776.1V992.2H785.1V994.4H794.1V996.6H803.1V998.8H813.1V1001.0H823.1V1003.2H834.1V1005.4H844.1V1007.6H855.1V1009.8H867.1V1012.0H879.1V1014.2H891.1V1016.4H905.1V1018.6H923.1V1020.8H953.1V1023.0H982.6" fill="none" stroke="#e06000" stroke-width="2.4" stroke-opacity="1.0"/>
<path d="M347.6 941.6H422.1V943.8H457.1V946.0H475.1V948.2H493.1V950.4H514.1V952.6H537.1V954.8H560.1V957.0H582.1V959.2H603.1V961.4H621.1V963.6H638.1V965.8H654.1V968.0H668.1V970.2H680.1V972.4H691.1V974.6H703.1V976.8H715.1V979.0H727.1V981.2H739.1V983.4H750.1V985.6H761.1V987.8H771.1V990.0H780.1V992.2H790.1V994.4H799.1V996.6H809.1V998.8H819.1V1001.0H829.1V1003.2H840.1V1005.4H851.1V1007.6H863.1V1009.8H875.1V1012.0H887.1V1014.2H900.1V1016.4H917.1V1018.6H942.1V1020.8H982.6" fill="none" stroke="#00906b" stroke-width="2.4" stroke-opacity="1.0"/>
<path d="M347.6 941.6H427.1V943.8H459.1V946.0H478.1V948.2H496.1V950.4H518.1V952.6H542.1V954.8H565.1V957.0H588.1V959.2H608.1V961.4H626.1V963.6H643.1V965.8H659.1V968.0H672.1V970.2H684.1V972.4H696.1V974.6H708.1V976.8H720.1V979.0H732.1V981.2H744.1V983.4H755.1V985.6H766.1V987.8H776.1V990.0H785.1V992.2H795.1V994.4H804.1V996.6H814.1V998.8H825.1V1001.0H836.1V1003.2H847.1V1005.4H858.1V1007.6H871.1V1009.8H883.1V1012.0H896.1V1014.2H911.1V1016.4H933.1V1018.6H982.6" fill="none" stroke="#d01010" stroke-width="2.4" stroke-opacity="1.0"/>
<path d="M347.6 939.4H358.1V941.6H431.1V943.8H461.1V946.0H480.1V948.2H499.1V950.4H522.1V952.6H547.1V954.8H570.1V957.0H593.1V959.2H613.1V961.4H631.1V963.6H648.1V965.8H663.1V968.0H676.1V970.2H688.1V972.4H700.1V974.6H713.1V976.8H725.1V979.0H737.1V981.2H749.1V983.4H760.1V985.6H771.1V987.8H780.1V990.0H790.1V992.2H799.1V994.4H810.1V996.6H820.1V998.8H831.1V1001.0H842.1V1003.2H854.1V1005.4H866.1V1007.6H878.1V1009.8H891.1V1012.0H906.1V1014.2H925.1V1016.4H960.1V1018.6H982.6" fill="none" stroke="#1e3cff" stroke-width="2.4" stroke-opacity="1.0"/>
<path d="M347.6 939.4H369.1V941.6H436.1V943.8H464.1V946.0H483.1V948.2H503.1V950.4H527.1V952.6H551.1V954.8H576.1V957.0H598.1V959.2H618.1V961.4H636.1V963.6H653.1V965.8H668.1V968.0H680.1V970.2H693.1V972.4H705.1V974.6H717.1V976.8H730.1V979.0H742.1V981.2H754.1V983.4H765.1V985.6H775.1V987.8H785.1V990.0H795.1V992.2H805.1V994.4H815.1V996.6H826.1V998.8H837.1V1001.0H849.1V1003.2H861.1V1005.4H874.1V1007.6H886.1V1009.8H900.1V1012.0H917.1V1014.2H945.1V1016.4H982.6" fill="none" stroke="#e010e0" stroke-width="1.7" stroke-opacity="1.0"/>
</g>
<g filter="url(#bl)" stroke-width="2.6" stroke-opacity="0.8">
<line x1="343.3" y1="1015" x2="343.3" y2="1017.98" stroke="#0000ff"/>
<line x1="343.3" y1="1019.2" x2="343.3" y2="1022.72" stroke="#008000"/>
<line x1="343.3" y1="1023.83" x2="343.3" y2="1026.63" stroke="#ff0000"/>
<line x1="343.3" y1="1027.95" x2="343.3" y2="1030.48" stroke="#00bfbf"/>
<line x1="343.3" y1="1031.38" x2="343.3" y2="1034.95" stroke="#bf00bf"/>
<line x1="343.3" y1="1036.07" x2="343.3" y2="1039.04" stroke="#bfbf00"/>
<line x1="343.3" y1="1039.65" x2="343.3" y2="1042.44" stroke="#404040"/>
<line x1="343.3" y1="1043.62" x2="343.3" y2="1045.84" stroke="#0000ff"/>
<line x1="343.3" y1="1047.06" x2="343.3" y2="1050.14" stroke="#008000"/>
<line x1="343.3" y1="1050.8" x2="343.3" y2="1053.88" stroke="#ff0000"/>
<line x1="343.3" y1="1054.95" x2="343.3" y2="1058.1" stroke="#00bfbf"/>
<line x1="343.3" y1="1059.05" x2="343.3" y2="1062.24" stroke="#bf00bf"/>
<line x1="343.3" y1="1063.58" x2="343.3" y2="1065.81" stroke="#bfbf00"/>
<line x1="343.3" y1="1066.47" x2="343.3" y2="1069.62" stroke="#404040"/>
<line x1="343.3" y1="1071.18" x2="343.3" y2="1073.73" stroke="#0000ff"/>
<line x1="343.3" y1="1074.79" x2="343.3" y2="1077.82" stroke="#008000"/>
<line x1="343.3" y1="1078.74" x2="343.3" y2="1081.45" stroke="#ff0000"/>
<line x1="343.3" y1="1082.36" x2="343.3" y2="1085.08" stroke="#00bfbf"/>
<line x1="343.3" y1="1086.27" x2="343.3" y2="1088.89" stroke="#bf00bf"/>
<line x1="343.3" y1="1089.87" x2="343.3" y2="1093.15" stroke="#bfbf00"/>
<line x1="343.3" y1="1093.78" x2="343.3" y2="1096.78" stroke="#404040"/>
<line x1="343.3" y1="1098.11" x2="343.3" y2="1100.75" stroke="#0000ff"/>
<line x1="343.3" y1="1101.57" x2="343.3" y2="1104.89" stroke="#008000"/>
<line x1="343.3" y1="1105.73" x2="343.3" y2="1108.19" stroke="#ff0000"/>
<line x1="343.3" y1="1109.23" x2="343.3" y2="1112.41" stroke="#00bfbf"/>
<line x1="343.3" y1="1113.11" x2="343.3" y2="1115.76" stroke="#bf00bf"/>
<line x1="343.3" y1="1116.69" x2="343.3" y2="1120.06" stroke="#bfbf00"/>
<line x1="343.3" y1="1121.1" x2="343.3" y2="1124.5" stroke="#404040"/>
<line x1="343.3" y1="1125.27" x2="343.3" y2="1127.94" stroke="#0000ff"/>
<line x1="343.3" y1="1129.19" x2="343.3" y2="1132.63" stroke="#008000"/>
<line x1="343.3" y1="1133.68" x2="343.3" y2="1136.19" stroke="#ff0000"/>
<line x1="343.3" y1="1136.91" x2="343.3" y2="1139.86" stroke="#00bfbf"/>
<line x1="343.3" y1="1140.65" x2="343.3" y2="1143.98" stroke="#bf00bf"/>
<line x1="343.3" y1="1145.41" x2="343.3" y2="1147.87" stroke="#bfbf00"/>
<line x1="343.3" y1="1148.75" x2="343.3" y2="1152.08" stroke="#404040"/>
<line x1="343.3" y1="1153.32" x2="343.3" y2="1156.65" stroke="#0000ff"/>
<line x1="343.3" y1="1157.6" x2="343.3" y2="1159.98" stroke="#008000"/>
<line x1="343.3" y1="1160.87" x2="343.3" y2="1164.18" stroke="#ff0000"/>
<line x1="343.3" y1="1165.05" x2="343.3" y2="1167.74" stroke="#00bfbf"/>
<line x1="343.3" y1="1168.75" x2="343.3" y2="1171.54" stroke="#bf00bf"/>
<line x1="343.3" y1="1172.55" x2="343.3" y2="1176.04" stroke="#bfbf00"/>
<line x1="343.3" y1="1176.8" x2="343.3" y2="1179" stroke="#404040"/>
<line x1="343.3" y1="1180.55" x2="343.3" y2="1183.98" stroke="#0000ff"/>
<line x1="343.3" y1="1185.56" x2="343.3" y2="1188.37" stroke="#008000"/>
<line x1="343.3" y1="1189.92" x2="343.3" y2="1193.42" stroke="#ff0000"/>
<line x1="343.3" y1="1194.24" x2="343.3" y2="1197.49" stroke="#00bfbf"/>
<line x1="343.3" y1="1198.92" x2="343.3" y2="1202.05" stroke="#bf00bf"/>
<line x1="343.3" y1="1203.17" x2="343.3" y2="1205.78" stroke="#bfbf00"/>
<line x1="343.3" y1="1206.72" x2="343.3" y2="1209.23" stroke="#404040"/>
<line x1="343.3" y1="1209.9" x2="343.3" y2="1212.93" stroke="#0000ff"/>
<line x1="343.3" y1="1213.81" x2="343.3" y2="1217.15" stroke="#008000"/>
<line x1="343.3" y1="1217.79" x2="343.3" y2="1221.26" stroke="#ff0000"/>
<line x1="343.3" y1="1222.55" x2="343.3" y2="1226.05" stroke="#00bfbf"/>
<line x1="343.3" y1="1227.54" x2="343.3" y2="1231" stroke="#bf00bf"/>
<line x1="343.3" y1="1232.18" x2="343.3" y2="1234.4" stroke="#bfbf00"/>
<line x1="343.3" y1="1235.74" x2="343.3" y2="1238.18" stroke="#404040"/>
<line x1="343.3" y1="1239.08" x2="343.3" y2="1242.21" stroke="#0000ff"/>
<line x1="343.3" y1="1243.34" x2="343.3" y2="1246.11" stroke="#008000"/>
<line x1="343.3" y1="1247.65" x2="343.3" y2="1250.71" stroke="#ff0000"/>
<line x1="343.3" y1="1251.65" x2="343.3" y2="1254.21" stroke="#00bfbf"/>
<line x1="343.3" y1="1255.67" x2="343.3" y2="1258.54" stroke="#bf00bf"/>
<line x1="343.3" y1="1259.92" x2="343.3" y2="1262.61" stroke="#bfbf00"/>
<line x1="343.3" y1="1263.41" x2="343.3" y2="1266.36" stroke="#404040"/>
<line x1="343.3" y1="1267.77" x2="343.3" y2="1270.21" stroke="#0000ff"/>
<line x1="343.3" y1="1271.6" x2="343.3" y2="1275.09" stroke="#008000"/>
<line x1="343.3" y1="1276.5" x2="343.3" y2="1279.85" stroke="#ff0000"/>
<line x1="343.3" y1="1280.46" x2="343.3" y2="1283.54" stroke="#00bfbf"/>
<line x1="343.3" y1="1285" x2="343.3" y2="1287.27" stroke="#bf00bf"/>
<line x1="343.3" y1="1288.15" x2="343.3" y2="1290.72" stroke="#bfbf00"/>
<line x1="343.3" y1="1291.85" x2="343.3" y2="1294.64" stroke="#404040"/>
<line x1="343.3" y1="1295.71" x2="343.3" y2="1299" stroke="#0000ff"/>
<line x1="343.3" y1="1299.6" x2="343.3" y2="1301.88" stroke="#008000"/>
<line x1="343.3" y1="1302.61" x2="343.3" y2="1304.98" stroke="#ff0000"/>
<line x1="343.3" y1="1305.65" x2="343.3" y2="1309.21" stroke="#00bfbf"/>
<line x1="343.3" y1="1310.67" x2="343.3" y2="1312.99" stroke="#bf00bf"/>
<line x1="343.3" y1="1314.09" x2="343.3" y2="1316.73" stroke="#bfbf00"/>
<line x1="343.3" y1="1317.65" x2="343.3" y2="1320.34" stroke="#404040"/>
<line x1="343.3" y1="1321.59" x2="343.3" y2="1324.61" stroke="#0000ff"/>
<line x1="343.3" y1="1325.57" x2="343.3" y2="1328.04" stroke="#008000"/>
<line x1="343.3" y1="1328.96" x2="343.3" y2="1331.34" stroke="#ff0000"/>
<line x1="343.3" y1="1332.49" x2="343.3" y2="1335.7" stroke="#00bfbf"/>
<line x1="343.3" y1="1336.68" x2="343.3" y2="1338.99" stroke="#bf00bf"/>
<line x1="343.3" y1="1339.77" x2="343.3" y2="1342.49" stroke="#bfbf00"/>
<line x1="343.3" y1="1343.69" x2="343.3" y2="1346.99" stroke="#404040"/>
<line x1="343.3" y1="1347.97" x2="343.3" y2="1351.29" stroke="#0000ff"/>
<line x1="343.3" y1="1352.51" x2="343.3" y2="1355.32" stroke="#008000"/>
<line x1="343.3" y1="1356.29" x2="343.3" y2="1359.19" stroke="#ff0000"/>
<line x1="343.3" y1="1360.49" x2="343.3" y2="1363.28" stroke="#00bfbf"/>
<line x1="343.3" y1="1364.57" x2="343.3" y2="1367.42" stroke="#bf00bf"/>
<line x1="343.3" y1="1368.26" x2="343.3" y2="1371.21" stroke="#bfbf00"/>
<line x1="343.3" y1="1372.51" x2="343.3" y2="1374.81" stroke="#404040"/>
<line x1="343.3" y1="1375.83" x2="343.3" y2="1378.63" stroke="#0000ff"/>
<line x1="343.3" y1="1380.11" x2="343.3" y2="1383.62" stroke="#008000"/>
<line x1="343.3" y1="1384.59" x2="343.3" y2="1388.05" stroke="#ff0000"/>
<line x1="343.3" y1="1389.44" x2="343.3" y2="1392.01" stroke="#00bfbf"/>
<line x1="343.3" y1="1393.07" x2="343.3" y2="1395.44" stroke="#bf00bf"/>
<line x1="343.3" y1="1396.86" x2="343.3" y2="1399.99" stroke="#bfbf00"/>
<line x1="343.3" y1="1401.47" x2="343.3" y2="1404.78" stroke="#404040"/>
<line x1="343.3" y1="1406.05" x2="343.3" y2="1409.28" stroke="#0000ff"/>
<line x1="343.3" y1="1410.44" x2="343.3" y2="1412.78" stroke="#008000"/>
</g>
<circle cx="343.3" cy="1404.5" r="1.8" fill="#3030ff"/>
<g filter="url(#bl)"><path d="M934.5 937.8H962" stroke="#e070e8" stroke-width="2.4"/><path d="M962 937.8H978" stroke="#6a3a6a" stroke-width="2.4"/><path d="M978 937.8H984" stroke="#e01050" stroke-width="2.4"/></g>
<line x1="984" y1="941" x2="984" y2="943.5" stroke="#0000ff" stroke-width="1.6" stroke-opacity="0.3"/>
<line x1="984" y1="944.6" x2="984" y2="947.1" stroke="#008000" stroke-width="1.6" stroke-opacity="0.3"/>
<line x1="984" y1="948.2" x2="984" y2="950.7" stroke="#ff0000" stroke-width="1.6" stroke-opacity="0.3"/>
<line x1="984" y1="951.8" x2="984" y2="954.3" stroke="#00bfbf" stroke-width="1.6" stroke-opacity="0.3"/>
<line x1="984" y1="955.4" x2="984" y2="957.9" stroke="#bf00bf" stroke-width="1.6" stroke-opacity="0.3"/>
<line x1="984" y1="959" x2="984" y2="961.5" stroke="#bfbf00" stroke-width="1.6" stroke-opacity="0.3"/>
<line x1="984" y1="962.6" x2="984" y2="965.1" stroke="#404040" stroke-width="1.6" stroke-opacity="0.3"/>
<line x1="984" y1="966.2" x2="984" y2="968.7" stroke="#0000ff" stroke-width="1.6" stroke-opacity="0.3"/>
<line x1="984" y1="969.8" x2="984" y2="972.3" stroke="#008000" stroke-width="1.6" stroke-opacity="0.3"/>
<line x1="984" y1="973.4" x2="984" y2="975.9" stroke="#ff0000" stroke-width="1.6" stroke-opacity="0.3"/>
<line x1="984" y1="977" x2="984" y2="979.5" stroke="#00bfbf" stroke-width="1.6" stroke-opacity="0.3"/>
<line x1="984" y1="980.6" x2="984" y2="983.1" stroke="#bf00bf" stroke-width="1.6" stroke-opacity="0.3"/>
<line x1="984" y1="984.2" x2="984" y2="986.7" stroke="#bfbf00" stroke-width="1.6" stroke-opacity="0.3"/>
<line x1="984" y1="987.8" x2="984" y2="990.3" stroke="#404040" stroke-width="1.6" stroke-opacity="0.3"/>
<line x1="984" y1="991.4" x2="984" y2="993.9" stroke="#0000ff" stroke-width="1.6" stroke-opacity="0.3"/>
<line x1="984" y1="995" x2="984" y2="997.5" stroke="#008000" stroke-width="1.6" stroke-opacity="0.3"/>
<line x1="984" y1="998.6" x2="984" y2="1001.1" stroke="#ff0000" stroke-width="1.6" stroke-opacity="0.3"/>
<line x1="984" y1="1002.2" x2="984" y2="1004.7" stroke="#00bfbf" stroke-width="1.6" stroke-opacity="0.3"/>
<line x1="984" y1="1005.8" x2="984" y2="1008.3" stroke="#bf00bf" stroke-width="1.6" stroke-opacity="0.3"/>
<line x1="984" y1="1009.4" x2="984" y2="1011.9" stroke="#bfbf00" stroke-width="1.6" stroke-opacity="0.3"/>
<text x="333.31" y="1456.8" font-family="'Liberation Sans', Arial, sans-serif" font-size="21.5" font-weight="700" fill="#000" stroke="#000" stroke-width="0.3" textLength="26.69" lengthAdjust="spacingAndGlyphs">0.5</text>
<text x="453.38" y="1456.8" font-family="'Liberation Sans', Arial, sans-serif" font-size="21.5" font-weight="700" fill="#000" stroke="#000" stroke-width="0.3" textLength="37.37" lengthAdjust="spacingAndGlyphs">0.51</text>
<text x="586.63" y="1456.8" font-family="'Liberation Sans', Arial, sans-serif" font-size="21.5" font-weight="700" fill="#000" stroke="#000" stroke-width="0.3" textLength="37.37" lengthAdjust="spacingAndGlyphs">0.52</text>
<text x="719.08" y="1456.8" font-family="'Liberation Sans', Arial, sans-serif" font-size="21.5" font-weight="700" fill="#000" stroke="#000" stroke-width="0.3" textLength="37.37" lengthAdjust="spacingAndGlyphs">0.53</text>
<text x="851.09" y="1456.8" font-family="'Liberation Sans', Arial, sans-serif" font-size="21.5" font-weight="700" fill="#000" stroke="#000" stroke-width="0.3" textLength="37.37" lengthAdjust="spacingAndGlyphs">0.54</text>
<text x="977.78" y="1456.8" font-family="'Liberation Sans', Arial, sans-serif" font-size="21.5" font-weight="700" fill="#000" stroke="#000" stroke-width="0.3" textLength="37.37" lengthAdjust="spacingAndGlyphs">0.55</text>
<text x="319.66" y="934.4" font-family="'Liberation Sans', Arial, sans-serif" font-size="21.5" font-weight="700" fill="#000" stroke="#000" stroke-width="0.3" textLength="10.3" lengthAdjust="spacingAndGlyphs">0</text>
<text x="310.05" y="1096.9" font-family="'Liberation Sans', Arial, sans-serif" font-size="21.5" font-weight="700" fill="#000" stroke="#000" stroke-width="0.3" textLength="16.6" lengthAdjust="spacingAndGlyphs">-5</text>
<text x="302.26" y="1259.4" font-family="'Liberation Sans', Arial, sans-serif" font-size="21.5" font-weight="700" fill="#000" stroke="#000" stroke-width="0.3" textLength="26.68" lengthAdjust="spacingAndGlyphs">-10</text>
<text x="303.35" y="1421.4" font-family="'Liberation Sans', Arial, sans-serif" font-size="21.5" font-weight="700" fill="#000" stroke="#000" stroke-width="0.3" textLength="27.13" lengthAdjust="spacingAndGlyphs">-15</text>
<text x="17" y="938" font-family="'Liberation Sans', Arial, sans-serif" font-size="52" fill="#000" stroke="#000" stroke-width="0.6" textLength="63.22" lengthAdjust="spacingAndGlyphs">(b)</text>
<text x="613.71" y="1510.9" font-family="'Liberation Serif', 'Times New Roman', serif" font-size="50" fill="#000" textLength="133.13" lengthAdjust="spacingAndGlyphs">z (cm)</text>
<g transform="translate(274 0) scale(1.09 1) rotate(-90)">
<text x="-1346.77" y="0" font-family="Carlito, 'Liberation Sans', sans-serif" font-size="44.99" fill="#000" textLength="312.48" lengthAdjust="spacing">Modal Gain [cm</text>
<text x="-1032.83" y="-13.6" font-family="Carlito, 'Liberation Sans', sans-serif" font-size="31.17" fill="#000" textLength="9.86" lengthAdjust="spacing">-</text>
<text x="-1022.88" y="-13.6" font-family="Carlito, 'Liberation Sans', sans-serif" font-size="31.17" fill="#000" textLength="15.97" lengthAdjust="spacing">1</text>
<text x="-1006.35" y="0" font-family="Carlito, 'Liberation Sans', sans-serif" font-size="44.99" fill="#000" textLength="14.07" lengthAdjust="spacing">]</text>
</g>
<path d="M544.7 991.2 L676.5 1010.8 L639.6 1037.6 L869.8 1347.4 L794.3 1398.1 L560.8 1089.2 L522.5 1113.1 Z" transform="translate(2 5)" fill="#000" fill-opacity="0.6" filter="url(#sh)"/>
<path d="M544.7 991.2 L676.5 1010.8 L639.6 1037.6 L869.8 1347.4 L794.3 1398.1 L560.8 1089.2 L522.5 1113.1 Z" fill="#fff" stroke="#4a7ebf" stroke-width="6.2" stroke-linejoin="round"/>
<g transform="translate(585.57 1071.4) rotate(53.13)">
<text transform="matrix(1.06 0 0 1 -0.24 0)" x="-0.19" y="0" font-family="Carlito, 'Liberation Sans', sans-serif" font-size="51" fill="#000" textLength="346.26" lengthAdjust="spacing">Injected current</text>
</g>
</svg>
</body></html>
